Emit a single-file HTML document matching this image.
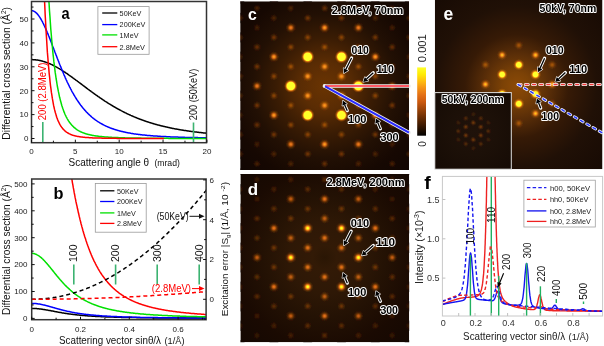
<!DOCTYPE html>
<html><head><meta charset="utf-8"><style>
html,body{margin:0;padding:0;background:#fff;}
svg{display:block;}
text{opacity:0.999}
</style></head><body>
<svg width="604" height="346" viewBox="0 0 604 346">
<rect width="604" height="346" fill="#fff"/>
<clipPath id="clipa"><rect x="31.5" y="1.5" width="175.0" height="141.2"/></clipPath>
<g clip-path="url(#clipa)" fill="none" stroke-width="1.5" stroke-linejoin="round">
<path d="M31.5,59.6 L31.9,59.6 L32.4,59.6 L32.8,59.7 L33.3,59.7 L33.7,59.7 L34.1,59.7 L34.6,59.8 L35.0,59.8 L35.5,59.8 L35.9,59.9 L36.3,59.9 L36.8,60.0 L37.2,60.0 L37.7,60.1 L38.1,60.2 L38.5,60.3 L39.0,60.3 L39.4,60.4 L39.9,60.5 L40.3,60.6 L40.7,60.7 L41.2,60.8 L41.6,60.9 L42.1,61.0 L42.5,61.2 L42.9,61.3 L43.4,61.4 L43.8,61.5 L44.2,61.7 L44.7,61.8 L45.1,62.0 L45.6,62.1 L46.0,62.3 L46.4,62.4 L46.9,62.6 L47.3,62.7 L47.8,62.9 L48.2,63.1 L48.6,63.3 L49.1,63.4 L49.5,63.6 L50.0,63.8 L50.4,64.0 L50.8,64.2 L51.3,64.4 L51.7,64.6 L52.2,64.8 L52.6,65.0 L53.0,65.3 L53.5,65.5 L53.9,65.7 L54.4,65.9 L54.8,66.2 L55.2,66.4 L55.7,66.6 L56.1,66.9 L56.6,67.1 L57.0,67.3 L57.4,67.6 L57.9,67.9 L58.3,68.1 L58.8,68.4 L59.2,68.6 L59.6,68.9 L60.1,69.2 L60.5,69.4 L61.0,69.7 L61.4,70.0 L61.8,70.2 L62.3,70.5 L62.7,70.8 L63.2,71.1 L63.6,71.4 L64.0,71.7 L64.5,72.0 L64.9,72.2 L65.3,72.5 L65.8,72.8 L66.2,73.1 L66.7,73.4 L67.1,73.7 L67.5,74.0 L68.0,74.3 L68.4,74.6 L68.9,75.0 L69.3,75.3 L69.7,75.6 L70.2,75.9 L70.6,76.2 L71.1,76.5 L71.5,76.8 L71.9,77.2 L72.4,77.5 L72.8,77.8 L73.3,78.1 L73.7,78.4 L74.1,78.8 L74.6,79.1 L75.0,79.4 L75.5,79.7 L75.9,80.1 L76.3,80.4 L76.8,80.7 L77.2,81.0 L77.7,81.4 L78.1,81.7 L78.5,82.0 L79.0,82.4 L79.4,82.7 L79.9,83.0 L80.3,83.3 L80.7,83.7 L81.2,84.0 L81.6,84.3 L82.1,84.7 L82.5,85.0 L82.9,85.3 L83.4,85.7 L83.8,86.0 L84.3,86.3 L84.7,86.7 L85.1,87.0 L85.6,87.3 L86.0,87.6 L86.4,88.0 L86.9,88.3 L87.3,88.6 L87.8,89.0 L88.2,89.3 L88.6,89.6 L89.1,89.9 L89.5,90.3 L90.0,90.6 L90.4,90.9 L90.8,91.2 L91.3,91.6 L91.7,91.9 L92.2,92.2 L92.6,92.5 L93.0,92.8 L93.5,93.2 L93.9,93.5 L94.4,93.8 L94.8,94.1 L95.2,94.4 L95.7,94.7 L96.1,95.1 L96.6,95.4 L97.0,95.7 L97.4,96.0 L97.9,96.3 L98.3,96.6 L98.8,96.9 L99.2,97.2 L99.6,97.5 L100.1,97.8 L100.5,98.1 L101.0,98.4 L101.4,98.7 L101.8,99.0 L102.3,99.3 L102.7,99.6 L103.2,99.9 L103.6,100.2 L104.0,100.5 L104.5,100.8 L104.9,101.1 L105.4,101.4 L105.8,101.6 L106.2,101.9 L106.7,102.2 L107.1,102.5 L107.6,102.8 L108.0,103.0 L108.4,103.3 L108.9,103.6 L109.3,103.9 L109.7,104.1 L110.2,104.4 L110.6,104.7 L111.1,104.9 L111.5,105.2 L111.9,105.5 L112.4,105.7 L112.8,106.0 L113.3,106.3 L113.7,106.5 L114.1,106.8 L114.6,107.0 L115.0,107.3 L115.5,107.5 L115.9,107.8 L116.3,108.0 L116.8,108.3 L117.2,108.5 L117.7,108.8 L118.1,109.0 L118.5,109.3 L119.0,109.5 L119.4,109.7 L119.9,110.0 L120.3,110.2 L120.7,110.4 L121.2,110.7 L121.6,110.9 L122.1,111.1 L122.5,111.4 L122.9,111.6 L123.4,111.8 L123.8,112.0 L124.3,112.3 L124.7,112.5 L125.1,112.7 L125.6,112.9 L126.0,113.1 L126.5,113.3 L126.9,113.6 L127.3,113.8 L127.8,114.0 L128.2,114.2 L128.7,114.4 L129.1,114.6 L129.5,114.8 L130.0,115.0 L130.4,115.2 L130.8,115.4 L131.3,115.6 L131.7,115.8 L132.2,116.0 L132.6,116.2 L133.0,116.4 L133.5,116.5 L133.9,116.7 L134.4,116.9 L134.8,117.1 L135.2,117.3 L135.7,117.5 L136.1,117.6 L136.6,117.8 L137.0,118.0 L137.4,118.2 L137.9,118.4 L138.3,118.5 L138.8,118.7 L139.2,118.9 L139.6,119.0 L140.1,119.2 L140.5,119.4 L141.0,119.5 L141.4,119.7 L141.8,119.9 L142.3,120.0 L142.7,120.2 L143.2,120.3 L143.6,120.5 L144.0,120.6 L144.5,120.8 L144.9,121.0 L145.4,121.1 L145.8,121.3 L146.2,121.4 L146.7,121.6 L147.1,121.7 L147.6,121.8 L148.0,122.0 L148.4,122.1 L148.9,122.3 L149.3,122.4 L149.8,122.6 L150.2,122.7 L150.6,122.8 L151.1,123.0 L151.5,123.1 L152.0,123.2 L152.4,123.4 L152.8,123.5 L153.3,123.6 L153.7,123.8 L154.1,123.9 L154.6,124.0 L155.0,124.1 L155.5,124.3 L155.9,124.4 L156.3,124.5 L156.8,124.6 L157.2,124.8 L157.7,124.9 L158.1,125.0 L158.5,125.1 L159.0,125.2 L159.4,125.3 L159.9,125.5 L160.3,125.6 L160.7,125.7 L161.2,125.8 L161.6,125.9 L162.1,126.0 L162.5,126.1 L162.9,126.2 L163.4,126.3 L163.8,126.4 L164.3,126.5 L164.7,126.6 L165.1,126.7 L165.6,126.8 L166.0,126.9 L166.5,127.0 L166.9,127.1 L167.3,127.2 L167.8,127.3 L168.2,127.4 L168.7,127.5 L169.1,127.6 L169.5,127.7 L170.0,127.8 L170.4,127.9 L170.9,128.0 L171.3,128.1 L171.7,128.2 L172.2,128.3 L172.6,128.4 L173.1,128.4 L173.5,128.5 L173.9,128.6 L174.4,128.7 L174.8,128.8 L175.2,128.9 L175.7,128.9 L176.1,129.0 L176.6,129.1 L177.0,129.2 L177.4,129.3 L177.9,129.3 L178.3,129.4 L178.8,129.5 L179.2,129.6 L179.6,129.7 L180.1,129.7 L180.5,129.8 L181.0,129.9 L181.4,130.0 L181.8,130.0 L182.3,130.1 L182.7,130.2 L183.2,130.2 L183.6,130.3 L184.0,130.4 L184.5,130.4 L184.9,130.5 L185.4,130.6 L185.8,130.6 L186.2,130.7 L186.7,130.8 L187.1,130.8 L187.6,130.9 L188.0,131.0 L188.4,131.0 L188.9,131.1 L189.3,131.2 L189.8,131.2 L190.2,131.3 L190.6,131.3 L191.1,131.4 L191.5,131.5 L192.0,131.5 L192.4,131.6 L192.8,131.6 L193.3,131.7 L193.7,131.8 L194.2,131.8 L194.6,131.9 L195.0,131.9 L195.5,132.0 L195.9,132.0 L196.3,132.1 L196.8,132.1 L197.2,132.2 L197.7,132.2 L198.1,132.3 L198.5,132.3 L199.0,132.4 L199.4,132.4 L199.9,132.5 L200.3,132.5 L200.7,132.6 L201.2,132.6 L201.6,132.7 L202.1,132.7 L202.5,132.8 L202.9,132.8 L203.4,132.9 L203.8,132.9 L204.3,133.0 L204.7,133.0 L205.1,133.1 L205.6,133.1 L206.0,133.2 L206.5,133.2 L206.9,133.2" stroke="#000"/>
<path d="M31.5,10.6 L31.9,10.7 L32.4,10.7 L32.8,10.8 L33.3,10.9 L33.7,11.1 L34.1,11.3 L34.6,11.6 L35.0,11.9 L35.5,12.2 L35.9,12.6 L36.3,12.9 L36.8,13.4 L37.2,13.9 L37.7,14.4 L38.1,14.9 L38.5,15.5 L39.0,16.1 L39.4,16.7 L39.9,17.4 L40.3,18.1 L40.7,18.8 L41.2,19.5 L41.6,20.3 L42.1,21.1 L42.5,21.9 L42.9,22.8 L43.4,23.7 L43.8,24.6 L44.2,25.5 L44.7,26.5 L45.1,27.4 L45.6,28.4 L46.0,29.4 L46.4,30.4 L46.9,31.5 L47.3,32.5 L47.8,33.6 L48.2,34.6 L48.6,35.7 L49.1,36.8 L49.5,37.9 L50.0,39.1 L50.4,40.2 L50.8,41.3 L51.3,42.4 L51.7,43.6 L52.2,44.7 L52.6,45.9 L53.0,47.0 L53.5,48.2 L53.9,49.3 L54.4,50.5 L54.8,51.7 L55.2,52.8 L55.7,54.0 L56.1,55.1 L56.6,56.3 L57.0,57.4 L57.4,58.5 L57.9,59.7 L58.3,60.8 L58.8,61.9 L59.2,63.1 L59.6,64.2 L60.1,65.3 L60.5,66.4 L61.0,67.4 L61.4,68.5 L61.8,69.6 L62.3,70.7 L62.7,71.7 L63.2,72.7 L63.6,73.8 L64.0,74.8 L64.5,75.8 L64.9,76.8 L65.3,77.8 L65.8,78.8 L66.2,79.8 L66.7,80.7 L67.1,81.7 L67.5,82.6 L68.0,83.5 L68.4,84.4 L68.9,85.3 L69.3,86.2 L69.7,87.1 L70.2,87.9 L70.6,88.8 L71.1,89.6 L71.5,90.5 L71.9,91.3 L72.4,92.1 L72.8,92.9 L73.3,93.6 L73.7,94.4 L74.1,95.2 L74.6,95.9 L75.0,96.6 L75.5,97.4 L75.9,98.1 L76.3,98.8 L76.8,99.5 L77.2,100.1 L77.7,100.8 L78.1,101.5 L78.5,102.1 L79.0,102.7 L79.4,103.4 L79.9,104.0 L80.3,104.6 L80.7,105.2 L81.2,105.8 L81.6,106.3 L82.1,106.9 L82.5,107.4 L82.9,108.0 L83.4,108.5 L83.8,109.0 L84.3,109.5 L84.7,110.1 L85.1,110.5 L85.6,111.0 L86.0,111.5 L86.4,112.0 L86.9,112.4 L87.3,112.9 L87.8,113.3 L88.2,113.8 L88.6,114.2 L89.1,114.6 L89.5,115.0 L90.0,115.4 L90.4,115.8 L90.8,116.2 L91.3,116.6 L91.7,117.0 L92.2,117.4 L92.6,117.7 L93.0,118.1 L93.5,118.4 L93.9,118.8 L94.4,119.1 L94.8,119.4 L95.2,119.8 L95.7,120.1 L96.1,120.4 L96.6,120.7 L97.0,121.0 L97.4,121.3 L97.9,121.6 L98.3,121.9 L98.8,122.2 L99.2,122.4 L99.6,122.7 L100.1,123.0 L100.5,123.2 L101.0,123.5 L101.4,123.7 L101.8,124.0 L102.3,124.2 L102.7,124.5 L103.2,124.7 L103.6,124.9 L104.0,125.1 L104.5,125.4 L104.9,125.6 L105.4,125.8 L105.8,126.0 L106.2,126.2 L106.7,126.4 L107.1,126.6 L107.6,126.8 L108.0,127.0 L108.4,127.2 L108.9,127.3 L109.3,127.5 L109.7,127.7 L110.2,127.9 L110.6,128.0 L111.1,128.2 L111.5,128.4 L111.9,128.5 L112.4,128.7 L112.8,128.8 L113.3,129.0 L113.7,129.1 L114.1,129.3 L114.6,129.4 L115.0,129.6 L115.5,129.7 L115.9,129.8 L116.3,130.0 L116.8,130.1 L117.2,130.2 L117.7,130.4 L118.1,130.5 L118.5,130.6 L119.0,130.7 L119.4,130.9 L119.9,131.0 L120.3,131.1 L120.7,131.2 L121.2,131.3 L121.6,131.4 L122.1,131.5 L122.5,131.6 L122.9,131.7 L123.4,131.8 L123.8,131.9 L124.3,132.0 L124.7,132.1 L125.1,132.2 L125.6,132.3 L126.0,132.4 L126.5,132.5 L126.9,132.6 L127.3,132.7 L127.8,132.7 L128.2,132.8 L128.7,132.9 L129.1,133.0 L129.5,133.1 L130.0,133.1 L130.4,133.2 L130.8,133.3 L131.3,133.4 L131.7,133.4 L132.2,133.5 L132.6,133.6 L133.0,133.7 L133.5,133.7 L133.9,133.8 L134.4,133.9 L134.8,133.9 L135.2,134.0 L135.7,134.0 L136.1,134.1 L136.6,134.2 L137.0,134.2 L137.4,134.3 L137.9,134.3 L138.3,134.4 L138.8,134.5 L139.2,134.5 L139.6,134.6 L140.1,134.6 L140.5,134.7 L141.0,134.7 L141.4,134.8 L141.8,134.8 L142.3,134.9 L142.7,134.9 L143.2,135.0 L143.6,135.0 L144.0,135.1 L144.5,135.1 L144.9,135.1 L145.4,135.2 L145.8,135.2 L146.2,135.3 L146.7,135.3 L147.1,135.4 L147.6,135.4 L148.0,135.4 L148.4,135.5 L148.9,135.5 L149.3,135.6 L149.8,135.6 L150.2,135.6 L150.6,135.7 L151.1,135.7 L151.5,135.7 L152.0,135.8 L152.4,135.8 L152.8,135.8 L153.3,135.9 L153.7,135.9 L154.1,135.9 L154.6,136.0 L155.0,136.0 L155.5,136.0 L155.9,136.1 L156.3,136.1 L156.8,136.1 L157.2,136.1 L157.7,136.2 L158.1,136.2 L158.5,136.2 L159.0,136.3 L159.4,136.3 L159.9,136.3 L160.3,136.3 L160.7,136.4 L161.2,136.4 L161.6,136.4 L162.1,136.4 L162.5,136.5 L162.9,136.5 L163.4,136.5 L163.8,136.5 L164.3,136.6 L164.7,136.6 L165.1,136.6 L165.6,136.6 L166.0,136.6 L166.5,136.7 L166.9,136.7 L167.3,136.7 L167.8,136.7 L168.2,136.8 L168.7,136.8 L169.1,136.8 L169.5,136.8 L170.0,136.8 L170.4,136.9 L170.9,136.9 L171.3,136.9 L171.7,136.9 L172.2,136.9 L172.6,136.9 L173.1,137.0 L173.5,137.0 L173.9,137.0 L174.4,137.0 L174.8,137.0 L175.2,137.0 L175.7,137.1 L176.1,137.1 L176.6,137.1 L177.0,137.1 L177.4,137.1 L177.9,137.1 L178.3,137.2 L178.8,137.2 L179.2,137.2 L179.6,137.2 L180.1,137.2 L180.5,137.2 L181.0,137.2 L181.4,137.2 L181.8,137.3 L182.3,137.3 L182.7,137.3 L183.2,137.3 L183.6,137.3 L184.0,137.3 L184.5,137.3 L184.9,137.4 L185.4,137.4 L185.8,137.4 L186.2,137.4 L186.7,137.4 L187.1,137.4 L187.6,137.4 L188.0,137.4 L188.4,137.4 L188.9,137.5 L189.3,137.5 L189.8,137.5 L190.2,137.5 L190.6,137.5 L191.1,137.5 L191.5,137.5 L192.0,137.5 L192.4,137.5 L192.8,137.5 L193.3,137.6 L193.7,137.6 L194.2,137.6 L194.6,137.6 L195.0,137.6 L195.5,137.6 L195.9,137.6 L196.3,137.6 L196.8,137.6 L197.2,137.6 L197.7,137.6 L198.1,137.7 L198.5,137.7 L199.0,137.7 L199.4,137.7 L199.9,137.7 L200.3,137.7 L200.7,137.7 L201.2,137.7 L201.6,137.7 L202.1,137.7 L202.5,137.7 L202.9,137.7 L203.4,137.7 L203.8,137.8 L204.3,137.8 L204.7,137.8 L205.1,137.8 L205.6,137.8 L206.0,137.8 L206.5,137.8 L206.9,137.8" stroke="#0000ff"/>
<path d="M31.5,-28.8 L31.9,-28.8 L32.4,-28.8 L32.8,-28.8 L33.3,-28.8 L33.7,-28.8 L34.1,-28.8 L34.6,-28.8 L35.0,-28.8 L35.5,-28.8 L35.9,-28.8 L36.3,-28.8 L36.8,-28.8 L37.2,-28.8 L37.7,-28.8 L38.1,-28.8 L38.5,-28.8 L39.0,-28.8 L39.4,-28.8 L39.9,-28.8 L40.3,-28.8 L40.7,-28.8 L41.2,-28.8 L41.6,-28.8 L42.1,-28.8 L42.5,-28.8 L42.9,-28.8 L43.4,-28.8 L43.8,-28.8 L44.2,-28.8 L44.7,-28.8 L45.1,-28.8 L45.6,-28.8 L46.0,-28.8 L46.4,-28.8 L46.9,-28.8 L47.3,-27.2 L47.8,-18.8 L48.2,-10.8 L48.6,-3.2 L49.1,4.0 L49.5,10.9 L50.0,17.3 L50.4,23.4 L50.8,29.2 L51.3,34.7 L51.7,39.9 L52.2,44.8 L52.6,49.4 L53.0,53.8 L53.5,58.0 L53.9,61.9 L54.4,65.6 L54.8,69.1 L55.2,72.4 L55.7,75.6 L56.1,78.5 L56.6,81.4 L57.0,84.0 L57.4,86.5 L57.9,88.9 L58.3,91.2 L58.8,93.3 L59.2,95.3 L59.6,97.3 L60.1,99.1 L60.5,100.8 L61.0,102.5 L61.4,104.0 L61.8,105.5 L62.3,106.9 L62.7,108.2 L63.2,109.5 L63.6,110.7 L64.0,111.9 L64.5,112.9 L64.9,114.0 L65.3,115.0 L65.8,115.9 L66.2,116.8 L66.7,117.7 L67.1,118.5 L67.5,119.2 L68.0,120.0 L68.4,120.7 L68.9,121.4 L69.3,122.0 L69.7,122.6 L70.2,123.2 L70.6,123.8 L71.1,124.3 L71.5,124.8 L71.9,125.3 L72.4,125.8 L72.8,126.2 L73.3,126.6 L73.7,127.1 L74.1,127.5 L74.6,127.8 L75.0,128.2 L75.5,128.5 L75.9,128.9 L76.3,129.2 L76.8,129.5 L77.2,129.8 L77.7,130.1 L78.1,130.3 L78.5,130.6 L79.0,130.9 L79.4,131.1 L79.9,131.3 L80.3,131.6 L80.7,131.8 L81.2,132.0 L81.6,132.2 L82.1,132.4 L82.5,132.6 L82.9,132.7 L83.4,132.9 L83.8,133.1 L84.3,133.2 L84.7,133.4 L85.1,133.5 L85.6,133.7 L86.0,133.8 L86.4,133.9 L86.9,134.1 L87.3,134.2 L87.8,134.3 L88.2,134.4 L88.6,134.5 L89.1,134.6 L89.5,134.7 L90.0,134.8 L90.4,134.9 L90.8,135.0 L91.3,135.1 L91.7,135.2 L92.2,135.3 L92.6,135.4 L93.0,135.5 L93.5,135.5 L93.9,135.6 L94.4,135.7 L94.8,135.8 L95.2,135.8 L95.7,135.9 L96.1,136.0 L96.6,136.0 L97.0,136.1 L97.4,136.1 L97.9,136.2 L98.3,136.3 L98.8,136.3 L99.2,136.4 L99.6,136.4 L100.1,136.5 L100.5,136.5 L101.0,136.5 L101.4,136.6 L101.8,136.6 L102.3,136.7 L102.7,136.7 L103.2,136.8 L103.6,136.8 L104.0,136.8 L104.5,136.9 L104.9,136.9 L105.4,136.9 L105.8,137.0 L106.2,137.0 L106.7,137.0 L107.1,137.1 L107.6,137.1 L108.0,137.1 L108.4,137.2 L108.9,137.2 L109.3,137.2 L109.7,137.2 L110.2,137.3 L110.6,137.3 L111.1,137.3 L111.5,137.3 L111.9,137.4 L112.4,137.4 L112.8,137.4 L113.3,137.4 L113.7,137.5 L114.1,137.5 L114.6,137.5 L115.0,137.5 L115.5,137.5 L115.9,137.6 L116.3,137.6 L116.8,137.6 L117.2,137.6 L117.7,137.6 L118.1,137.6 L118.5,137.7 L119.0,137.7 L119.4,137.7 L119.9,137.7 L120.3,137.7 L120.7,137.7 L121.2,137.7 L121.6,137.8 L122.1,137.8 L122.5,137.8 L122.9,137.8 L123.4,137.8 L123.8,137.8 L124.3,137.8 L124.7,137.8 L125.1,137.9 L125.6,137.9 L126.0,137.9 L126.5,137.9 L126.9,137.9 L127.3,137.9 L127.8,137.9 L128.2,137.9 L128.7,137.9 L129.1,138.0 L129.5,138.0 L130.0,138.0 L130.4,138.0 L130.8,138.0 L131.3,138.0 L131.7,138.0 L132.2,138.0 L132.6,138.0 L133.0,138.0 L133.5,138.0 L133.9,138.0 L134.4,138.1 L134.8,138.1 L135.2,138.1 L135.7,138.1 L136.1,138.1 L136.6,138.1 L137.0,138.1 L137.4,138.1 L137.9,138.1 L138.3,138.1 L138.8,138.1 L139.2,138.1 L139.6,138.1 L140.1,138.1 L140.5,138.1 L141.0,138.1 L141.4,138.2 L141.8,138.2 L142.3,138.2 L142.7,138.2 L143.2,138.2 L143.6,138.2 L144.0,138.2 L144.5,138.2 L144.9,138.2 L145.4,138.2 L145.8,138.2 L146.2,138.2 L146.7,138.2 L147.1,138.2 L147.6,138.2 L148.0,138.2 L148.4,138.2 L148.9,138.2 L149.3,138.2 L149.8,138.2 L150.2,138.2 L150.6,138.2 L151.1,138.2 L151.5,138.3 L152.0,138.3 L152.4,138.3 L152.8,138.3 L153.3,138.3 L153.7,138.3 L154.1,138.3 L154.6,138.3 L155.0,138.3 L155.5,138.3 L155.9,138.3 L156.3,138.3 L156.8,138.3 L157.2,138.3 L157.7,138.3 L158.1,138.3 L158.5,138.3 L159.0,138.3 L159.4,138.3 L159.9,138.3 L160.3,138.3 L160.7,138.3 L161.2,138.3 L161.6,138.3 L162.1,138.3 L162.5,138.3 L162.9,138.3 L163.4,138.3 L163.8,138.3 L164.3,138.3 L164.7,138.3 L165.1,138.3 L165.6,138.3 L166.0,138.3 L166.5,138.3 L166.9,138.3 L167.3,138.3 L167.8,138.3 L168.2,138.3 L168.7,138.4 L169.1,138.4 L169.5,138.4 L170.0,138.4 L170.4,138.4 L170.9,138.4 L171.3,138.4 L171.7,138.4 L172.2,138.4 L172.6,138.4 L173.1,138.4 L173.5,138.4 L173.9,138.4 L174.4,138.4 L174.8,138.4 L175.2,138.4 L175.7,138.4 L176.1,138.4 L176.6,138.4 L177.0,138.4 L177.4,138.4 L177.9,138.4 L178.3,138.4 L178.8,138.4 L179.2,138.4 L179.6,138.4 L180.1,138.4 L180.5,138.4 L181.0,138.4 L181.4,138.4 L181.8,138.4 L182.3,138.4 L182.7,138.4 L183.2,138.4 L183.6,138.4 L184.0,138.4 L184.5,138.4 L184.9,138.4 L185.4,138.4 L185.8,138.4 L186.2,138.4 L186.7,138.4 L187.1,138.4 L187.6,138.4 L188.0,138.4 L188.4,138.4 L188.9,138.4 L189.3,138.4 L189.8,138.4 L190.2,138.4 L190.6,138.4 L191.1,138.4 L191.5,138.4 L192.0,138.4 L192.4,138.4 L192.8,138.4 L193.3,138.4 L193.7,138.4 L194.2,138.4 L194.6,138.4 L195.0,138.4 L195.5,138.4 L195.9,138.4 L196.3,138.4 L196.8,138.4 L197.2,138.4 L197.7,138.4 L198.1,138.4 L198.5,138.4 L199.0,138.4 L199.4,138.4 L199.9,138.4 L200.3,138.4 L200.7,138.4 L201.2,138.4 L201.6,138.4 L202.1,138.4 L202.5,138.4 L202.9,138.4 L203.4,138.4 L203.8,138.4 L204.3,138.4 L204.7,138.4 L205.1,138.4 L205.6,138.4 L206.0,138.4 L206.5,138.4 L206.9,138.4" stroke="#00e000"/>
<path d="M31.5,-28.8 L31.9,-28.8 L32.4,-28.8 L32.8,-28.8 L33.3,-28.8 L33.7,-28.8 L34.2,-28.8 L34.6,-28.8 L35.0,-28.8 L35.5,-28.8 L35.9,-28.8 L36.4,-28.8 L36.8,-28.8 L37.3,-28.8 L37.7,-28.8 L38.1,-28.8 L38.6,-28.8 L39.0,-28.8 L39.5,-28.8 L39.9,-28.8 L40.4,-28.8 L40.8,-28.8 L41.2,-28.8 L41.7,-28.8 L42.1,-28.8 L42.6,-28.8 L43.0,-28.8 L43.5,-25.6 L43.9,-14.3 L44.3,-3.8 L44.8,6.1 L45.2,15.3 L45.7,23.8 L46.1,31.8 L46.6,39.2 L47.0,46.0 L47.4,52.4 L47.9,58.3 L48.3,63.8 L48.8,68.9 L49.2,73.6 L49.7,77.9 L50.1,82.0 L50.5,85.7 L51.0,89.2 L51.4,92.4 L51.9,95.4 L52.3,98.2 L52.8,100.8 L53.2,103.2 L53.6,105.4 L54.1,107.5 L54.5,109.4 L55.0,111.2 L55.4,112.8 L55.9,114.4 L56.3,115.8 L56.7,117.2 L57.2,118.4 L57.6,119.6 L58.1,120.7 L58.5,121.7 L59.0,122.6 L59.4,123.5 L59.8,124.4 L60.3,125.1 L60.7,125.9 L61.2,126.5 L61.6,127.2 L62.1,127.8 L62.5,128.3 L62.9,128.9 L63.4,129.4 L63.8,129.8 L64.3,130.3 L64.7,130.7 L65.2,131.1 L65.6,131.4 L66.0,131.8 L66.5,132.1 L66.9,132.4 L67.4,132.7 L67.8,133.0 L68.3,133.2 L68.7,133.5 L69.1,133.7 L69.6,133.9 L70.0,134.1 L70.5,134.3 L70.9,134.5 L71.4,134.7 L71.8,134.8 L72.2,135.0 L72.7,135.2 L73.1,135.3 L73.6,135.4 L74.0,135.6 L74.5,135.7 L74.9,135.8 L75.3,135.9 L75.8,136.0 L76.2,136.1 L76.7,136.2 L77.1,136.3 L77.6,136.4 L78.0,136.5 L78.4,136.5 L78.9,136.6 L79.3,136.7 L79.8,136.8 L80.2,136.8 L80.7,136.9 L81.1,136.9 L81.5,137.0 L82.0,137.1 L82.4,137.1 L82.9,137.2 L83.3,137.2 L83.8,137.3 L84.2,137.3 L84.6,137.3 L85.1,137.4 L85.5,137.4 L86.0,137.5 L86.4,137.5 L86.9,137.5 L87.3,137.6 L87.7,137.6 L88.2,137.6 L88.6,137.6 L89.1,137.7 L89.5,137.7 L90.0,137.7 L90.4,137.7 L90.8,137.8 L91.3,137.8 L91.7,137.8 L92.2,137.8 L92.6,137.9 L93.1,137.9 L93.5,137.9 L93.9,137.9 L94.4,137.9 L94.8,137.9 L95.3,138.0 L95.7,138.0 L96.2,138.0 L96.6,138.0 L97.0,138.0 L97.5,138.0 L97.9,138.1 L98.4,138.1 L98.8,138.1 L99.3,138.1 L99.7,138.1 L100.1,138.1 L100.6,138.1 L101.0,138.1 L101.5,138.1 L101.9,138.2 L102.4,138.2 L102.8,138.2 L103.2,138.2 L103.7,138.2 L104.1,138.2 L104.6,138.2 L105.0,138.2 L105.5,138.2 L105.9,138.2 L106.4,138.2 L106.8,138.2 L107.2,138.2 L107.7,138.3 L108.1,138.3 L108.6,138.3 L109.0,138.3 L109.5,138.3 L109.9,138.3 L110.3,138.3 L110.8,138.3 L111.2,138.3 L111.7,138.3 L112.1,138.3 L112.6,138.3 L113.0,138.3 L113.4,138.3 L113.9,138.3 L114.3,138.3 L114.8,138.3 L115.2,138.3 L115.7,138.3 L116.1,138.3 L116.5,138.3 L117.0,138.4 L117.4,138.4 L117.9,138.4 L118.3,138.4 L118.8,138.4 L119.2,138.4 L119.6,138.4 L120.1,138.4 L120.5,138.4 L121.0,138.4 L121.4,138.4 L121.9,138.4 L122.3,138.4 L122.7,138.4 L123.2,138.4 L123.6,138.4 L124.1,138.4 L124.5,138.4 L125.0,138.4 L125.4,138.4 L125.8,138.4 L126.3,138.4 L126.7,138.4 L127.2,138.4 L127.6,138.4 L128.1,138.4 L128.5,138.4 L128.9,138.4 L129.4,138.4 L129.8,138.4 L130.3,138.4 L130.7,138.4 L131.2,138.4 L131.6,138.4 L132.0,138.4 L132.5,138.4 L132.9,138.4 L133.4,138.4 L133.8,138.4 L134.3,138.4 L134.7,138.4 L135.1,138.4 L135.6,138.4 L136.0,138.4 L136.5,138.4 L136.9,138.4 L137.4,138.4 L137.8,138.4 L138.2,138.4 L138.7,138.4 L139.1,138.4 L139.6,138.4 L140.0,138.4 L140.5,138.4 L140.9,138.4 L141.3,138.5 L141.8,138.5 L142.2,138.5 L142.7,138.5 L143.1,138.5 L143.6,138.5 L144.0,138.5 L144.4,138.5 L144.9,138.5 L145.3,138.5 L145.8,138.5 L146.2,138.5 L146.7,138.5 L147.1,138.5 L147.5,138.5 L148.0,138.5 L148.4,138.5 L148.9,138.5 L149.3,138.5 L149.8,138.5 L150.2,138.5 L150.6,138.5 L151.1,138.5 L151.5,138.5 L152.0,138.5 L152.4,138.5 L152.9,138.5 L153.3,138.5 L153.7,138.5 L154.2,138.5 L154.6,138.5 L155.1,138.5 L155.5,138.5 L156.0,138.5 L156.4,138.5 L156.8,138.5 L157.3,138.5 L157.7,138.5 L158.2,138.5 L158.6,138.5 L159.1,138.5 L159.5,138.5 L159.9,138.5 L160.4,138.5 L160.8,138.5 L161.3,138.5 L161.7,138.5 L162.2,138.5 L162.6,138.5 L163.0,138.5 L163.5,138.5 L163.9,138.5" stroke="#ff0000"/>
</g>
<g stroke="#3cb371" stroke-width="1.6">
<line x1="42.8" y1="122" x2="42.8" y2="142.5"/>
<line x1="193.5" y1="122.5" x2="193.5" y2="142.5"/>
</g>
<rect x="31.5" y="1.5" width="175.0" height="141.2" fill="none" stroke="#333" stroke-width="1.5"/>
<g stroke="#111" stroke-width="1">
<line x1="31.50" y1="142.7" x2="31.50" y2="139.7"/>
<line x1="53.42" y1="142.7" x2="53.42" y2="140.7"/>
<line x1="75.35" y1="142.7" x2="75.35" y2="139.7"/>
<line x1="97.27" y1="142.7" x2="97.27" y2="140.7"/>
<line x1="119.20" y1="142.7" x2="119.20" y2="139.7"/>
<line x1="141.12" y1="142.7" x2="141.12" y2="140.7"/>
<line x1="163.05" y1="142.7" x2="163.05" y2="139.7"/>
<line x1="184.97" y1="142.7" x2="184.97" y2="140.7"/>
<line x1="206.90" y1="142.7" x2="206.90" y2="139.7"/>
<line x1="31.5" y1="138.50" x2="34.5" y2="138.50"/>
<line x1="31.5" y1="126.55" x2="33.5" y2="126.55"/>
<line x1="31.5" y1="114.60" x2="34.5" y2="114.60"/>
<line x1="31.5" y1="102.65" x2="33.5" y2="102.65"/>
<line x1="31.5" y1="90.70" x2="34.5" y2="90.70"/>
<line x1="31.5" y1="78.75" x2="33.5" y2="78.75"/>
<line x1="31.5" y1="66.80" x2="34.5" y2="66.80"/>
<line x1="31.5" y1="54.85" x2="33.5" y2="54.85"/>
<line x1="31.5" y1="42.90" x2="34.5" y2="42.90"/>
<line x1="31.5" y1="30.95" x2="33.5" y2="30.95"/>
<line x1="31.5" y1="19.00" x2="34.5" y2="19.00"/>
<line x1="31.5" y1="7.05" x2="33.5" y2="7.05"/>
</g>
<g font-family='"Liberation Sans", sans-serif' font-size="8" fill="#222">
<text x="28.5" y="141.30" text-anchor="end">0</text>
<text x="28.5" y="117.40" text-anchor="end">10</text>
<text x="28.5" y="93.50" text-anchor="end">20</text>
<text x="28.5" y="69.60" text-anchor="end">30</text>
<text x="28.5" y="45.70" text-anchor="end">40</text>
<text x="28.5" y="21.80" text-anchor="end">50</text>
<text x="31.50" y="153.8" text-anchor="middle">0</text>
<text x="75.35" y="153.8" text-anchor="middle">5</text>
<text x="119.20" y="153.8" text-anchor="middle">10</text>
<text x="163.05" y="153.8" text-anchor="middle">15</text>
<text x="206.90" y="153.8" text-anchor="middle">20</text>
</g>
<rect x="97.9" y="6.6" width="51.2" height="47.7" fill="#fff" stroke="#999" stroke-width="0.8"/>
<line x1="102.2" y1="13" x2="117.3" y2="13" stroke="#000" stroke-width="1.3"/>
<text x="119.6" y="15.8" font-family='"Liberation Sans", sans-serif' font-size="7.8" fill="#222" textLength="21.8" lengthAdjust="spacingAndGlyphs">50KeV</text>
<line x1="102.2" y1="24.6" x2="117.3" y2="24.6" stroke="#0000ff" stroke-width="1.3"/>
<text x="119.6" y="27.400000000000002" font-family='"Liberation Sans", sans-serif' font-size="7.8" fill="#222" textLength="25.8" lengthAdjust="spacingAndGlyphs">200KeV</text>
<line x1="102.2" y1="34.9" x2="117.3" y2="34.9" stroke="#00e000" stroke-width="1.3"/>
<text x="119.6" y="37.699999999999996" font-family='"Liberation Sans", sans-serif' font-size="7.8" fill="#222" textLength="18.9" lengthAdjust="spacingAndGlyphs">1MeV</text>
<line x1="102.2" y1="46.7" x2="117.3" y2="46.7" stroke="#ff0000" stroke-width="1.3"/>
<text x="119.6" y="49.5" font-family='"Liberation Sans", sans-serif' font-size="7.8" fill="#222" textLength="25.3" lengthAdjust="spacingAndGlyphs">2.8MeV</text>
<text transform="translate(61.4,19.1) scale(0.86,1)" font-family='"Liberation Sans", sans-serif' font-size="17" font-weight="bold" fill="#000">a</text>
<text transform="translate(46.2,120.2) rotate(-90)" font-family='"Liberation Sans", sans-serif' font-size="10" fill="#ff0000" textLength="57.7" lengthAdjust="spacingAndGlyphs">200 (2.8MeV)</text>
<text transform="translate(197,120.2) rotate(-90)" font-family='"Liberation Sans", sans-serif' font-size="10" fill="#111" textLength="51.6" lengthAdjust="spacingAndGlyphs">200 (50KeV)</text>
<text transform="translate(9.6,139.7) rotate(-90)" font-family='"Liberation Sans", sans-serif' font-size="11" fill="#111" textLength="132.7" lengthAdjust="spacingAndGlyphs">Differential cross section (Å<tspan font-size="7" dy="-4">2</tspan><tspan dy="4">)</tspan></text>
<text x="68.6" y="166.3" font-family='"Liberation Sans", sans-serif' font-size="11" fill="#111" textLength="80.5" lengthAdjust="spacingAndGlyphs">Scattering angle θ</text>
<text x="154.4" y="165.5" font-family='"Liberation Sans", sans-serif' font-size="8.6" fill="#111" textLength="25.5" lengthAdjust="spacingAndGlyphs">(mrad)</text>
<clipPath id="clipb"><rect x="31.7" y="179.0" width="174.4" height="140.7"/></clipPath>
<g clip-path="url(#clipb)" fill="none" stroke-width="1.5" stroke-linejoin="round">
<path d="M31.7,308.4 L32.2,308.4 L32.6,308.5 L33.1,308.5 L33.5,308.5 L34.0,308.5 L34.4,308.5 L34.9,308.5 L35.3,308.5 L35.8,308.6 L36.2,308.6 L36.7,308.6 L37.1,308.7 L37.6,308.7 L38.0,308.8 L38.5,308.8 L38.9,308.8 L39.4,308.9 L39.8,308.9 L40.3,309.0 L40.8,309.1 L41.2,309.1 L41.7,309.2 L42.1,309.2 L42.6,309.3 L43.0,309.4 L43.5,309.4 L43.9,309.5 L44.4,309.6 L44.8,309.7 L45.3,309.7 L45.7,309.8 L46.2,309.9 L46.6,310.0 L47.1,310.0 L47.5,310.1 L48.0,310.2 L48.4,310.3 L48.9,310.4 L49.3,310.5 L49.8,310.5 L50.3,310.6 L50.7,310.7 L51.2,310.8 L51.6,310.9 L52.1,311.0 L52.5,311.1 L53.0,311.1 L53.4,311.2 L53.9,311.3 L54.3,311.4 L54.8,311.5 L55.2,311.6 L55.7,311.7 L56.1,311.7 L56.6,311.8 L57.0,311.9 L57.5,312.0 L57.9,312.1 L58.4,312.2 L58.9,312.2 L59.3,312.3 L59.8,312.4 L60.2,312.5 L60.7,312.6 L61.1,312.6 L61.6,312.7 L62.0,312.8 L62.5,312.9 L62.9,313.0 L63.4,313.0 L63.8,313.1 L64.3,313.2 L64.7,313.2 L65.2,313.3 L65.6,313.4 L66.1,313.5 L66.5,313.5 L67.0,313.6 L67.4,313.7 L67.9,313.7 L68.4,313.8 L68.8,313.9 L69.3,313.9 L69.7,314.0 L70.2,314.0 L70.6,314.1 L71.1,314.2 L71.5,314.2 L72.0,314.3 L72.4,314.3 L72.9,314.4 L73.3,314.5 L73.8,314.5 L74.2,314.6 L74.7,314.6 L75.1,314.7 L75.6,314.7 L76.0,314.8 L76.5,314.8 L77.0,314.9 L77.4,314.9 L77.9,315.0 L78.3,315.0 L78.8,315.1 L79.2,315.1 L79.7,315.2 L80.1,315.2 L80.6,315.3 L81.0,315.3 L81.5,315.3 L81.9,315.4 L82.4,315.4 L82.8,315.5 L83.3,315.5 L83.7,315.5 L84.2,315.6 L84.6,315.6 L85.1,315.7 L85.6,315.7 L86.0,315.7 L86.5,315.8 L86.9,315.8 L87.4,315.8 L87.8,315.9 L88.3,315.9 L88.7,315.9 L89.2,316.0 L89.6,316.0 L90.1,316.0 L90.5,316.1 L91.0,316.1 L91.4,316.1 L91.9,316.2 L92.3,316.2 L92.8,316.2 L93.2,316.2 L93.7,316.3 L94.1,316.3 L94.6,316.3 L95.1,316.3 L95.5,316.4 L96.0,316.4 L96.4,316.4 L96.9,316.4 L97.3,316.5 L97.8,316.5 L98.2,316.5 L98.7,316.5 L99.1,316.6 L99.6,316.6 L100.0,316.6 L100.5,316.6 L100.9,316.7 L101.4,316.7 L101.8,316.7 L102.3,316.7 L102.7,316.7 L103.2,316.8 L103.7,316.8 L104.1,316.8 L104.6,316.8 L105.0,316.8 L105.5,316.9 L105.9,316.9 L106.4,316.9 L106.8,316.9 L107.3,316.9 L107.7,316.9 L108.2,317.0 L108.6,317.0 L109.1,317.0 L109.5,317.0 L110.0,317.0 L110.4,317.0 L110.9,317.1 L111.3,317.1 L111.8,317.1 L112.3,317.1 L112.7,317.1 L113.2,317.1 L113.6,317.1 L114.1,317.2 L114.5,317.2 L115.0,317.2 L115.4,317.2 L115.9,317.2 L116.3,317.2 L116.8,317.2 L117.2,317.2 L117.7,317.3 L118.1,317.3 L118.6,317.3 L119.0,317.3 L119.5,317.3 L119.9,317.3 L120.4,317.3 L120.8,317.3 L121.3,317.4 L121.8,317.4 L122.2,317.4 L122.7,317.4 L123.1,317.4 L123.6,317.4 L124.0,317.4 L124.5,317.4 L124.9,317.4 L125.4,317.4 L125.8,317.5 L126.3,317.5 L126.7,317.5 L127.2,317.5 L127.6,317.5 L128.1,317.5 L128.5,317.5 L129.0,317.5 L129.4,317.5 L129.9,317.5 L130.4,317.5 L130.8,317.6 L131.3,317.6 L131.7,317.6 L132.2,317.6 L132.6,317.6 L133.1,317.6 L133.5,317.6 L134.0,317.6 L134.4,317.6 L134.9,317.6 L135.3,317.6 L135.8,317.6 L136.2,317.6 L136.7,317.7 L137.1,317.7 L137.6,317.7 L138.0,317.7 L138.5,317.7 L138.9,317.7 L139.4,317.7 L139.9,317.7 L140.3,317.7 L140.8,317.7 L141.2,317.7 L141.7,317.7 L142.1,317.7 L142.6,317.7 L143.0,317.7 L143.5,317.7 L143.9,317.8 L144.4,317.8 L144.8,317.8 L145.3,317.8 L145.7,317.8 L146.2,317.8 L146.6,317.8 L147.1,317.8 L147.5,317.8 L148.0,317.8 L148.5,317.8 L148.9,317.8 L149.4,317.8 L149.8,317.8 L150.3,317.8 L150.7,317.8 L151.2,317.8 L151.6,317.8 L152.1,317.8 L152.5,317.9 L153.0,317.9 L153.4,317.9 L153.9,317.9 L154.3,317.9 L154.8,317.9 L155.2,317.9 L155.7,317.9 L156.1,317.9 L156.6,317.9 L157.1,317.9 L157.5,317.9 L158.0,317.9 L158.4,317.9 L158.9,317.9 L159.3,317.9 L159.8,317.9 L160.2,317.9 L160.7,317.9 L161.1,317.9 L161.6,317.9 L162.0,317.9 L162.5,317.9 L162.9,317.9 L163.4,317.9 L163.8,318.0 L164.3,318.0 L164.7,318.0 L165.2,318.0 L165.6,318.0 L166.1,318.0 L166.6,318.0 L167.0,318.0 L167.5,318.0 L167.9,318.0 L168.4,318.0 L168.8,318.0 L169.3,318.0 L169.7,318.0 L170.2,318.0 L170.6,318.0 L171.1,318.0 L171.5,318.0 L172.0,318.0 L172.4,318.0 L172.9,318.0 L173.3,318.0 L173.8,318.0 L174.2,318.0 L174.7,318.0 L175.2,318.0 L175.6,318.0 L176.1,318.0 L176.5,318.0 L177.0,318.0 L177.4,318.0 L177.9,318.0 L178.3,318.0 L178.8,318.0 L179.2,318.1 L179.7,318.1 L180.1,318.1 L180.6,318.1 L181.0,318.1 L181.5,318.1 L181.9,318.1 L182.4,318.1 L182.8,318.1 L183.3,318.1 L183.8,318.1 L184.2,318.1 L184.7,318.1 L185.1,318.1 L185.6,318.1 L186.0,318.1 L186.5,318.1 L186.9,318.1 L187.4,318.1 L187.8,318.1 L188.3,318.1 L188.7,318.1 L189.2,318.1 L189.6,318.1 L190.1,318.1 L190.5,318.1 L191.0,318.1 L191.4,318.1 L191.9,318.1 L192.3,318.1 L192.8,318.1 L193.3,318.1 L193.7,318.1 L194.2,318.1 L194.6,318.1 L195.1,318.1 L195.5,318.1 L196.0,318.1 L196.4,318.1 L196.9,318.1 L197.3,318.1 L197.8,318.1 L198.2,318.1 L198.7,318.1 L199.1,318.1 L199.6,318.1 L200.0,318.1 L200.5,318.1 L200.9,318.1 L201.4,318.1 L201.9,318.2 L202.3,318.2 L202.8,318.2 L203.2,318.2 L203.7,318.2 L204.1,318.2 L204.6,318.2 L205.0,318.2 L205.5,318.2 L205.9,318.2 L206.4,318.2 L206.8,318.2 L207.3,318.2 L207.7,318.2 L208.2,318.2 L208.6,318.2 L209.1,318.2 L209.5,318.2 L210.0,318.2 L210.4,318.2 L210.9,318.2 L211.4,318.2 L211.8,318.2 L212.3,318.2" stroke="#000"/>
<path d="M31.7,303.4 L32.2,303.4 L32.6,303.4 L33.1,303.4 L33.5,303.4 L34.0,303.5 L34.4,303.5 L34.9,303.5 L35.3,303.5 L35.8,303.6 L36.2,303.6 L36.7,303.7 L37.1,303.7 L37.6,303.8 L38.0,303.9 L38.5,303.9 L38.9,304.0 L39.4,304.1 L39.8,304.1 L40.3,304.2 L40.8,304.3 L41.2,304.4 L41.7,304.5 L42.1,304.6 L42.6,304.7 L43.0,304.8 L43.5,304.9 L43.9,305.0 L44.4,305.1 L44.8,305.2 L45.3,305.3 L45.7,305.4 L46.2,305.6 L46.6,305.7 L47.1,305.8 L47.5,305.9 L48.0,306.0 L48.4,306.2 L48.9,306.3 L49.3,306.4 L49.8,306.6 L50.3,306.7 L50.7,306.8 L51.2,306.9 L51.6,307.1 L52.1,307.2 L52.5,307.3 L53.0,307.5 L53.4,307.6 L53.9,307.7 L54.3,307.8 L54.8,308.0 L55.2,308.1 L55.7,308.2 L56.1,308.4 L56.6,308.5 L57.0,308.6 L57.5,308.7 L57.9,308.9 L58.4,309.0 L58.9,309.1 L59.3,309.2 L59.8,309.4 L60.2,309.5 L60.7,309.6 L61.1,309.7 L61.6,309.8 L62.0,310.0 L62.5,310.1 L62.9,310.2 L63.4,310.3 L63.8,310.4 L64.3,310.5 L64.7,310.6 L65.2,310.7 L65.6,310.8 L66.1,310.9 L66.5,311.1 L67.0,311.2 L67.4,311.3 L67.9,311.4 L68.4,311.5 L68.8,311.6 L69.3,311.6 L69.7,311.7 L70.2,311.8 L70.6,311.9 L71.1,312.0 L71.5,312.1 L72.0,312.2 L72.4,312.3 L72.9,312.4 L73.3,312.5 L73.8,312.5 L74.2,312.6 L74.7,312.7 L75.1,312.8 L75.6,312.9 L76.0,312.9 L76.5,313.0 L77.0,313.1 L77.4,313.2 L77.9,313.2 L78.3,313.3 L78.8,313.4 L79.2,313.5 L79.7,313.5 L80.1,313.6 L80.6,313.7 L81.0,313.7 L81.5,313.8 L81.9,313.8 L82.4,313.9 L82.8,314.0 L83.3,314.0 L83.7,314.1 L84.2,314.2 L84.6,314.2 L85.1,314.3 L85.6,314.3 L86.0,314.4 L86.5,314.4 L86.9,314.5 L87.4,314.5 L87.8,314.6 L88.3,314.6 L88.7,314.7 L89.2,314.7 L89.6,314.8 L90.1,314.8 L90.5,314.9 L91.0,314.9 L91.4,315.0 L91.9,315.0 L92.3,315.1 L92.8,315.1 L93.2,315.1 L93.7,315.2 L94.1,315.2 L94.6,315.3 L95.1,315.3 L95.5,315.3 L96.0,315.4 L96.4,315.4 L96.9,315.5 L97.3,315.5 L97.8,315.5 L98.2,315.6 L98.7,315.6 L99.1,315.6 L99.6,315.7 L100.0,315.7 L100.5,315.7 L100.9,315.8 L101.4,315.8 L101.8,315.8 L102.3,315.9 L102.7,315.9 L103.2,315.9 L103.7,316.0 L104.1,316.0 L104.6,316.0 L105.0,316.0 L105.5,316.1 L105.9,316.1 L106.4,316.1 L106.8,316.1 L107.3,316.2 L107.7,316.2 L108.2,316.2 L108.6,316.2 L109.1,316.3 L109.5,316.3 L110.0,316.3 L110.4,316.3 L110.9,316.4 L111.3,316.4 L111.8,316.4 L112.3,316.4 L112.7,316.5 L113.2,316.5 L113.6,316.5 L114.1,316.5 L114.5,316.5 L115.0,316.6 L115.4,316.6 L115.9,316.6 L116.3,316.6 L116.8,316.6 L117.2,316.7 L117.7,316.7 L118.1,316.7 L118.6,316.7 L119.0,316.7 L119.5,316.8 L119.9,316.8 L120.4,316.8 L120.8,316.8 L121.3,316.8 L121.8,316.8 L122.2,316.9 L122.7,316.9 L123.1,316.9 L123.6,316.9 L124.0,316.9 L124.5,316.9 L124.9,316.9 L125.4,317.0 L125.8,317.0 L126.3,317.0 L126.7,317.0 L127.2,317.0 L127.6,317.0 L128.1,317.0 L128.5,317.1 L129.0,317.1 L129.4,317.1 L129.9,317.1 L130.4,317.1 L130.8,317.1 L131.3,317.1 L131.7,317.1 L132.2,317.2 L132.6,317.2 L133.1,317.2 L133.5,317.2 L134.0,317.2 L134.4,317.2 L134.9,317.2 L135.3,317.2 L135.8,317.3 L136.2,317.3 L136.7,317.3 L137.1,317.3 L137.6,317.3 L138.0,317.3 L138.5,317.3 L138.9,317.3 L139.4,317.3 L139.9,317.3 L140.3,317.4 L140.8,317.4 L141.2,317.4 L141.7,317.4 L142.1,317.4 L142.6,317.4 L143.0,317.4 L143.5,317.4 L143.9,317.4 L144.4,317.4 L144.8,317.4 L145.3,317.5 L145.7,317.5 L146.2,317.5 L146.6,317.5 L147.1,317.5 L147.5,317.5 L148.0,317.5 L148.5,317.5 L148.9,317.5 L149.4,317.5 L149.8,317.5 L150.3,317.5 L150.7,317.5 L151.2,317.6 L151.6,317.6 L152.1,317.6 L152.5,317.6 L153.0,317.6 L153.4,317.6 L153.9,317.6 L154.3,317.6 L154.8,317.6 L155.2,317.6 L155.7,317.6 L156.1,317.6 L156.6,317.6 L157.1,317.6 L157.5,317.6 L158.0,317.7 L158.4,317.7 L158.9,317.7 L159.3,317.7 L159.8,317.7 L160.2,317.7 L160.7,317.7 L161.1,317.7 L161.6,317.7 L162.0,317.7 L162.5,317.7 L162.9,317.7 L163.4,317.7 L163.8,317.7 L164.3,317.7 L164.7,317.7 L165.2,317.7 L165.6,317.7 L166.1,317.7 L166.6,317.8 L167.0,317.8 L167.5,317.8 L167.9,317.8 L168.4,317.8 L168.8,317.8 L169.3,317.8 L169.7,317.8 L170.2,317.8 L170.6,317.8 L171.1,317.8 L171.5,317.8 L172.0,317.8 L172.4,317.8 L172.9,317.8 L173.3,317.8 L173.8,317.8 L174.2,317.8 L174.7,317.8 L175.2,317.8 L175.6,317.8 L176.1,317.8 L176.5,317.9 L177.0,317.9 L177.4,317.9 L177.9,317.9 L178.3,317.9 L178.8,317.9 L179.2,317.9 L179.7,317.9 L180.1,317.9 L180.6,317.9 L181.0,317.9 L181.5,317.9 L181.9,317.9 L182.4,317.9 L182.8,317.9 L183.3,317.9 L183.8,317.9 L184.2,317.9 L184.7,317.9 L185.1,317.9 L185.6,317.9 L186.0,317.9 L186.5,317.9 L186.9,317.9 L187.4,317.9 L187.8,317.9 L188.3,317.9 L188.7,317.9 L189.2,317.9 L189.6,318.0 L190.1,318.0 L190.5,318.0 L191.0,318.0 L191.4,318.0 L191.9,318.0 L192.3,318.0 L192.8,318.0 L193.3,318.0 L193.7,318.0 L194.2,318.0 L194.6,318.0 L195.1,318.0 L195.5,318.0 L196.0,318.0 L196.4,318.0 L196.9,318.0 L197.3,318.0 L197.8,318.0 L198.2,318.0 L198.7,318.0 L199.1,318.0 L199.6,318.0 L200.0,318.0 L200.5,318.0 L200.9,318.0 L201.4,318.0 L201.9,318.0 L202.3,318.0 L202.8,318.0 L203.2,318.0 L203.7,318.0 L204.1,318.0 L204.6,318.0 L205.0,318.0 L205.5,318.0 L205.9,318.0 L206.4,318.0 L206.8,318.0 L207.3,318.1 L207.7,318.1 L208.2,318.1 L208.6,318.1 L209.1,318.1 L209.5,318.1 L210.0,318.1 L210.4,318.1 L210.9,318.1 L211.4,318.1 L211.8,318.1 L212.3,318.1" stroke="#0000ff"/>
<path d="M31.7,253.3 L32.2,253.3 L32.6,253.3 L33.1,253.4 L33.5,253.5 L34.0,253.6 L34.4,253.7 L34.9,253.8 L35.3,254.0 L35.8,254.2 L36.2,254.3 L36.7,254.6 L37.1,254.8 L37.6,255.1 L38.0,255.3 L38.5,255.6 L38.9,255.9 L39.4,256.2 L39.8,256.6 L40.3,256.9 L40.8,257.3 L41.2,257.7 L41.7,258.1 L42.1,258.5 L42.6,258.9 L43.0,259.4 L43.5,259.8 L43.9,260.3 L44.4,260.8 L44.8,261.2 L45.3,261.7 L45.7,262.2 L46.2,262.7 L46.6,263.2 L47.1,263.8 L47.5,264.3 L48.0,264.8 L48.4,265.4 L48.9,265.9 L49.3,266.5 L49.8,267.0 L50.3,267.6 L50.7,268.1 L51.2,268.7 L51.6,269.2 L52.1,269.8 L52.5,270.4 L53.0,270.9 L53.4,271.5 L53.9,272.1 L54.3,272.6 L54.8,273.2 L55.2,273.7 L55.7,274.3 L56.1,274.9 L56.6,275.4 L57.0,276.0 L57.5,276.5 L57.9,277.0 L58.4,277.6 L58.9,278.1 L59.3,278.7 L59.8,279.2 L60.2,279.7 L60.7,280.2 L61.1,280.7 L61.6,281.3 L62.0,281.8 L62.5,282.3 L62.9,282.8 L63.4,283.2 L63.8,283.7 L64.3,284.2 L64.7,284.7 L65.2,285.2 L65.6,285.6 L66.1,286.1 L66.5,286.5 L67.0,287.0 L67.4,287.4 L67.9,287.8 L68.4,288.3 L68.8,288.7 L69.3,289.1 L69.7,289.5 L70.2,289.9 L70.6,290.3 L71.1,290.7 L71.5,291.1 L72.0,291.5 L72.4,291.9 L72.9,292.3 L73.3,292.6 L73.8,293.0 L74.2,293.4 L74.7,293.7 L75.1,294.1 L75.6,294.4 L76.0,294.7 L76.5,295.1 L77.0,295.4 L77.4,295.7 L77.9,296.0 L78.3,296.3 L78.8,296.6 L79.2,296.9 L79.7,297.2 L80.1,297.5 L80.6,297.8 L81.0,298.1 L81.5,298.4 L81.9,298.7 L82.4,298.9 L82.8,299.2 L83.3,299.5 L83.7,299.7 L84.2,300.0 L84.6,300.2 L85.1,300.5 L85.6,300.7 L86.0,300.9 L86.5,301.2 L86.9,301.4 L87.4,301.6 L87.8,301.9 L88.3,302.1 L88.7,302.3 L89.2,302.5 L89.6,302.7 L90.1,302.9 L90.5,303.1 L91.0,303.3 L91.4,303.5 L91.9,303.7 L92.3,303.9 L92.8,304.1 L93.2,304.3 L93.7,304.5 L94.1,304.6 L94.6,304.8 L95.1,305.0 L95.5,305.1 L96.0,305.3 L96.4,305.5 L96.9,305.6 L97.3,305.8 L97.8,306.0 L98.2,306.1 L98.7,306.3 L99.1,306.4 L99.6,306.6 L100.0,306.7 L100.5,306.8 L100.9,307.0 L101.4,307.1 L101.8,307.3 L102.3,307.4 L102.7,307.5 L103.2,307.7 L103.7,307.8 L104.1,307.9 L104.6,308.0 L105.0,308.2 L105.5,308.3 L105.9,308.4 L106.4,308.5 L106.8,308.6 L107.3,308.7 L107.7,308.9 L108.2,309.0 L108.6,309.1 L109.1,309.2 L109.5,309.3 L110.0,309.4 L110.4,309.5 L110.9,309.6 L111.3,309.7 L111.8,309.8 L112.3,309.9 L112.7,310.0 L113.2,310.1 L113.6,310.2 L114.1,310.3 L114.5,310.3 L115.0,310.4 L115.4,310.5 L115.9,310.6 L116.3,310.7 L116.8,310.8 L117.2,310.9 L117.7,310.9 L118.1,311.0 L118.6,311.1 L119.0,311.2 L119.5,311.3 L119.9,311.3 L120.4,311.4 L120.8,311.5 L121.3,311.5 L121.8,311.6 L122.2,311.7 L122.7,311.8 L123.1,311.8 L123.6,311.9 L124.0,312.0 L124.5,312.0 L124.9,312.1 L125.4,312.2 L125.8,312.2 L126.3,312.3 L126.7,312.3 L127.2,312.4 L127.6,312.5 L128.1,312.5 L128.5,312.6 L129.0,312.6 L129.4,312.7 L129.9,312.7 L130.4,312.8 L130.8,312.9 L131.3,312.9 L131.7,313.0 L132.2,313.0 L132.6,313.1 L133.1,313.1 L133.5,313.2 L134.0,313.2 L134.4,313.3 L134.9,313.3 L135.3,313.4 L135.8,313.4 L136.2,313.5 L136.7,313.5 L137.1,313.6 L137.6,313.6 L138.0,313.6 L138.5,313.7 L138.9,313.7 L139.4,313.8 L139.9,313.8 L140.3,313.9 L140.8,313.9 L141.2,313.9 L141.7,314.0 L142.1,314.0 L142.6,314.1 L143.0,314.1 L143.5,314.1 L143.9,314.2 L144.4,314.2 L144.8,314.2 L145.3,314.3 L145.7,314.3 L146.2,314.4 L146.6,314.4 L147.1,314.4 L147.5,314.5 L148.0,314.5 L148.5,314.5 L148.9,314.6 L149.4,314.6 L149.8,314.6 L150.3,314.7 L150.7,314.7 L151.2,314.7 L151.6,314.7 L152.1,314.8 L152.5,314.8 L153.0,314.8 L153.4,314.9 L153.9,314.9 L154.3,314.9 L154.8,315.0 L155.2,315.0 L155.7,315.0 L156.1,315.0 L156.6,315.1 L157.1,315.1 L157.5,315.1 L158.0,315.1 L158.4,315.2 L158.9,315.2 L159.3,315.2 L159.8,315.3 L160.2,315.3 L160.7,315.3 L161.1,315.3 L161.6,315.3 L162.0,315.4 L162.5,315.4 L162.9,315.4 L163.4,315.4 L163.8,315.5 L164.3,315.5 L164.7,315.5 L165.2,315.5 L165.6,315.6 L166.1,315.6 L166.6,315.6 L167.0,315.6 L167.5,315.6 L167.9,315.7 L168.4,315.7 L168.8,315.7 L169.3,315.7 L169.7,315.7 L170.2,315.8 L170.6,315.8 L171.1,315.8 L171.5,315.8 L172.0,315.8 L172.4,315.9 L172.9,315.9 L173.3,315.9 L173.8,315.9 L174.2,315.9 L174.7,316.0 L175.2,316.0 L175.6,316.0 L176.1,316.0 L176.5,316.0 L177.0,316.0 L177.4,316.1 L177.9,316.1 L178.3,316.1 L178.8,316.1 L179.2,316.1 L179.7,316.1 L180.1,316.2 L180.6,316.2 L181.0,316.2 L181.5,316.2 L181.9,316.2 L182.4,316.2 L182.8,316.2 L183.3,316.3 L183.8,316.3 L184.2,316.3 L184.7,316.3 L185.1,316.3 L185.6,316.3 L186.0,316.3 L186.5,316.4 L186.9,316.4 L187.4,316.4 L187.8,316.4 L188.3,316.4 L188.7,316.4 L189.2,316.4 L189.6,316.5 L190.1,316.5 L190.5,316.5 L191.0,316.5 L191.4,316.5 L191.9,316.5 L192.3,316.5 L192.8,316.5 L193.3,316.6 L193.7,316.6 L194.2,316.6 L194.6,316.6 L195.1,316.6 L195.5,316.6 L196.0,316.6 L196.4,316.6 L196.9,316.6 L197.3,316.7 L197.8,316.7 L198.2,316.7 L198.7,316.7 L199.1,316.7 L199.6,316.7 L200.0,316.7 L200.5,316.7 L200.9,316.7 L201.4,316.8 L201.9,316.8 L202.3,316.8 L202.8,316.8 L203.2,316.8 L203.7,316.8 L204.1,316.8 L204.6,316.8 L205.0,316.8 L205.5,316.8 L205.9,316.9 L206.4,316.9 L206.8,316.9 L207.3,316.9 L207.7,316.9 L208.2,316.9 L208.6,316.9 L209.1,316.9 L209.5,316.9 L210.0,316.9 L210.4,316.9 L210.9,317.0 L211.4,317.0 L211.8,317.0 L212.3,317.0" stroke="#00e000"/>
<path d="M31.7,130.1 L32.2,130.1 L32.6,130.1 L33.1,130.1 L33.5,130.1 L34.0,130.1 L34.4,130.1 L34.9,130.1 L35.3,130.1 L35.8,130.1 L36.2,130.1 L36.7,130.1 L37.1,130.1 L37.6,130.1 L38.0,130.1 L38.5,130.1 L38.9,130.1 L39.4,130.1 L39.8,130.1 L40.3,130.1 L40.8,130.1 L41.2,130.1 L41.7,130.1 L42.1,130.1 L42.6,130.1 L43.0,130.1 L43.5,130.1 L43.9,130.1 L44.4,130.1 L44.8,130.1 L45.3,130.1 L45.7,130.1 L46.2,130.1 L46.6,130.1 L47.1,130.1 L47.5,130.1 L48.0,130.1 L48.4,130.1 L48.9,130.1 L49.3,130.1 L49.8,130.1 L50.3,130.1 L50.7,130.1 L51.2,130.1 L51.6,130.1 L52.1,130.1 L52.5,130.1 L53.0,130.1 L53.4,130.1 L53.9,130.1 L54.3,130.1 L54.8,130.1 L55.2,130.1 L55.7,130.1 L56.1,130.1 L56.6,130.1 L57.0,130.1 L57.5,130.1 L57.9,130.1 L58.4,130.1 L58.9,130.1 L59.3,130.1 L59.8,130.1 L60.2,130.1 L60.7,130.1 L61.1,130.1 L61.6,130.1 L62.0,130.1 L62.5,130.1 L62.9,130.1 L63.4,130.1 L63.8,130.1 L64.3,130.1 L64.7,130.1 L65.2,132.7 L65.6,136.3 L66.1,139.8 L66.5,143.3 L67.0,146.7 L67.4,150.1 L67.9,153.3 L68.4,156.5 L68.8,159.7 L69.3,162.8 L69.7,165.8 L70.2,168.7 L70.6,171.6 L71.1,174.5 L71.5,177.2 L72.0,179.9 L72.4,182.6 L72.9,185.2 L73.3,187.7 L73.8,190.2 L74.2,192.7 L74.7,195.0 L75.1,197.4 L75.6,199.6 L76.0,201.9 L76.5,204.1 L77.0,206.2 L77.4,208.3 L77.9,210.3 L78.3,212.3 L78.8,214.3 L79.2,216.2 L79.7,218.1 L80.1,219.9 L80.6,221.7 L81.0,223.5 L81.5,225.2 L81.9,226.9 L82.4,228.5 L82.8,230.2 L83.3,231.7 L83.7,233.3 L84.2,234.8 L84.6,236.3 L85.1,237.7 L85.6,239.1 L86.0,240.5 L86.5,241.9 L86.9,243.2 L87.4,244.5 L87.8,245.8 L88.3,247.0 L88.7,248.2 L89.2,249.4 L89.6,250.6 L90.1,251.8 L90.5,252.9 L91.0,254.0 L91.4,255.1 L91.9,256.1 L92.3,257.1 L92.8,258.2 L93.2,259.2 L93.7,260.1 L94.1,261.1 L94.6,262.0 L95.1,262.9 L95.5,263.8 L96.0,264.7 L96.4,265.6 L96.9,266.4 L97.3,267.2 L97.8,268.0 L98.2,268.8 L98.7,269.6 L99.1,270.4 L99.6,271.1 L100.0,271.8 L100.5,272.6 L100.9,273.3 L101.4,274.0 L101.8,274.6 L102.3,275.3 L102.7,276.0 L103.2,276.6 L103.7,277.2 L104.1,277.8 L104.6,278.4 L105.0,279.0 L105.5,279.6 L105.9,280.2 L106.4,280.8 L106.8,281.3 L107.3,281.8 L107.7,282.4 L108.2,282.9 L108.6,283.4 L109.1,283.9 L109.5,284.4 L110.0,284.9 L110.4,285.3 L110.9,285.8 L111.3,286.3 L111.8,286.7 L112.3,287.2 L112.7,287.6 L113.2,288.0 L113.6,288.4 L114.1,288.8 L114.5,289.3 L115.0,289.6 L115.4,290.0 L115.9,290.4 L116.3,290.8 L116.8,291.2 L117.2,291.5 L117.7,291.9 L118.1,292.2 L118.6,292.6 L119.0,292.9 L119.5,293.3 L119.9,293.6 L120.4,293.9 L120.8,294.2 L121.3,294.5 L121.8,294.8 L122.2,295.1 L122.7,295.4 L123.1,295.7 L123.6,296.0 L124.0,296.3 L124.5,296.6 L124.9,296.8 L125.4,297.1 L125.8,297.4 L126.3,297.6 L126.7,297.9 L127.2,298.1 L127.6,298.4 L128.1,298.6 L128.5,298.9 L129.0,299.1 L129.4,299.3 L129.9,299.6 L130.4,299.8 L130.8,300.0 L131.3,300.2 L131.7,300.5 L132.2,300.7 L132.6,300.9 L133.1,301.1 L133.5,301.3 L134.0,301.5 L134.4,301.7 L134.9,301.9 L135.3,302.1 L135.8,302.3 L136.2,302.4 L136.7,302.6 L137.1,302.8 L137.6,303.0 L138.0,303.1 L138.5,303.3 L138.9,303.5 L139.4,303.7 L139.9,303.8 L140.3,304.0 L140.8,304.1 L141.2,304.3 L141.7,304.4 L142.1,304.6 L142.6,304.8 L143.0,304.9 L143.5,305.0 L143.9,305.2 L144.4,305.3 L144.8,305.5 L145.3,305.6 L145.7,305.7 L146.2,305.9 L146.6,306.0 L147.1,306.1 L147.5,306.3 L148.0,306.4 L148.5,306.5 L148.9,306.6 L149.4,306.8 L149.8,306.9 L150.3,307.0 L150.7,307.1 L151.2,307.2 L151.6,307.4 L152.1,307.5 L152.5,307.6 L153.0,307.7 L153.4,307.8 L153.9,307.9 L154.3,308.0 L154.8,308.1 L155.2,308.2 L155.7,308.3 L156.1,308.4 L156.6,308.5 L157.1,308.6 L157.5,308.7 L158.0,308.8 L158.4,308.9 L158.9,309.0 L159.3,309.1 L159.8,309.2 L160.2,309.3 L160.7,309.3 L161.1,309.4 L161.6,309.5 L162.0,309.6 L162.5,309.7 L162.9,309.8 L163.4,309.8 L163.8,309.9 L164.3,310.0 L164.7,310.1 L165.2,310.2 L165.6,310.2 L166.1,310.3 L166.6,310.4 L167.0,310.5 L167.5,310.5 L167.9,310.6 L168.4,310.7 L168.8,310.7 L169.3,310.8 L169.7,310.9 L170.2,310.9 L170.6,311.0 L171.1,311.1 L171.5,311.1 L172.0,311.2 L172.4,311.3 L172.9,311.3 L173.3,311.4 L173.8,311.5 L174.2,311.5 L174.7,311.6 L175.2,311.6 L175.6,311.7 L176.1,311.8 L176.5,311.8 L177.0,311.9 L177.4,311.9 L177.9,312.0 L178.3,312.0 L178.8,312.1 L179.2,312.1 L179.7,312.2 L180.1,312.3 L180.6,312.3 L181.0,312.4 L181.5,312.4 L181.9,312.5 L182.4,312.5 L182.8,312.6 L183.3,312.6 L183.8,312.7 L184.2,312.7 L184.7,312.7 L185.1,312.8 L185.6,312.8 L186.0,312.9 L186.5,312.9 L186.9,313.0 L187.4,313.0 L187.8,313.1 L188.3,313.1 L188.7,313.1 L189.2,313.2 L189.6,313.2 L190.1,313.3 L190.5,313.3 L191.0,313.4 L191.4,313.4 L191.9,313.4 L192.3,313.5 L192.8,313.5 L193.3,313.5 L193.7,313.6 L194.2,313.6 L194.6,313.7 L195.1,313.7 L195.5,313.7 L196.0,313.8 L196.4,313.8 L196.9,313.8 L197.3,313.9 L197.8,313.9 L198.2,313.9 L198.7,314.0 L199.1,314.0 L199.6,314.0 L200.0,314.1 L200.5,314.1 L200.9,314.1 L201.4,314.2 L201.9,314.2 L202.3,314.2 L202.8,314.3 L203.2,314.3 L203.7,314.3 L204.1,314.4 L204.6,314.4 L205.0,314.4 L205.5,314.4 L205.9,314.5 L206.4,314.5 L206.8,314.5 L207.3,314.6 L207.7,314.6 L208.2,314.6 L208.6,314.6 L209.1,314.7 L209.5,314.7 L210.0,314.7 L210.4,314.8 L210.9,314.8 L211.4,314.8 L211.8,314.8 L212.3,314.9" stroke="#ff0000"/>
<path d="M31.7,299.3 L32.2,299.3 L32.6,299.3 L33.1,299.3 L33.5,299.3 L34.0,299.3 L34.4,299.3 L34.9,299.3 L35.3,299.3 L35.8,299.2 L36.2,299.2 L36.7,299.2 L37.1,299.2 L37.6,299.2 L38.0,299.2 L38.5,299.1 L38.9,299.1 L39.4,299.1 L39.8,299.1 L40.3,299.0 L40.8,299.0 L41.2,299.0 L41.7,298.9 L42.1,298.9 L42.6,298.9 L43.0,298.8 L43.5,298.8 L43.9,298.8 L44.4,298.7 L44.8,298.7 L45.3,298.6 L45.7,298.6 L46.2,298.5 L46.6,298.5 L47.1,298.5 L47.5,298.4 L48.0,298.3 L48.4,298.3 L48.9,298.2 L49.3,298.2 L49.8,298.1 L50.3,298.1 L50.7,298.0 L51.2,297.9 L51.6,297.9 L52.1,297.8 L52.5,297.7 L53.0,297.7 L53.4,297.6 L53.9,297.5 L54.3,297.5 L54.8,297.4 L55.2,297.3 L55.7,297.2 L56.1,297.2 L56.6,297.1 L57.0,297.0 L57.5,296.9 L57.9,296.8 L58.4,296.7 L58.9,296.7 L59.3,296.6 L59.8,296.5 L60.2,296.4 L60.7,296.3 L61.1,296.2 L61.6,296.1 L62.0,296.0 L62.5,295.9 L62.9,295.8 L63.4,295.7 L63.8,295.6 L64.3,295.5 L64.7,295.4 L65.2,295.3 L65.6,295.2 L66.1,295.1 L66.5,295.0 L67.0,294.8 L67.4,294.7 L67.9,294.6 L68.4,294.5 L68.8,294.4 L69.3,294.2 L69.7,294.1 L70.2,294.0 L70.6,293.9 L71.1,293.8 L71.5,293.6 L72.0,293.5 L72.4,293.4 L72.9,293.2 L73.3,293.1 L73.8,293.0 L74.2,292.8 L74.7,292.7 L75.1,292.5 L75.6,292.4 L76.0,292.3 L76.5,292.1 L77.0,292.0 L77.4,291.8 L77.9,291.7 L78.3,291.5 L78.8,291.4 L79.2,291.2 L79.7,291.1 L80.1,290.9 L80.6,290.7 L81.0,290.6 L81.5,290.4 L81.9,290.3 L82.4,290.1 L82.8,289.9 L83.3,289.8 L83.7,289.6 L84.2,289.4 L84.6,289.3 L85.1,289.1 L85.6,288.9 L86.0,288.7 L86.5,288.6 L86.9,288.4 L87.4,288.2 L87.8,288.0 L88.3,287.8 L88.7,287.7 L89.2,287.5 L89.6,287.3 L90.1,287.1 L90.5,286.9 L91.0,286.7 L91.4,286.5 L91.9,286.3 L92.3,286.1 L92.8,285.9 L93.2,285.7 L93.7,285.5 L94.1,285.3 L94.6,285.1 L95.1,284.9 L95.5,284.7 L96.0,284.5 L96.4,284.3 L96.9,284.1 L97.3,283.9 L97.8,283.7 L98.2,283.5 L98.7,283.2 L99.1,283.0 L99.6,282.8 L100.0,282.6 L100.5,282.4 L100.9,282.1 L101.4,281.9 L101.8,281.7 L102.3,281.5 L102.7,281.2 L103.2,281.0 L103.7,280.8 L104.1,280.5 L104.6,280.3 L105.0,280.1 L105.5,279.8 L105.9,279.6 L106.4,279.3 L106.8,279.1 L107.3,278.9 L107.7,278.6 L108.2,278.4 L108.6,278.1 L109.1,277.9 L109.5,277.6 L110.0,277.4 L110.4,277.1 L110.9,276.8 L111.3,276.6 L111.8,276.3 L112.3,276.1 L112.7,275.8 L113.2,275.5 L113.6,275.3 L114.1,275.0 L114.5,274.7 L115.0,274.5 L115.4,274.2 L115.9,273.9 L116.3,273.7 L116.8,273.4 L117.2,273.1 L117.7,272.8 L118.1,272.6 L118.6,272.3 L119.0,272.0 L119.5,271.7 L119.9,271.4 L120.4,271.1 L120.8,270.8 L121.3,270.6 L121.8,270.3 L122.2,270.0 L122.7,269.7 L123.1,269.4 L123.6,269.1 L124.0,268.8 L124.5,268.5 L124.9,268.2 L125.4,267.9 L125.8,267.6 L126.3,267.3 L126.7,267.0 L127.2,266.7 L127.6,266.4 L128.1,266.0 L128.5,265.7 L129.0,265.4 L129.4,265.1 L129.9,264.8 L130.4,264.5 L130.8,264.1 L131.3,263.8 L131.7,263.5 L132.2,263.2 L132.6,262.8 L133.1,262.5 L133.5,262.2 L134.0,261.9 L134.4,261.5 L134.9,261.2 L135.3,260.9 L135.8,260.5 L136.2,260.2 L136.7,259.8 L137.1,259.5 L137.6,259.2 L138.0,258.8 L138.5,258.5 L138.9,258.1 L139.4,257.8 L139.9,257.4 L140.3,257.1 L140.8,256.7 L141.2,256.4 L141.7,256.0 L142.1,255.7 L142.6,255.3 L143.0,254.9 L143.5,254.6 L143.9,254.2 L144.4,253.8 L144.8,253.5 L145.3,253.1 L145.7,252.7 L146.2,252.4 L146.6,252.0 L147.1,251.6 L147.5,251.3 L148.0,250.9 L148.5,250.5 L148.9,250.1 L149.4,249.7 L149.8,249.4 L150.3,249.0 L150.7,248.6 L151.2,248.2 L151.6,247.8 L152.1,247.4 L152.5,247.0 L153.0,246.6 L153.4,246.3 L153.9,245.9 L154.3,245.5 L154.8,245.1 L155.2,244.7 L155.7,244.3 L156.1,243.9 L156.6,243.5 L157.1,243.1 L157.5,242.6 L158.0,242.2 L158.4,241.8 L158.9,241.4 L159.3,241.0 L159.8,240.6 L160.2,240.2 L160.7,239.8 L161.1,239.3 L161.6,238.9 L162.0,238.5 L162.5,238.1 L162.9,237.6 L163.4,237.2 L163.8,236.8 L164.3,236.4 L164.7,235.9 L165.2,235.5 L165.6,235.1 L166.1,234.6 L166.6,234.2 L167.0,233.8 L167.5,233.3 L167.9,232.9 L168.4,232.4 L168.8,232.0 L169.3,231.6 L169.7,231.1 L170.2,230.7 L170.6,230.2 L171.1,229.8 L171.5,229.3 L172.0,228.8 L172.4,228.4 L172.9,227.9 L173.3,227.5 L173.8,227.0 L174.2,226.6 L174.7,226.1 L175.2,225.6 L175.6,225.2 L176.1,224.7 L176.5,224.2 L177.0,223.8 L177.4,223.3 L177.9,222.8 L178.3,222.3 L178.8,221.9 L179.2,221.4 L179.7,220.9 L180.1,220.4 L180.6,219.9 L181.0,219.5 L181.5,219.0 L181.9,218.5 L182.4,218.0 L182.8,217.5 L183.3,217.0 L183.8,216.5 L184.2,216.0 L184.7,215.5 L185.1,215.1 L185.6,214.6 L186.0,214.1 L186.5,213.6 L186.9,213.1 L187.4,212.5 L187.8,212.0 L188.3,211.5 L188.7,211.0 L189.2,210.5 L189.6,210.0 L190.1,209.5 L190.5,209.0 L191.0,208.5 L191.4,207.9 L191.9,207.4 L192.3,206.9 L192.8,206.4 L193.3,205.9 L193.7,205.3 L194.2,204.8 L194.6,204.3 L195.1,203.8 L195.5,203.2 L196.0,202.7 L196.4,202.2 L196.9,201.6 L197.3,201.1 L197.8,200.6 L198.2,200.0 L198.7,199.5 L199.1,198.9 L199.6,198.4 L200.0,197.9 L200.5,197.3 L200.9,196.8 L201.4,196.2 L201.9,195.7 L202.3,195.1 L202.8,194.6 L203.2,194.0 L203.7,193.4 L204.1,192.9 L204.6,192.3 L205.0,191.8 L205.5,191.2 L205.9,190.6 L206.4,190.1 L206.8,189.5 L207.3,188.9 L207.7,188.4 L208.2,187.8 L208.6,187.2 L209.1,186.6 L209.5,186.1 L210.0,185.5 L210.4,184.9 L210.9,184.3 L211.4,183.8 L211.8,183.2 L212.3,182.6" stroke="#000" stroke-dasharray="4,3"/>
<path d="M31.7,299.3 L32.2,299.3 L32.6,299.3 L33.1,299.3 L33.5,299.3 L34.0,299.3 L34.4,299.3 L34.9,299.3 L35.3,299.3 L35.8,299.3 L36.2,299.3 L36.7,299.3 L37.1,299.3 L37.6,299.3 L38.0,299.3 L38.5,299.3 L38.9,299.3 L39.4,299.3 L39.8,299.3 L40.3,299.3 L40.8,299.3 L41.2,299.3 L41.7,299.3 L42.1,299.3 L42.6,299.3 L43.0,299.3 L43.5,299.3 L43.9,299.3 L44.4,299.3 L44.8,299.3 L45.3,299.3 L45.7,299.3 L46.2,299.2 L46.6,299.2 L47.1,299.2 L47.5,299.2 L48.0,299.2 L48.4,299.2 L48.9,299.2 L49.3,299.2 L49.8,299.2 L50.3,299.2 L50.7,299.2 L51.2,299.2 L51.6,299.2 L52.1,299.2 L52.5,299.2 L53.0,299.2 L53.4,299.2 L53.9,299.2 L54.3,299.2 L54.8,299.2 L55.2,299.2 L55.7,299.2 L56.1,299.1 L56.6,299.1 L57.0,299.1 L57.5,299.1 L57.9,299.1 L58.4,299.1 L58.9,299.1 L59.3,299.1 L59.8,299.1 L60.2,299.1 L60.7,299.1 L61.1,299.1 L61.6,299.1 L62.0,299.1 L62.5,299.1 L62.9,299.1 L63.4,299.0 L63.8,299.0 L64.3,299.0 L64.7,299.0 L65.2,299.0 L65.6,299.0 L66.1,299.0 L66.5,299.0 L67.0,299.0 L67.4,299.0 L67.9,299.0 L68.4,299.0 L68.8,299.0 L69.3,298.9 L69.7,298.9 L70.2,298.9 L70.6,298.9 L71.1,298.9 L71.5,298.9 L72.0,298.9 L72.4,298.9 L72.9,298.9 L73.3,298.9 L73.8,298.9 L74.2,298.8 L74.7,298.8 L75.1,298.8 L75.6,298.8 L76.0,298.8 L76.5,298.8 L77.0,298.8 L77.4,298.8 L77.9,298.8 L78.3,298.7 L78.8,298.7 L79.2,298.7 L79.7,298.7 L80.1,298.7 L80.6,298.7 L81.0,298.7 L81.5,298.7 L81.9,298.7 L82.4,298.6 L82.8,298.6 L83.3,298.6 L83.7,298.6 L84.2,298.6 L84.6,298.6 L85.1,298.6 L85.6,298.6 L86.0,298.6 L86.5,298.5 L86.9,298.5 L87.4,298.5 L87.8,298.5 L88.3,298.5 L88.7,298.5 L89.2,298.5 L89.6,298.4 L90.1,298.4 L90.5,298.4 L91.0,298.4 L91.4,298.4 L91.9,298.4 L92.3,298.4 L92.8,298.4 L93.2,298.3 L93.7,298.3 L94.1,298.3 L94.6,298.3 L95.1,298.3 L95.5,298.3 L96.0,298.3 L96.4,298.2 L96.9,298.2 L97.3,298.2 L97.8,298.2 L98.2,298.2 L98.7,298.2 L99.1,298.1 L99.6,298.1 L100.0,298.1 L100.5,298.1 L100.9,298.1 L101.4,298.1 L101.8,298.1 L102.3,298.0 L102.7,298.0 L103.2,298.0 L103.7,298.0 L104.1,298.0 L104.6,298.0 L105.0,297.9 L105.5,297.9 L105.9,297.9 L106.4,297.9 L106.8,297.9 L107.3,297.9 L107.7,297.8 L108.2,297.8 L108.6,297.8 L109.1,297.8 L109.5,297.8 L110.0,297.7 L110.4,297.7 L110.9,297.7 L111.3,297.7 L111.8,297.7 L112.3,297.7 L112.7,297.6 L113.2,297.6 L113.6,297.6 L114.1,297.6 L114.5,297.6 L115.0,297.5 L115.4,297.5 L115.9,297.5 L116.3,297.5 L116.8,297.5 L117.2,297.4 L117.7,297.4 L118.1,297.4 L118.6,297.4 L119.0,297.4 L119.5,297.3 L119.9,297.3 L120.4,297.3 L120.8,297.3 L121.3,297.3 L121.8,297.2 L122.2,297.2 L122.7,297.2 L123.1,297.2 L123.6,297.2 L124.0,297.1 L124.5,297.1 L124.9,297.1 L125.4,297.1 L125.8,297.1 L126.3,297.0 L126.7,297.0 L127.2,297.0 L127.6,297.0 L128.1,296.9 L128.5,296.9 L129.0,296.9 L129.4,296.9 L129.9,296.9 L130.4,296.8 L130.8,296.8 L131.3,296.8 L131.7,296.8 L132.2,296.7 L132.6,296.7 L133.1,296.7 L133.5,296.7 L134.0,296.6 L134.4,296.6 L134.9,296.6 L135.3,296.6 L135.8,296.6 L136.2,296.5 L136.7,296.5 L137.1,296.5 L137.6,296.5 L138.0,296.4 L138.5,296.4 L138.9,296.4 L139.4,296.4 L139.9,296.3 L140.3,296.3 L140.8,296.3 L141.2,296.3 L141.7,296.2 L142.1,296.2 L142.6,296.2 L143.0,296.2 L143.5,296.1 L143.9,296.1 L144.4,296.1 L144.8,296.1 L145.3,296.0 L145.7,296.0 L146.2,296.0 L146.6,296.0 L147.1,295.9 L147.5,295.9 L148.0,295.9 L148.5,295.8 L148.9,295.8 L149.4,295.8 L149.8,295.8 L150.3,295.7 L150.7,295.7 L151.2,295.7 L151.6,295.7 L152.1,295.6 L152.5,295.6 L153.0,295.6 L153.4,295.5 L153.9,295.5 L154.3,295.5 L154.8,295.5 L155.2,295.4 L155.7,295.4 L156.1,295.4 L156.6,295.3 L157.1,295.3 L157.5,295.3 L158.0,295.3 L158.4,295.2 L158.9,295.2 L159.3,295.2 L159.8,295.1 L160.2,295.1 L160.7,295.1 L161.1,295.1 L161.6,295.0 L162.0,295.0 L162.5,295.0 L162.9,294.9 L163.4,294.9 L163.8,294.9 L164.3,294.8 L164.7,294.8 L165.2,294.8 L165.6,294.8 L166.1,294.7 L166.6,294.7 L167.0,294.7 L167.5,294.6 L167.9,294.6 L168.4,294.6 L168.8,294.5 L169.3,294.5 L169.7,294.5 L170.2,294.4 L170.6,294.4 L171.1,294.4 L171.5,294.3 L172.0,294.3 L172.4,294.3 L172.9,294.2 L173.3,294.2 L173.8,294.2 L174.2,294.2 L174.7,294.1 L175.2,294.1 L175.6,294.1 L176.1,294.0 L176.5,294.0 L177.0,294.0 L177.4,293.9 L177.9,293.9 L178.3,293.9 L178.8,293.8 L179.2,293.8 L179.7,293.8 L180.1,293.7 L180.6,293.7 L181.0,293.6 L181.5,293.6 L181.9,293.6 L182.4,293.5 L182.8,293.5 L183.3,293.5 L183.8,293.4 L184.2,293.4 L184.7,293.4 L185.1,293.3 L185.6,293.3 L186.0,293.3 L186.5,293.2 L186.9,293.2 L187.4,293.2 L187.8,293.1 L188.3,293.1 L188.7,293.1 L189.2,293.0 L189.6,293.0 L190.1,292.9 L190.5,292.9 L191.0,292.9 L191.4,292.8 L191.9,292.8 L192.3,292.8 L192.8,292.7 L193.3,292.7 L193.7,292.7 L194.2,292.6 L194.6,292.6 L195.1,292.5 L195.5,292.5 L196.0,292.5 L196.4,292.4 L196.9,292.4 L197.3,292.3 L197.8,292.3 L198.2,292.3 L198.7,292.2 L199.1,292.2 L199.6,292.2 L200.0,292.1 L200.5,292.1 L200.9,292.0 L201.4,292.0 L201.9,292.0 L202.3,291.9 L202.8,291.9 L203.2,291.8 L203.7,291.8 L204.1,291.8 L204.6,291.7 L205.0,291.7 L205.5,291.6 L205.9,291.6 L206.4,291.6 L206.8,291.5 L207.3,291.5 L207.7,291.4 L208.2,291.4 L208.6,291.4 L209.1,291.3 L209.5,291.3 L210.0,291.2 L210.4,291.2 L210.9,291.2 L211.4,291.1 L211.8,291.1 L212.3,291.0" stroke="#ff0000" stroke-dasharray="4,3"/>
</g>
<g stroke="#3cb371" stroke-width="1.6">
<line x1="73.8" y1="264.5" x2="73.8" y2="284.5"/>
<line x1="115.6" y1="264.5" x2="115.6" y2="284.5"/>
<line x1="157.2" y1="264.5" x2="157.2" y2="284.5"/>
<line x1="199.2" y1="264.5" x2="199.2" y2="284.5"/>
</g>
<g font-family='"Liberation Sans", sans-serif' font-size="10" fill="#111">
<text transform="translate(77.4,262) rotate(-90)" textLength="17.5" lengthAdjust="spacingAndGlyphs">100</text>
<text transform="translate(119.2,262) rotate(-90)" textLength="17.5" lengthAdjust="spacingAndGlyphs">200</text>
<text transform="translate(160.8,262) rotate(-90)" textLength="17.5" lengthAdjust="spacingAndGlyphs">300</text>
<text transform="translate(202.8,262) rotate(-90)" textLength="17.5" lengthAdjust="spacingAndGlyphs">400</text>
</g>
<rect x="31.7" y="179.0" width="174.4" height="140.7" fill="none" stroke="#333" stroke-width="1.5"/>
<g stroke="#111" stroke-width="1">
<line x1="31.70" y1="319.7" x2="31.70" y2="316.7"/>
<line x1="56.10" y1="319.7" x2="56.10" y2="317.7"/>
<line x1="80.50" y1="319.7" x2="80.50" y2="316.7"/>
<line x1="104.90" y1="319.7" x2="104.90" y2="317.7"/>
<line x1="129.30" y1="319.7" x2="129.30" y2="316.7"/>
<line x1="153.70" y1="319.7" x2="153.70" y2="317.7"/>
<line x1="178.10" y1="319.7" x2="178.10" y2="316.7"/>
<line x1="202.50" y1="319.7" x2="202.50" y2="317.7"/>
<line x1="31.7" y1="318.40" x2="34.7" y2="318.40"/>
<line x1="31.7" y1="304.95" x2="33.7" y2="304.95"/>
<line x1="31.7" y1="291.50" x2="34.7" y2="291.50"/>
<line x1="31.7" y1="278.05" x2="33.7" y2="278.05"/>
<line x1="31.7" y1="264.60" x2="34.7" y2="264.60"/>
<line x1="31.7" y1="251.15" x2="33.7" y2="251.15"/>
<line x1="31.7" y1="237.70" x2="34.7" y2="237.70"/>
<line x1="31.7" y1="224.25" x2="33.7" y2="224.25"/>
<line x1="31.7" y1="210.80" x2="34.7" y2="210.80"/>
<line x1="31.7" y1="197.35" x2="33.7" y2="197.35"/>
<line x1="31.7" y1="183.90" x2="34.7" y2="183.90"/>
<line x1="206.1" y1="319.20" x2="204.1" y2="319.20"/>
<line x1="206.1" y1="299.30" x2="203.1" y2="299.30"/>
<line x1="206.1" y1="279.40" x2="204.1" y2="279.40"/>
<line x1="206.1" y1="259.50" x2="203.1" y2="259.50"/>
<line x1="206.1" y1="239.60" x2="204.1" y2="239.60"/>
<line x1="206.1" y1="219.70" x2="203.1" y2="219.70"/>
<line x1="206.1" y1="199.80" x2="204.1" y2="199.80"/>
<line x1="206.1" y1="179.90" x2="203.1" y2="179.90"/>
</g>
<g font-family='"Liberation Sans", sans-serif' font-size="8" fill="#222">
<text x="27.5" y="321.20" text-anchor="end">0</text>
<text x="27.5" y="294.30" text-anchor="end">100</text>
<text x="27.5" y="267.40" text-anchor="end">200</text>
<text x="27.5" y="240.50" text-anchor="end">300</text>
<text x="27.5" y="213.60" text-anchor="end">400</text>
<text x="27.5" y="186.70" text-anchor="end">500</text>
<text x="31.70" y="331.5" text-anchor="middle">0</text>
<text x="80.50" y="331.5" text-anchor="middle">0.2</text>
<text x="129.30" y="331.5" text-anchor="middle">0.4</text>
<text x="178.10" y="331.5" text-anchor="middle">0.6</text>
<text x="209.5" y="302.10">0</text>
<text x="209.5" y="262.30">2</text>
<text x="209.5" y="222.50">4</text>
<text x="209.5" y="182.70">6</text>
</g>
<rect x="95.3" y="183.5" width="50.9" height="48.7" fill="#fff" stroke="#999" stroke-width="0.8"/>
<line x1="100.1" y1="190.8" x2="114.4" y2="190.8" stroke="#000" stroke-width="1.3"/>
<text x="117.0" y="193.60000000000002" font-family='"Liberation Sans", sans-serif' font-size="7.8" fill="#222" textLength="21.5" lengthAdjust="spacingAndGlyphs">50KeV</text>
<line x1="100.1" y1="201.5" x2="114.4" y2="201.5" stroke="#0000ff" stroke-width="1.3"/>
<text x="117.0" y="204.3" font-family='"Liberation Sans", sans-serif' font-size="7.8" fill="#222" textLength="25.5" lengthAdjust="spacingAndGlyphs">200KeV</text>
<line x1="100.1" y1="212.9" x2="114.4" y2="212.9" stroke="#00e000" stroke-width="1.3"/>
<text x="117.0" y="215.70000000000002" font-family='"Liberation Sans", sans-serif' font-size="7.8" fill="#222" textLength="18.8" lengthAdjust="spacingAndGlyphs">1MeV</text>
<line x1="100.1" y1="223.4" x2="114.4" y2="223.4" stroke="#ff0000" stroke-width="1.3"/>
<text x="117.0" y="226.20000000000002" font-family='"Liberation Sans", sans-serif' font-size="7.8" fill="#222" textLength="24.7" lengthAdjust="spacingAndGlyphs">2.8MeV</text>
<text transform="translate(53.4,199.2) scale(0.95,1)" font-family='"Liberation Sans", sans-serif' font-size="17.2" font-weight="bold" fill="#000">b</text>
<text x="156.7" y="219.8" font-family='"Liberation Sans", sans-serif' font-size="10" fill="#111" textLength="31.9" lengthAdjust="spacingAndGlyphs">(50KeV)</text>
<line x1="189.5" y1="216.3" x2="200" y2="216.3" stroke="#111" stroke-width="1"/><path d="M204.5,216.3 L199,213.8 L199,218.8 Z" fill="#111"/>
<text x="151.8" y="292.2" font-family='"Liberation Sans", sans-serif' font-size="10" fill="#ff0000" textLength="39.2" lengthAdjust="spacingAndGlyphs">(2.8MeV)</text>
<line x1="192" y1="288.6" x2="200" y2="288.6" stroke="#ff0000" stroke-width="1"/><path d="M204.5,288.6 L199,286.1 L199,291.1 Z" fill="#ff0000"/>
<text transform="translate(9.6,315) rotate(-90)" font-family='"Liberation Sans", sans-serif' font-size="11" fill="#111" textLength="130.7" lengthAdjust="spacingAndGlyphs">Differential cross section (Å<tspan font-size="7" dy="-4">2</tspan><tspan dy="4">)</tspan></text>
<text x="59" y="343.9" font-family='"Liberation Sans", sans-serif' font-size="10" fill="#111" textLength="102" lengthAdjust="spacingAndGlyphs">Scattering vector sinθ/λ</text>
<text x="164.5" y="343.9" font-family='"Liberation Sans", sans-serif' font-size="9.3" fill="#111" textLength="20" lengthAdjust="spacingAndGlyphs">(1/Å)</text>
<text transform="translate(228.4,316.2) rotate(-90)" font-family='"Liberation Sans", sans-serif' font-size="9.4" fill="#111" textLength="84.3" lengthAdjust="spacingAndGlyphs">Excitation error |S<tspan font-size="6" dy="2">g</tspan><tspan dy="-2">|</tspan></text>
<text transform="translate(228.4,229.9) rotate(-90)" font-family='"Liberation Sans", sans-serif' font-size="8.6" fill="#111" textLength="48" lengthAdjust="spacingAndGlyphs">(1/Å, 10 <tspan font-size="6" dy="-3.5">-2</tspan><tspan dy="3.5">)</tspan></text>
<filter id="blr" x="-20%" y="-20%" width="140%" height="140%"><feGaussianBlur stdDeviation="0.55"/></filter>
<clipPath id="clipc"><rect x="240.2" y="1.3" width="168.8" height="168.7"/></clipPath>
<radialGradient id="bgc" gradientUnits="userSpaceOnUse" cx="324.6" cy="86.0" r="120"><stop offset="0" stop-color="#6a3402"/><stop offset="0.2" stop-color="#5a2c04"/><stop offset="0.4" stop-color="#3a1c04"/><stop offset="0.6" stop-color="#221004"/><stop offset="0.8" stop-color="#160802"/><stop offset="1" stop-color="#110602"/></radialGradient>
<g clip-path="url(#clipc)">
<rect x="240.2" y="1.3" width="168.8" height="168.7" fill="url(#bgc)"/>
<g filter="url(#blr)" style="mix-blend-mode:screen">
<radialGradient id="sg1"><stop offset="0.000" stop-color="rgb(40, 17, 0)" stop-opacity="1.00"/><stop offset="0.083" stop-color="rgb(39, 16, 0)" stop-opacity="1.00"/><stop offset="0.167" stop-color="rgb(35, 15, 0)" stop-opacity="1.00"/><stop offset="0.250" stop-color="rgb(30, 13, 0)" stop-opacity="1.00"/><stop offset="0.333" stop-color="rgb(24, 10, 0)" stop-opacity="1.00"/><stop offset="0.417" stop-color="rgb(18, 8, 0)" stop-opacity="1.00"/><stop offset="0.500" stop-color="rgb(13, 5, 0)" stop-opacity="1.00"/><stop offset="0.583" stop-color="rgb(9, 4, 0)" stop-opacity="1.00"/><stop offset="0.667" stop-color="rgb(5, 2, 0)" stop-opacity="1.00"/><stop offset="0.750" stop-color="rgb(3, 1, 0)" stop-opacity="1.00"/><stop offset="0.833" stop-color="rgb(2, 1, 0)" stop-opacity="1.00"/><stop offset="0.917" stop-color="rgb(1, 0, 0)" stop-opacity="1.00"/><stop offset="1.000" stop-color="rgb(0, 0, 0)" stop-opacity="1.00"/></radialGradient>
<circle cx="223.2" cy="-11.2" r="5.2" fill="url(#sg1)"/>
<radialGradient id="sg2"><stop offset="0.000" stop-color="rgb(45, 19, 0)" stop-opacity="1.00"/><stop offset="0.083" stop-color="rgb(44, 18, 0)" stop-opacity="1.00"/><stop offset="0.167" stop-color="rgb(40, 17, 0)" stop-opacity="1.00"/><stop offset="0.250" stop-color="rgb(34, 14, 0)" stop-opacity="1.00"/><stop offset="0.333" stop-color="rgb(27, 11, 0)" stop-opacity="1.00"/><stop offset="0.417" stop-color="rgb(21, 9, 0)" stop-opacity="1.00"/><stop offset="0.500" stop-color="rgb(15, 6, 0)" stop-opacity="1.00"/><stop offset="0.583" stop-color="rgb(10, 4, 0)" stop-opacity="1.00"/><stop offset="0.667" stop-color="rgb(6, 3, 0)" stop-opacity="1.00"/><stop offset="0.750" stop-color="rgb(4, 1, 0)" stop-opacity="1.00"/><stop offset="0.833" stop-color="rgb(2, 1, 0)" stop-opacity="1.00"/><stop offset="0.917" stop-color="rgb(1, 0, 0)" stop-opacity="1.00"/><stop offset="1.000" stop-color="rgb(0, 0, 0)" stop-opacity="1.00"/></radialGradient>
<circle cx="223.2" cy="8.2" r="5.2" fill="url(#sg2)"/>
<radialGradient id="sg3"><stop offset="0.000" stop-color="rgb(49, 21, 0)" stop-opacity="1.00"/><stop offset="0.083" stop-color="rgb(48, 20, 0)" stop-opacity="1.00"/><stop offset="0.167" stop-color="rgb(43, 18, 0)" stop-opacity="1.00"/><stop offset="0.250" stop-color="rgb(37, 15, 0)" stop-opacity="1.00"/><stop offset="0.333" stop-color="rgb(30, 12, 0)" stop-opacity="1.00"/><stop offset="0.417" stop-color="rgb(23, 9, 0)" stop-opacity="1.00"/><stop offset="0.500" stop-color="rgb(16, 7, 0)" stop-opacity="1.00"/><stop offset="0.583" stop-color="rgb(11, 4, 0)" stop-opacity="1.00"/><stop offset="0.667" stop-color="rgb(7, 3, 0)" stop-opacity="1.00"/><stop offset="0.750" stop-color="rgb(4, 2, 0)" stop-opacity="1.00"/><stop offset="0.833" stop-color="rgb(2, 1, 0)" stop-opacity="1.00"/><stop offset="0.917" stop-color="rgb(1, 0, 0)" stop-opacity="1.00"/><stop offset="1.000" stop-color="rgb(1, 0, 0)" stop-opacity="1.00"/></radialGradient>
<circle cx="223.2" cy="27.7" r="5.2" fill="url(#sg3)"/>
<radialGradient id="sg4"><stop offset="0.000" stop-color="rgb(53, 22, 0)" stop-opacity="1.00"/><stop offset="0.083" stop-color="rgb(51, 21, 0)" stop-opacity="1.00"/><stop offset="0.167" stop-color="rgb(46, 19, 0)" stop-opacity="1.00"/><stop offset="0.250" stop-color="rgb(40, 17, 0)" stop-opacity="1.00"/><stop offset="0.333" stop-color="rgb(32, 13, 0)" stop-opacity="1.00"/><stop offset="0.417" stop-color="rgb(24, 10, 0)" stop-opacity="1.00"/><stop offset="0.500" stop-color="rgb(17, 7, 0)" stop-opacity="1.00"/><stop offset="0.583" stop-color="rgb(11, 5, 0)" stop-opacity="1.00"/><stop offset="0.667" stop-color="rgb(7, 3, 0)" stop-opacity="1.00"/><stop offset="0.750" stop-color="rgb(4, 2, 0)" stop-opacity="1.00"/><stop offset="0.833" stop-color="rgb(2, 1, 0)" stop-opacity="1.00"/><stop offset="0.917" stop-color="rgb(1, 0, 0)" stop-opacity="1.00"/><stop offset="1.000" stop-color="rgb(1, 0, 0)" stop-opacity="1.00"/></radialGradient>
<circle cx="223.2" cy="47.1" r="5.2" fill="url(#sg4)"/>
<radialGradient id="sg5"><stop offset="0.000" stop-color="rgb(55, 23, 0)" stop-opacity="1.00"/><stop offset="0.083" stop-color="rgb(53, 22, 0)" stop-opacity="1.00"/><stop offset="0.167" stop-color="rgb(48, 20, 0)" stop-opacity="1.00"/><stop offset="0.250" stop-color="rgb(41, 17, 0)" stop-opacity="1.00"/><stop offset="0.333" stop-color="rgb(33, 14, 0)" stop-opacity="1.00"/><stop offset="0.417" stop-color="rgb(25, 10, 0)" stop-opacity="1.00"/><stop offset="0.500" stop-color="rgb(18, 7, 0)" stop-opacity="1.00"/><stop offset="0.583" stop-color="rgb(12, 5, 0)" stop-opacity="1.00"/><stop offset="0.667" stop-color="rgb(7, 3, 0)" stop-opacity="1.00"/><stop offset="0.750" stop-color="rgb(4, 2, 0)" stop-opacity="1.00"/><stop offset="0.833" stop-color="rgb(2, 1, 0)" stop-opacity="1.00"/><stop offset="0.917" stop-color="rgb(1, 1, 0)" stop-opacity="1.00"/><stop offset="1.000" stop-color="rgb(1, 0, 0)" stop-opacity="1.00"/></radialGradient>
<circle cx="223.2" cy="66.6" r="5.2" fill="url(#sg5)"/>
<circle cx="223.2" cy="86.0" r="5.2" fill="url(#sg5)"/>
<circle cx="223.2" cy="105.4" r="5.2" fill="url(#sg5)"/>
<circle cx="223.2" cy="124.9" r="5.2" fill="url(#sg4)"/>
<circle cx="223.2" cy="144.3" r="5.2" fill="url(#sg3)"/>
<circle cx="223.2" cy="163.8" r="5.2" fill="url(#sg2)"/>
<circle cx="223.2" cy="183.2" r="5.2" fill="url(#sg1)"/>
<circle cx="240.1" cy="-1.5" r="5.2" fill="url(#sg3)"/>
<circle cx="240.1" cy="18.0" r="5.2" fill="url(#sg4)"/>
<circle cx="240.1" cy="37.4" r="5.2" fill="url(#sg5)"/>
<circle cx="240.1" cy="56.8" r="5.2" fill="url(#sg2)"/>
<circle cx="240.1" cy="76.3" r="5.2" fill="url(#sg4)"/>
<circle cx="240.1" cy="95.7" r="5.2" fill="url(#sg4)"/>
<circle cx="240.1" cy="115.2" r="5.2" fill="url(#sg2)"/>
<circle cx="240.1" cy="134.6" r="5.2" fill="url(#sg5)"/>
<circle cx="240.1" cy="154.0" r="5.2" fill="url(#sg4)"/>
<circle cx="240.1" cy="173.5" r="5.2" fill="url(#sg3)"/>
<circle cx="257.0" cy="-11.2" r="5.2" fill="url(#sg3)"/>
<circle cx="257.0" cy="8.2" r="5.2" fill="url(#sg5)"/>
<circle cx="257.0" cy="27.7" r="5.2" fill="url(#sg2)"/>
<radialGradient id="sg6"><stop offset="0.000" stop-color="rgb(78, 33, 1)" stop-opacity="1.00"/><stop offset="0.083" stop-color="rgb(75, 32, 1)" stop-opacity="1.00"/><stop offset="0.167" stop-color="rgb(69, 29, 1)" stop-opacity="1.00"/><stop offset="0.250" stop-color="rgb(59, 24, 0)" stop-opacity="1.00"/><stop offset="0.333" stop-color="rgb(47, 20, 0)" stop-opacity="1.00"/><stop offset="0.417" stop-color="rgb(36, 15, 0)" stop-opacity="1.00"/><stop offset="0.500" stop-color="rgb(25, 11, 0)" stop-opacity="1.00"/><stop offset="0.583" stop-color="rgb(17, 7, 0)" stop-opacity="1.00"/><stop offset="0.667" stop-color="rgb(11, 4, 0)" stop-opacity="1.00"/><stop offset="0.750" stop-color="rgb(6, 3, 0)" stop-opacity="1.00"/><stop offset="0.833" stop-color="rgb(3, 1, 0)" stop-opacity="1.00"/><stop offset="0.917" stop-color="rgb(2, 1, 0)" stop-opacity="1.00"/><stop offset="1.000" stop-color="rgb(1, 0, 0)" stop-opacity="1.00"/></radialGradient>
<circle cx="257.0" cy="47.1" r="5.2" fill="url(#sg6)"/>
<radialGradient id="sg7"><stop offset="0.000" stop-color="rgb(88, 38, 2)" stop-opacity="1.00"/><stop offset="0.083" stop-color="rgb(86, 36, 2)" stop-opacity="1.00"/><stop offset="0.167" stop-color="rgb(78, 33, 1)" stop-opacity="1.00"/><stop offset="0.250" stop-color="rgb(67, 28, 1)" stop-opacity="1.00"/><stop offset="0.333" stop-color="rgb(54, 22, 0)" stop-opacity="1.00"/><stop offset="0.417" stop-color="rgb(40, 17, 0)" stop-opacity="1.00"/><stop offset="0.500" stop-color="rgb(29, 12, 0)" stop-opacity="1.00"/><stop offset="0.583" stop-color="rgb(19, 8, 0)" stop-opacity="1.00"/><stop offset="0.667" stop-color="rgb(12, 5, 0)" stop-opacity="1.00"/><stop offset="0.750" stop-color="rgb(7, 3, 0)" stop-opacity="1.00"/><stop offset="0.833" stop-color="rgb(4, 2, 0)" stop-opacity="1.00"/><stop offset="0.917" stop-color="rgb(2, 1, 0)" stop-opacity="1.00"/><stop offset="1.000" stop-color="rgb(1, 0, 0)" stop-opacity="1.00"/></radialGradient>
<circle cx="257.0" cy="66.6" r="5.2" fill="url(#sg7)"/>
<radialGradient id="sg8"><stop offset="0.000" stop-color="rgb(229, 114, 22)" stop-opacity="1.00"/><stop offset="0.083" stop-color="rgb(225, 110, 21)" stop-opacity="1.00"/><stop offset="0.167" stop-color="rgb(213, 98, 17)" stop-opacity="1.00"/><stop offset="0.250" stop-color="rgb(186, 82, 13)" stop-opacity="1.00"/><stop offset="0.333" stop-color="rgb(148, 65, 8)" stop-opacity="1.00"/><stop offset="0.417" stop-color="rgb(111, 48, 4)" stop-opacity="1.00"/><stop offset="0.500" stop-color="rgb(78, 33, 2)" stop-opacity="1.00"/><stop offset="0.583" stop-color="rgb(52, 22, 0)" stop-opacity="1.00"/><stop offset="0.667" stop-color="rgb(33, 14, 0)" stop-opacity="1.00"/><stop offset="0.750" stop-color="rgb(19, 8, 0)" stop-opacity="1.00"/><stop offset="0.833" stop-color="rgb(11, 4, 0)" stop-opacity="1.00"/><stop offset="0.917" stop-color="rgb(6, 2, 0)" stop-opacity="1.00"/><stop offset="1.000" stop-color="rgb(3, 1, 0)" stop-opacity="1.00"/></radialGradient>
<circle cx="257.0" cy="86.0" r="5.8" fill="url(#sg8)"/>
<circle cx="257.0" cy="105.4" r="5.2" fill="url(#sg7)"/>
<circle cx="257.0" cy="124.9" r="5.2" fill="url(#sg6)"/>
<circle cx="257.0" cy="144.3" r="5.2" fill="url(#sg2)"/>
<circle cx="257.0" cy="163.8" r="5.2" fill="url(#sg5)"/>
<circle cx="257.0" cy="183.2" r="5.2" fill="url(#sg3)"/>
<circle cx="273.9" cy="-1.5" r="5.2" fill="url(#sg5)"/>
<circle cx="273.9" cy="18.0" r="5.2" fill="url(#sg4)"/>
<circle cx="273.9" cy="37.4" r="5.2" fill="url(#sg7)"/>
<radialGradient id="sg9"><stop offset="0.000" stop-color="rgb(248, 158, 20)" stop-opacity="1.00"/><stop offset="0.083" stop-color="rgb(245, 148, 21)" stop-opacity="1.00"/><stop offset="0.167" stop-color="rgb(238, 123, 24)" stop-opacity="1.00"/><stop offset="0.250" stop-color="rgb(216, 101, 18)" stop-opacity="1.00"/><stop offset="0.333" stop-color="rgb(180, 79, 12)" stop-opacity="1.00"/><stop offset="0.417" stop-color="rgb(134, 58, 7)" stop-opacity="1.00"/><stop offset="0.500" stop-color="rgb(94, 40, 3)" stop-opacity="1.00"/><stop offset="0.583" stop-color="rgb(63, 26, 0)" stop-opacity="1.00"/><stop offset="0.667" stop-color="rgb(39, 16, 0)" stop-opacity="1.00"/><stop offset="0.750" stop-color="rgb(23, 10, 0)" stop-opacity="1.00"/><stop offset="0.833" stop-color="rgb(13, 5, 0)" stop-opacity="1.00"/><stop offset="0.917" stop-color="rgb(7, 3, 0)" stop-opacity="1.00"/><stop offset="1.000" stop-color="rgb(3, 1, 0)" stop-opacity="1.00"/></radialGradient>
<circle cx="273.9" cy="56.8" r="5.8" fill="url(#sg9)"/>
<radialGradient id="sg10"><stop offset="0.000" stop-color="rgb(105, 45, 4)" stop-opacity="1.00"/><stop offset="0.083" stop-color="rgb(102, 44, 4)" stop-opacity="1.00"/><stop offset="0.167" stop-color="rgb(93, 40, 3)" stop-opacity="1.00"/><stop offset="0.250" stop-color="rgb(80, 34, 2)" stop-opacity="1.00"/><stop offset="0.333" stop-color="rgb(64, 27, 0)" stop-opacity="1.00"/><stop offset="0.417" stop-color="rgb(48, 20, 0)" stop-opacity="1.00"/><stop offset="0.500" stop-color="rgb(34, 14, 0)" stop-opacity="1.00"/><stop offset="0.583" stop-color="rgb(23, 10, 0)" stop-opacity="1.00"/><stop offset="0.667" stop-color="rgb(14, 6, 0)" stop-opacity="1.00"/><stop offset="0.750" stop-color="rgb(8, 3, 0)" stop-opacity="1.00"/><stop offset="0.833" stop-color="rgb(5, 2, 0)" stop-opacity="1.00"/><stop offset="0.917" stop-color="rgb(2, 1, 0)" stop-opacity="1.00"/><stop offset="1.000" stop-color="rgb(1, 0, 0)" stop-opacity="1.00"/></radialGradient>
<circle cx="273.9" cy="76.3" r="5.2" fill="url(#sg10)"/>
<circle cx="273.9" cy="95.7" r="5.2" fill="url(#sg10)"/>
<circle cx="273.9" cy="115.2" r="5.8" fill="url(#sg9)"/>
<circle cx="273.9" cy="134.6" r="5.2" fill="url(#sg7)"/>
<circle cx="273.9" cy="154.0" r="5.2" fill="url(#sg4)"/>
<circle cx="273.9" cy="173.5" r="5.2" fill="url(#sg5)"/>
<circle cx="290.8" cy="-11.2" r="5.2" fill="url(#sg5)"/>
<circle cx="290.8" cy="8.2" r="5.2" fill="url(#sg4)"/>
<circle cx="290.8" cy="27.7" r="5.8" fill="url(#sg8)"/>
<circle cx="290.8" cy="47.1" r="5.2" fill="url(#sg10)"/>
<radialGradient id="sg11"><stop offset="0.000" stop-color="rgb(120, 52, 5)" stop-opacity="1.00"/><stop offset="0.083" stop-color="rgb(116, 50, 5)" stop-opacity="1.00"/><stop offset="0.167" stop-color="rgb(106, 46, 4)" stop-opacity="1.00"/><stop offset="0.250" stop-color="rgb(91, 39, 3)" stop-opacity="1.00"/><stop offset="0.333" stop-color="rgb(73, 31, 1)" stop-opacity="1.00"/><stop offset="0.417" stop-color="rgb(55, 23, 0)" stop-opacity="1.00"/><stop offset="0.500" stop-color="rgb(39, 16, 0)" stop-opacity="1.00"/><stop offset="0.583" stop-color="rgb(26, 11, 0)" stop-opacity="1.00"/><stop offset="0.667" stop-color="rgb(16, 7, 0)" stop-opacity="1.00"/><stop offset="0.750" stop-color="rgb(10, 4, 0)" stop-opacity="1.00"/><stop offset="0.833" stop-color="rgb(5, 2, 0)" stop-opacity="1.00"/><stop offset="0.917" stop-color="rgb(3, 1, 0)" stop-opacity="1.00"/><stop offset="1.000" stop-color="rgb(1, 1, 0)" stop-opacity="1.00"/></radialGradient>
<circle cx="290.8" cy="66.6" r="5.2" fill="url(#sg11)"/>
<radialGradient id="sg12"><stop offset="0.000" stop-color="rgb(255, 255, 40)" stop-opacity="1.00"/><stop offset="0.083" stop-color="rgb(255, 255, 40)" stop-opacity="1.00"/><stop offset="0.167" stop-color="rgb(255, 255, 40)" stop-opacity="1.00"/><stop offset="0.250" stop-color="rgb(255, 255, 40)" stop-opacity="1.00"/><stop offset="0.333" stop-color="rgb(255, 255, 40)" stop-opacity="1.00"/><stop offset="0.417" stop-color="rgb(255, 255, 40)" stop-opacity="1.00"/><stop offset="0.500" stop-color="rgb(255, 255, 40)" stop-opacity="1.00"/><stop offset="0.583" stop-color="rgb(255, 255, 40)" stop-opacity="1.00"/><stop offset="0.667" stop-color="rgb(243, 137, 23)" stop-opacity="1.00"/><stop offset="0.750" stop-color="rgb(162, 71, 10)" stop-opacity="1.00"/><stop offset="0.833" stop-color="rgb(88, 38, 2)" stop-opacity="1.00"/><stop offset="0.917" stop-color="rgb(46, 19, 0)" stop-opacity="1.00"/><stop offset="1.000" stop-color="rgb(22, 9, 0)" stop-opacity="1.00"/></radialGradient>
<circle cx="290.8" cy="86.0" r="6.6" fill="url(#sg12)"/>
<circle cx="290.8" cy="105.4" r="5.2" fill="url(#sg11)"/>
<circle cx="290.8" cy="124.9" r="5.2" fill="url(#sg10)"/>
<circle cx="290.8" cy="144.3" r="5.8" fill="url(#sg8)"/>
<circle cx="290.8" cy="163.8" r="5.2" fill="url(#sg4)"/>
<circle cx="290.8" cy="183.2" r="5.2" fill="url(#sg5)"/>
<circle cx="307.7" cy="-1.5" r="5.2" fill="url(#sg2)"/>
<circle cx="307.7" cy="18.0" r="5.2" fill="url(#sg7)"/>
<circle cx="307.7" cy="37.4" r="5.2" fill="url(#sg10)"/>
<circle cx="307.7" cy="56.8" r="6.6" fill="url(#sg12)"/>
<radialGradient id="sg13"><stop offset="0.000" stop-color="rgb(243, 138, 23)" stop-opacity="1.00"/><stop offset="0.083" stop-color="rgb(241, 129, 24)" stop-opacity="1.00"/><stop offset="0.167" stop-color="rgb(228, 113, 22)" stop-opacity="1.00"/><stop offset="0.250" stop-color="rgb(208, 93, 16)" stop-opacity="1.00"/><stop offset="0.333" stop-color="rgb(168, 73, 11)" stop-opacity="1.00"/><stop offset="0.417" stop-color="rgb(125, 54, 6)" stop-opacity="1.00"/><stop offset="0.500" stop-color="rgb(88, 38, 2)" stop-opacity="1.00"/><stop offset="0.583" stop-color="rgb(59, 25, 0)" stop-opacity="1.00"/><stop offset="0.667" stop-color="rgb(37, 15, 0)" stop-opacity="1.00"/><stop offset="0.750" stop-color="rgb(22, 9, 0)" stop-opacity="1.00"/><stop offset="0.833" stop-color="rgb(12, 5, 0)" stop-opacity="1.00"/><stop offset="0.917" stop-color="rgb(6, 3, 0)" stop-opacity="1.00"/><stop offset="1.000" stop-color="rgb(3, 1, 0)" stop-opacity="1.00"/></radialGradient>
<circle cx="307.7" cy="76.3" r="5.8" fill="url(#sg13)"/>
<circle cx="307.7" cy="95.7" r="5.8" fill="url(#sg13)"/>
<circle cx="307.7" cy="115.2" r="6.6" fill="url(#sg12)"/>
<circle cx="307.7" cy="134.6" r="5.2" fill="url(#sg10)"/>
<circle cx="307.7" cy="154.0" r="5.2" fill="url(#sg7)"/>
<circle cx="307.7" cy="173.5" r="5.2" fill="url(#sg2)"/>
<circle cx="324.6" cy="-11.2" r="5.2" fill="url(#sg5)"/>
<circle cx="324.6" cy="8.2" r="5.2" fill="url(#sg6)"/>
<circle cx="324.6" cy="27.7" r="5.8" fill="url(#sg9)"/>
<circle cx="324.6" cy="47.1" r="5.2" fill="url(#sg11)"/>
<circle cx="324.6" cy="66.6" r="5.8" fill="url(#sg13)"/>
<circle cx="324.6" cy="105.4" r="5.8" fill="url(#sg13)"/>
<circle cx="324.6" cy="124.9" r="5.2" fill="url(#sg11)"/>
<circle cx="324.6" cy="144.3" r="5.8" fill="url(#sg9)"/>
<circle cx="324.6" cy="163.8" r="5.2" fill="url(#sg6)"/>
<circle cx="324.6" cy="183.2" r="5.2" fill="url(#sg5)"/>
<circle cx="341.5" cy="-1.5" r="5.2" fill="url(#sg2)"/>
<circle cx="341.5" cy="18.0" r="5.2" fill="url(#sg7)"/>
<circle cx="341.5" cy="37.4" r="5.2" fill="url(#sg10)"/>
<circle cx="341.5" cy="56.8" r="6.6" fill="url(#sg12)"/>
<circle cx="341.5" cy="76.3" r="5.8" fill="url(#sg13)"/>
<circle cx="341.5" cy="95.7" r="5.8" fill="url(#sg13)"/>
<circle cx="341.5" cy="115.2" r="6.6" fill="url(#sg12)"/>
<circle cx="341.5" cy="134.6" r="5.2" fill="url(#sg10)"/>
<circle cx="341.5" cy="154.0" r="5.2" fill="url(#sg7)"/>
<circle cx="341.5" cy="173.5" r="5.2" fill="url(#sg2)"/>
<circle cx="358.4" cy="-11.2" r="5.2" fill="url(#sg5)"/>
<circle cx="358.4" cy="8.2" r="5.2" fill="url(#sg4)"/>
<circle cx="358.4" cy="27.7" r="5.8" fill="url(#sg8)"/>
<circle cx="358.4" cy="47.1" r="5.2" fill="url(#sg10)"/>
<circle cx="358.4" cy="66.6" r="5.2" fill="url(#sg11)"/>
<circle cx="358.4" cy="86.0" r="6.6" fill="url(#sg12)"/>
<circle cx="358.4" cy="105.4" r="5.2" fill="url(#sg11)"/>
<circle cx="358.4" cy="124.9" r="5.2" fill="url(#sg10)"/>
<circle cx="358.4" cy="144.3" r="5.8" fill="url(#sg8)"/>
<circle cx="358.4" cy="163.8" r="5.2" fill="url(#sg4)"/>
<circle cx="358.4" cy="183.2" r="5.2" fill="url(#sg5)"/>
<circle cx="375.3" cy="-1.5" r="5.2" fill="url(#sg5)"/>
<circle cx="375.3" cy="18.0" r="5.2" fill="url(#sg4)"/>
<circle cx="375.3" cy="37.4" r="5.2" fill="url(#sg7)"/>
<circle cx="375.3" cy="56.8" r="5.8" fill="url(#sg9)"/>
<circle cx="375.3" cy="76.3" r="5.2" fill="url(#sg10)"/>
<circle cx="375.3" cy="95.7" r="5.2" fill="url(#sg10)"/>
<circle cx="375.3" cy="115.2" r="5.8" fill="url(#sg9)"/>
<circle cx="375.3" cy="134.6" r="5.2" fill="url(#sg7)"/>
<circle cx="375.3" cy="154.0" r="5.2" fill="url(#sg4)"/>
<circle cx="375.3" cy="173.5" r="5.2" fill="url(#sg5)"/>
<circle cx="392.2" cy="-11.2" r="5.2" fill="url(#sg3)"/>
<circle cx="392.2" cy="8.2" r="5.2" fill="url(#sg5)"/>
<circle cx="392.2" cy="27.7" r="5.2" fill="url(#sg2)"/>
<circle cx="392.2" cy="47.1" r="5.2" fill="url(#sg6)"/>
<circle cx="392.2" cy="66.6" r="5.2" fill="url(#sg7)"/>
<circle cx="392.2" cy="86.0" r="5.8" fill="url(#sg8)"/>
<circle cx="392.2" cy="105.4" r="5.2" fill="url(#sg7)"/>
<circle cx="392.2" cy="124.9" r="5.2" fill="url(#sg6)"/>
<circle cx="392.2" cy="144.3" r="5.2" fill="url(#sg2)"/>
<circle cx="392.2" cy="163.8" r="5.2" fill="url(#sg5)"/>
<circle cx="392.2" cy="183.2" r="5.2" fill="url(#sg3)"/>
<circle cx="409.1" cy="-1.5" r="5.2" fill="url(#sg3)"/>
<circle cx="409.1" cy="18.0" r="5.2" fill="url(#sg4)"/>
<circle cx="409.1" cy="37.4" r="5.2" fill="url(#sg5)"/>
<circle cx="409.1" cy="56.8" r="5.2" fill="url(#sg2)"/>
<circle cx="409.1" cy="76.3" r="5.2" fill="url(#sg4)"/>
<circle cx="409.1" cy="95.7" r="5.2" fill="url(#sg4)"/>
<circle cx="409.1" cy="115.2" r="5.2" fill="url(#sg2)"/>
<circle cx="409.1" cy="134.6" r="5.2" fill="url(#sg5)"/>
<circle cx="409.1" cy="154.0" r="5.2" fill="url(#sg4)"/>
<circle cx="409.1" cy="173.5" r="5.2" fill="url(#sg3)"/>
<circle cx="426.0" cy="-11.2" r="5.2" fill="url(#sg1)"/>
<circle cx="426.0" cy="8.2" r="5.2" fill="url(#sg2)"/>
<circle cx="426.0" cy="27.7" r="5.2" fill="url(#sg3)"/>
<circle cx="426.0" cy="47.1" r="5.2" fill="url(#sg4)"/>
<circle cx="426.0" cy="66.6" r="5.2" fill="url(#sg5)"/>
<circle cx="426.0" cy="86.0" r="5.2" fill="url(#sg5)"/>
<circle cx="426.0" cy="105.4" r="5.2" fill="url(#sg5)"/>
<circle cx="426.0" cy="124.9" r="5.2" fill="url(#sg4)"/>
<circle cx="426.0" cy="144.3" r="5.2" fill="url(#sg3)"/>
<circle cx="426.0" cy="163.8" r="5.2" fill="url(#sg2)"/>
<circle cx="426.0" cy="183.2" r="5.2" fill="url(#sg1)"/>
</g></g>
<line x1="324.6" y1="86.0" x2="409.0" y2="86.0" stroke="#ececec" stroke-width="3.7" stroke-linecap="round"/>
<line x1="324.6" y1="86.0" x2="409.0" y2="132.6" stroke="#ececec" stroke-width="3.7" stroke-linecap="round"/>
<line x1="325.1" y1="86.0" x2="409.0" y2="86.0" stroke="#ff5a66" stroke-width="2"/>
<line x1="325.1" y1="86.3" x2="409.0" y2="132.6" stroke="#2828ff" stroke-width="2"/>
<text transform="translate(248.0,20.0) scale(0.93,1)" font-family='"Liberation Sans", sans-serif' font-size="17" font-weight="bold" fill="#fff">c</text>
<text x="331.8" y="13.6" font-family='"Liberation Sans", sans-serif' font-size="11" font-weight="bold" fill="#000" stroke="#fff" stroke-width="1.8" stroke-linejoin="round" paint-order="stroke" text-anchor="start" textLength="71.5" lengthAdjust="spacingAndGlyphs">2.8MeV, 70nm</text>
<text x="351.6" y="53.6" font-family='"Liberation Sans", sans-serif' font-size="10" font-weight="bold" fill="#000" stroke="#fff" stroke-width="1.8" stroke-linejoin="round" paint-order="stroke" text-anchor="start" textLength="17.3" lengthAdjust="spacingAndGlyphs">010</text>
<text x="376.8" y="73.0" font-family='"Liberation Sans", sans-serif' font-size="10" font-weight="bold" fill="#000" stroke="#fff" stroke-width="1.8" stroke-linejoin="round" paint-order="stroke" text-anchor="start" textLength="17" lengthAdjust="spacingAndGlyphs">110</text>
<text x="348" y="122.6" font-family='"Liberation Sans", sans-serif' font-size="10" font-weight="bold" fill="#000" stroke="#fff" stroke-width="1.8" stroke-linejoin="round" paint-order="stroke" text-anchor="start" textLength="18.5" lengthAdjust="spacingAndGlyphs">100</text>
<text x="380.4" y="141.4" font-family='"Liberation Sans", sans-serif' font-size="10" font-weight="bold" fill="#000" stroke="#fff" stroke-width="1.8" stroke-linejoin="round" paint-order="stroke" text-anchor="start" textLength="18.2" lengthAdjust="spacingAndGlyphs">300</text>
<line x1="351.6" y1="58.0" x2="345.9" y2="69.2" stroke="#fff" stroke-width="3.2" stroke-linecap="round"/>
<polygon points="343.8,73.2 343.5,68.0 348.2,70.4" fill="#000" stroke="#fff" stroke-width="1.2" stroke-linejoin="round"/>
<line x1="351.6" y1="58.0" x2="345.9" y2="69.2" stroke="#000" stroke-width="1.3"/>
<polygon points="343.8,73.2 343.5,68.0 348.2,70.4" fill="#000"/>
<line x1="373.3" y1="72.8" x2="366.5" y2="79.0" stroke="#fff" stroke-width="3.2" stroke-linecap="round"/>
<polygon points="363.2,82.0 364.8,77.0 368.3,80.9" fill="#000" stroke="#fff" stroke-width="1.2" stroke-linejoin="round"/>
<line x1="373.3" y1="72.8" x2="366.5" y2="79.0" stroke="#000" stroke-width="1.3"/>
<polygon points="363.2,82.0 364.8,77.0 368.3,80.9" fill="#000"/>
<line x1="347.3" y1="110.7" x2="344.6" y2="104.7" stroke="#fff" stroke-width="3.2" stroke-linecap="round"/>
<polygon points="342.8,100.6 347.0,103.7 342.3,105.8" fill="#000" stroke="#fff" stroke-width="1.2" stroke-linejoin="round"/>
<line x1="347.3" y1="110.7" x2="344.6" y2="104.7" stroke="#000" stroke-width="1.3"/>
<polygon points="342.8,100.6 347.0,103.7 342.3,105.8" fill="#000"/>
<line x1="380.4" y1="128.9" x2="377.7" y2="122.6" stroke="#fff" stroke-width="3.2" stroke-linecap="round"/>
<polygon points="375.9,118.5 380.1,121.6 375.3,123.7" fill="#000" stroke="#fff" stroke-width="1.2" stroke-linejoin="round"/>
<line x1="380.4" y1="128.9" x2="377.7" y2="122.6" stroke="#000" stroke-width="1.3"/>
<polygon points="375.9,118.5 380.1,121.6 375.3,123.7" fill="#000"/>
<clipPath id="clipd"><rect x="240.4" y="173.9" width="168.79999999999998" height="168.4"/></clipPath>
<radialGradient id="bgd" gradientUnits="userSpaceOnUse" cx="324.6" cy="257.5" r="120"><stop offset="0" stop-color="#2a1604"/><stop offset="0.1" stop-color="#321a06"/><stop offset="0.3" stop-color="#2e1806"/><stop offset="0.5" stop-color="#241204"/><stop offset="0.75" stop-color="#1a0a02"/><stop offset="1" stop-color="#140802"/></radialGradient>
<g clip-path="url(#clipd)">
<rect x="240.4" y="173.9" width="168.79999999999998" height="168.4" fill="url(#bgd)"/>
<g filter="url(#blr)" style="mix-blend-mode:screen">
<radialGradient id="sg14"><stop offset="0.000" stop-color="rgb(29, 12, 0)" stop-opacity="1.00"/><stop offset="0.083" stop-color="rgb(28, 12, 0)" stop-opacity="1.00"/><stop offset="0.167" stop-color="rgb(25, 11, 0)" stop-opacity="1.00"/><stop offset="0.250" stop-color="rgb(22, 9, 0)" stop-opacity="1.00"/><stop offset="0.333" stop-color="rgb(17, 7, 0)" stop-opacity="1.00"/><stop offset="0.417" stop-color="rgb(13, 5, 0)" stop-opacity="1.00"/><stop offset="0.500" stop-color="rgb(9, 4, 0)" stop-opacity="1.00"/><stop offset="0.583" stop-color="rgb(6, 3, 0)" stop-opacity="1.00"/><stop offset="0.667" stop-color="rgb(4, 2, 0)" stop-opacity="1.00"/><stop offset="0.750" stop-color="rgb(2, 1, 0)" stop-opacity="1.00"/><stop offset="0.833" stop-color="rgb(1, 1, 0)" stop-opacity="1.00"/><stop offset="0.917" stop-color="rgb(1, 0, 0)" stop-opacity="1.00"/><stop offset="1.000" stop-color="rgb(0, 0, 0)" stop-opacity="1.00"/></radialGradient>
<circle cx="223.2" cy="160.0" r="5.2" fill="url(#sg14)"/>
<radialGradient id="sg15"><stop offset="0.000" stop-color="rgb(31, 13, 0)" stop-opacity="1.00"/><stop offset="0.083" stop-color="rgb(30, 13, 0)" stop-opacity="1.00"/><stop offset="0.167" stop-color="rgb(27, 11, 0)" stop-opacity="1.00"/><stop offset="0.250" stop-color="rgb(23, 10, 0)" stop-opacity="1.00"/><stop offset="0.333" stop-color="rgb(19, 8, 0)" stop-opacity="1.00"/><stop offset="0.417" stop-color="rgb(14, 6, 0)" stop-opacity="1.00"/><stop offset="0.500" stop-color="rgb(10, 4, 0)" stop-opacity="1.00"/><stop offset="0.583" stop-color="rgb(7, 3, 0)" stop-opacity="1.00"/><stop offset="0.667" stop-color="rgb(4, 2, 0)" stop-opacity="1.00"/><stop offset="0.750" stop-color="rgb(2, 1, 0)" stop-opacity="1.00"/><stop offset="0.833" stop-color="rgb(1, 1, 0)" stop-opacity="1.00"/><stop offset="0.917" stop-color="rgb(1, 0, 0)" stop-opacity="1.00"/><stop offset="1.000" stop-color="rgb(0, 0, 0)" stop-opacity="1.00"/></radialGradient>
<circle cx="223.2" cy="179.5" r="5.2" fill="url(#sg15)"/>
<circle cx="223.2" cy="199.0" r="5.2" fill="url(#sg15)"/>
<radialGradient id="sg16"><stop offset="0.000" stop-color="rgb(35, 15, 0)" stop-opacity="1.00"/><stop offset="0.083" stop-color="rgb(34, 14, 0)" stop-opacity="1.00"/><stop offset="0.167" stop-color="rgb(31, 13, 0)" stop-opacity="1.00"/><stop offset="0.250" stop-color="rgb(26, 11, 0)" stop-opacity="1.00"/><stop offset="0.333" stop-color="rgb(21, 9, 0)" stop-opacity="1.00"/><stop offset="0.417" stop-color="rgb(16, 7, 0)" stop-opacity="1.00"/><stop offset="0.500" stop-color="rgb(11, 5, 0)" stop-opacity="1.00"/><stop offset="0.583" stop-color="rgb(8, 3, 0)" stop-opacity="1.00"/><stop offset="0.667" stop-color="rgb(5, 2, 0)" stop-opacity="1.00"/><stop offset="0.750" stop-color="rgb(3, 1, 0)" stop-opacity="1.00"/><stop offset="0.833" stop-color="rgb(2, 1, 0)" stop-opacity="1.00"/><stop offset="0.917" stop-color="rgb(1, 0, 0)" stop-opacity="1.00"/><stop offset="1.000" stop-color="rgb(0, 0, 0)" stop-opacity="1.00"/></radialGradient>
<circle cx="223.2" cy="218.5" r="5.2" fill="url(#sg16)"/>
<circle cx="223.2" cy="238.0" r="5.2" fill="url(#sg16)"/>
<circle cx="223.2" cy="257.5" r="5.2" fill="url(#sg16)"/>
<circle cx="223.2" cy="277.0" r="5.2" fill="url(#sg16)"/>
<circle cx="223.2" cy="296.5" r="5.2" fill="url(#sg16)"/>
<circle cx="223.2" cy="316.0" r="5.2" fill="url(#sg15)"/>
<circle cx="223.2" cy="335.5" r="5.2" fill="url(#sg15)"/>
<circle cx="223.2" cy="355.0" r="5.2" fill="url(#sg14)"/>
<circle cx="240.1" cy="169.8" r="5.2" fill="url(#sg15)"/>
<circle cx="240.1" cy="189.2" r="5.2" fill="url(#sg16)"/>
<circle cx="240.1" cy="208.8" r="5.2" fill="url(#sg16)"/>
<circle cx="240.1" cy="228.2" r="5.2" fill="url(#sg1)"/>
<circle cx="240.1" cy="247.8" r="5.2" fill="url(#sg2)"/>
<circle cx="240.1" cy="267.2" r="5.2" fill="url(#sg2)"/>
<circle cx="240.1" cy="286.8" r="5.2" fill="url(#sg1)"/>
<circle cx="240.1" cy="306.2" r="5.2" fill="url(#sg16)"/>
<circle cx="240.1" cy="325.8" r="5.2" fill="url(#sg16)"/>
<circle cx="240.1" cy="345.2" r="5.2" fill="url(#sg15)"/>
<circle cx="257.0" cy="160.0" r="5.2" fill="url(#sg15)"/>
<circle cx="257.0" cy="179.5" r="5.2" fill="url(#sg16)"/>
<circle cx="257.0" cy="199.0" r="5.2" fill="url(#sg1)"/>
<radialGradient id="sg17"><stop offset="0.000" stop-color="rgb(64, 27, 0)" stop-opacity="1.00"/><stop offset="0.083" stop-color="rgb(62, 26, 0)" stop-opacity="1.00"/><stop offset="0.167" stop-color="rgb(57, 24, 0)" stop-opacity="1.00"/><stop offset="0.250" stop-color="rgb(49, 20, 0)" stop-opacity="1.00"/><stop offset="0.333" stop-color="rgb(39, 16, 0)" stop-opacity="1.00"/><stop offset="0.417" stop-color="rgb(30, 12, 0)" stop-opacity="1.00"/><stop offset="0.500" stop-color="rgb(21, 9, 0)" stop-opacity="1.00"/><stop offset="0.583" stop-color="rgb(14, 6, 0)" stop-opacity="1.00"/><stop offset="0.667" stop-color="rgb(9, 4, 0)" stop-opacity="1.00"/><stop offset="0.750" stop-color="rgb(5, 2, 0)" stop-opacity="1.00"/><stop offset="0.833" stop-color="rgb(3, 1, 0)" stop-opacity="1.00"/><stop offset="0.917" stop-color="rgb(1, 1, 0)" stop-opacity="1.00"/><stop offset="1.000" stop-color="rgb(1, 0, 0)" stop-opacity="1.00"/></radialGradient>
<circle cx="257.0" cy="218.5" r="5.2" fill="url(#sg17)"/>
<radialGradient id="sg18"><stop offset="0.000" stop-color="rgb(67, 28, 1)" stop-opacity="1.00"/><stop offset="0.083" stop-color="rgb(65, 27, 0)" stop-opacity="1.00"/><stop offset="0.167" stop-color="rgb(59, 25, 0)" stop-opacity="1.00"/><stop offset="0.250" stop-color="rgb(50, 21, 0)" stop-opacity="1.00"/><stop offset="0.333" stop-color="rgb(40, 17, 0)" stop-opacity="1.00"/><stop offset="0.417" stop-color="rgb(31, 13, 0)" stop-opacity="1.00"/><stop offset="0.500" stop-color="rgb(22, 9, 0)" stop-opacity="1.00"/><stop offset="0.583" stop-color="rgb(14, 6, 0)" stop-opacity="1.00"/><stop offset="0.667" stop-color="rgb(9, 4, 0)" stop-opacity="1.00"/><stop offset="0.750" stop-color="rgb(5, 2, 0)" stop-opacity="1.00"/><stop offset="0.833" stop-color="rgb(3, 1, 0)" stop-opacity="1.00"/><stop offset="0.917" stop-color="rgb(2, 1, 0)" stop-opacity="1.00"/><stop offset="1.000" stop-color="rgb(1, 0, 0)" stop-opacity="1.00"/></radialGradient>
<circle cx="257.0" cy="238.0" r="5.2" fill="url(#sg18)"/>
<radialGradient id="sg19"><stop offset="0.000" stop-color="rgb(189, 83, 13)" stop-opacity="1.00"/><stop offset="0.083" stop-color="rgb(183, 80, 12)" stop-opacity="1.00"/><stop offset="0.167" stop-color="rgb(166, 73, 10)" stop-opacity="1.00"/><stop offset="0.250" stop-color="rgb(141, 61, 7)" stop-opacity="1.00"/><stop offset="0.333" stop-color="rgb(112, 49, 4)" stop-opacity="1.00"/><stop offset="0.417" stop-color="rgb(85, 36, 2)" stop-opacity="1.00"/><stop offset="0.500" stop-color="rgb(60, 25, 0)" stop-opacity="1.00"/><stop offset="0.583" stop-color="rgb(40, 17, 0)" stop-opacity="1.00"/><stop offset="0.667" stop-color="rgb(25, 10, 0)" stop-opacity="1.00"/><stop offset="0.750" stop-color="rgb(15, 6, 0)" stop-opacity="1.00"/><stop offset="0.833" stop-color="rgb(8, 3, 0)" stop-opacity="1.00"/><stop offset="0.917" stop-color="rgb(4, 2, 0)" stop-opacity="1.00"/><stop offset="1.000" stop-color="rgb(2, 1, 0)" stop-opacity="1.00"/></radialGradient>
<circle cx="257.0" cy="257.5" r="5.8" fill="url(#sg19)"/>
<circle cx="257.0" cy="277.0" r="5.2" fill="url(#sg18)"/>
<circle cx="257.0" cy="296.5" r="5.2" fill="url(#sg17)"/>
<circle cx="257.0" cy="316.0" r="5.2" fill="url(#sg1)"/>
<circle cx="257.0" cy="335.5" r="5.2" fill="url(#sg16)"/>
<circle cx="257.0" cy="355.0" r="5.2" fill="url(#sg15)"/>
<circle cx="273.9" cy="169.8" r="5.2" fill="url(#sg16)"/>
<circle cx="273.9" cy="189.2" r="5.2" fill="url(#sg2)"/>
<circle cx="273.9" cy="208.8" r="5.2" fill="url(#sg18)"/>
<radialGradient id="sg20"><stop offset="0.000" stop-color="rgb(222, 107, 20)" stop-opacity="1.00"/><stop offset="0.083" stop-color="rgb(218, 103, 19)" stop-opacity="1.00"/><stop offset="0.167" stop-color="rgb(207, 92, 15)" stop-opacity="1.00"/><stop offset="0.250" stop-color="rgb(177, 77, 12)" stop-opacity="1.00"/><stop offset="0.333" stop-color="rgb(140, 61, 7)" stop-opacity="1.00"/><stop offset="0.417" stop-color="rgb(105, 45, 4)" stop-opacity="1.00"/><stop offset="0.500" stop-color="rgb(75, 32, 1)" stop-opacity="1.00"/><stop offset="0.583" stop-color="rgb(50, 21, 0)" stop-opacity="1.00"/><stop offset="0.667" stop-color="rgb(31, 13, 0)" stop-opacity="1.00"/><stop offset="0.750" stop-color="rgb(18, 8, 0)" stop-opacity="1.00"/><stop offset="0.833" stop-color="rgb(10, 4, 0)" stop-opacity="1.00"/><stop offset="0.917" stop-color="rgb(5, 2, 0)" stop-opacity="1.00"/><stop offset="1.000" stop-color="rgb(3, 1, 0)" stop-opacity="1.00"/></radialGradient>
<circle cx="273.9" cy="228.2" r="5.8" fill="url(#sg20)"/>
<radialGradient id="sg21"><stop offset="0.000" stop-color="rgb(84, 36, 2)" stop-opacity="1.00"/><stop offset="0.083" stop-color="rgb(81, 35, 2)" stop-opacity="1.00"/><stop offset="0.167" stop-color="rgb(74, 31, 1)" stop-opacity="1.00"/><stop offset="0.250" stop-color="rgb(63, 27, 0)" stop-opacity="1.00"/><stop offset="0.333" stop-color="rgb(51, 21, 0)" stop-opacity="1.00"/><stop offset="0.417" stop-color="rgb(38, 16, 0)" stop-opacity="1.00"/><stop offset="0.500" stop-color="rgb(27, 11, 0)" stop-opacity="1.00"/><stop offset="0.583" stop-color="rgb(18, 8, 0)" stop-opacity="1.00"/><stop offset="0.667" stop-color="rgb(11, 5, 0)" stop-opacity="1.00"/><stop offset="0.750" stop-color="rgb(7, 3, 0)" stop-opacity="1.00"/><stop offset="0.833" stop-color="rgb(4, 2, 0)" stop-opacity="1.00"/><stop offset="0.917" stop-color="rgb(2, 1, 0)" stop-opacity="1.00"/><stop offset="1.000" stop-color="rgb(1, 0, 0)" stop-opacity="1.00"/></radialGradient>
<circle cx="273.9" cy="247.8" r="5.2" fill="url(#sg21)"/>
<circle cx="273.9" cy="267.2" r="5.2" fill="url(#sg21)"/>
<circle cx="273.9" cy="286.8" r="5.8" fill="url(#sg20)"/>
<circle cx="273.9" cy="306.2" r="5.2" fill="url(#sg18)"/>
<circle cx="273.9" cy="325.8" r="5.2" fill="url(#sg2)"/>
<circle cx="273.9" cy="345.2" r="5.2" fill="url(#sg16)"/>
<circle cx="290.8" cy="160.0" r="5.2" fill="url(#sg16)"/>
<circle cx="290.8" cy="179.5" r="5.2" fill="url(#sg2)"/>
<circle cx="290.8" cy="199.0" r="5.8" fill="url(#sg19)"/>
<circle cx="290.8" cy="218.5" r="5.2" fill="url(#sg21)"/>
<radialGradient id="sg22"><stop offset="0.000" stop-color="rgb(184, 80, 12)" stop-opacity="1.00"/><stop offset="0.083" stop-color="rgb(178, 78, 12)" stop-opacity="1.00"/><stop offset="0.167" stop-color="rgb(161, 70, 10)" stop-opacity="1.00"/><stop offset="0.250" stop-color="rgb(137, 60, 7)" stop-opacity="1.00"/><stop offset="0.333" stop-color="rgb(109, 47, 4)" stop-opacity="1.00"/><stop offset="0.417" stop-color="rgb(82, 35, 2)" stop-opacity="1.00"/><stop offset="0.500" stop-color="rgb(58, 24, 0)" stop-opacity="1.00"/><stop offset="0.583" stop-color="rgb(39, 16, 0)" stop-opacity="1.00"/><stop offset="0.667" stop-color="rgb(24, 10, 0)" stop-opacity="1.00"/><stop offset="0.750" stop-color="rgb(14, 6, 0)" stop-opacity="1.00"/><stop offset="0.833" stop-color="rgb(8, 3, 0)" stop-opacity="1.00"/><stop offset="0.917" stop-color="rgb(4, 2, 0)" stop-opacity="1.00"/><stop offset="1.000" stop-color="rgb(2, 1, 0)" stop-opacity="1.00"/></radialGradient>
<circle cx="290.8" cy="238.0" r="5.8" fill="url(#sg22)"/>
<radialGradient id="sg23"><stop offset="0.000" stop-color="rgb(255, 255, 40)" stop-opacity="1.00"/><stop offset="0.083" stop-color="rgb(255, 255, 40)" stop-opacity="1.00"/><stop offset="0.167" stop-color="rgb(255, 240, 14)" stop-opacity="1.00"/><stop offset="0.250" stop-color="rgb(254, 187, 15)" stop-opacity="1.00"/><stop offset="0.333" stop-color="rgb(237, 122, 24)" stop-opacity="1.00"/><stop offset="0.417" stop-color="rgb(197, 86, 14)" stop-opacity="1.00"/><stop offset="0.500" stop-color="rgb(137, 60, 7)" stop-opacity="1.00"/><stop offset="0.583" stop-color="rgb(91, 39, 3)" stop-opacity="1.00"/><stop offset="0.667" stop-color="rgb(57, 24, 0)" stop-opacity="1.00"/><stop offset="0.750" stop-color="rgb(33, 14, 0)" stop-opacity="1.00"/><stop offset="0.833" stop-color="rgb(18, 8, 0)" stop-opacity="1.00"/><stop offset="0.917" stop-color="rgb(10, 4, 0)" stop-opacity="1.00"/><stop offset="1.000" stop-color="rgb(5, 2, 0)" stop-opacity="1.00"/></radialGradient>
<circle cx="290.8" cy="257.5" r="6.0" fill="url(#sg23)"/>
<circle cx="290.8" cy="277.0" r="5.8" fill="url(#sg22)"/>
<circle cx="290.8" cy="296.5" r="5.2" fill="url(#sg21)"/>
<circle cx="290.8" cy="316.0" r="5.8" fill="url(#sg19)"/>
<circle cx="290.8" cy="335.5" r="5.2" fill="url(#sg2)"/>
<circle cx="290.8" cy="355.0" r="5.2" fill="url(#sg16)"/>
<circle cx="307.7" cy="169.8" r="5.2" fill="url(#sg1)"/>
<circle cx="307.7" cy="189.2" r="5.2" fill="url(#sg18)"/>
<circle cx="307.7" cy="208.8" r="5.2" fill="url(#sg21)"/>
<circle cx="307.7" cy="228.2" r="6.0" fill="url(#sg23)"/>
<radialGradient id="sg24"><stop offset="0.000" stop-color="rgb(217, 102, 18)" stop-opacity="1.00"/><stop offset="0.083" stop-color="rgb(213, 98, 17)" stop-opacity="1.00"/><stop offset="0.167" stop-color="rgb(199, 87, 14)" stop-opacity="1.00"/><stop offset="0.250" stop-color="rgb(169, 74, 11)" stop-opacity="1.00"/><stop offset="0.333" stop-color="rgb(134, 58, 7)" stop-opacity="1.00"/><stop offset="0.417" stop-color="rgb(101, 43, 3)" stop-opacity="1.00"/><stop offset="0.500" stop-color="rgb(71, 30, 1)" stop-opacity="1.00"/><stop offset="0.583" stop-color="rgb(48, 20, 0)" stop-opacity="1.00"/><stop offset="0.667" stop-color="rgb(30, 12, 0)" stop-opacity="1.00"/><stop offset="0.750" stop-color="rgb(18, 7, 0)" stop-opacity="1.00"/><stop offset="0.833" stop-color="rgb(10, 4, 0)" stop-opacity="1.00"/><stop offset="0.917" stop-color="rgb(5, 2, 0)" stop-opacity="1.00"/><stop offset="1.000" stop-color="rgb(2, 1, 0)" stop-opacity="1.00"/></radialGradient>
<circle cx="307.7" cy="247.8" r="5.8" fill="url(#sg24)"/>
<circle cx="307.7" cy="267.2" r="5.8" fill="url(#sg24)"/>
<circle cx="307.7" cy="286.8" r="6.0" fill="url(#sg23)"/>
<circle cx="307.7" cy="306.2" r="5.2" fill="url(#sg21)"/>
<circle cx="307.7" cy="325.8" r="5.2" fill="url(#sg18)"/>
<circle cx="307.7" cy="345.2" r="5.2" fill="url(#sg1)"/>
<circle cx="324.6" cy="160.0" r="5.2" fill="url(#sg16)"/>
<circle cx="324.6" cy="179.5" r="5.2" fill="url(#sg17)"/>
<circle cx="324.6" cy="199.0" r="5.8" fill="url(#sg20)"/>
<circle cx="324.6" cy="218.5" r="5.8" fill="url(#sg22)"/>
<circle cx="324.6" cy="238.0" r="5.8" fill="url(#sg24)"/>
<circle cx="324.6" cy="277.0" r="5.8" fill="url(#sg24)"/>
<circle cx="324.6" cy="296.5" r="5.8" fill="url(#sg22)"/>
<circle cx="324.6" cy="316.0" r="5.8" fill="url(#sg20)"/>
<circle cx="324.6" cy="335.5" r="5.2" fill="url(#sg17)"/>
<circle cx="324.6" cy="355.0" r="5.2" fill="url(#sg16)"/>
<circle cx="341.5" cy="169.8" r="5.2" fill="url(#sg1)"/>
<circle cx="341.5" cy="189.2" r="5.2" fill="url(#sg18)"/>
<circle cx="341.5" cy="208.8" r="5.2" fill="url(#sg21)"/>
<circle cx="341.5" cy="228.2" r="6.0" fill="url(#sg23)"/>
<circle cx="341.5" cy="247.8" r="5.8" fill="url(#sg24)"/>
<circle cx="341.5" cy="267.2" r="5.8" fill="url(#sg24)"/>
<circle cx="341.5" cy="286.8" r="6.0" fill="url(#sg23)"/>
<circle cx="341.5" cy="306.2" r="5.2" fill="url(#sg21)"/>
<circle cx="341.5" cy="325.8" r="5.2" fill="url(#sg18)"/>
<circle cx="341.5" cy="345.2" r="5.2" fill="url(#sg1)"/>
<circle cx="358.4" cy="160.0" r="5.2" fill="url(#sg16)"/>
<circle cx="358.4" cy="179.5" r="5.2" fill="url(#sg2)"/>
<circle cx="358.4" cy="199.0" r="5.8" fill="url(#sg19)"/>
<circle cx="358.4" cy="218.5" r="5.2" fill="url(#sg21)"/>
<circle cx="358.4" cy="238.0" r="5.8" fill="url(#sg22)"/>
<circle cx="358.4" cy="257.5" r="6.0" fill="url(#sg23)"/>
<circle cx="358.4" cy="277.0" r="5.8" fill="url(#sg22)"/>
<circle cx="358.4" cy="296.5" r="5.2" fill="url(#sg21)"/>
<circle cx="358.4" cy="316.0" r="5.8" fill="url(#sg19)"/>
<circle cx="358.4" cy="335.5" r="5.2" fill="url(#sg2)"/>
<circle cx="358.4" cy="355.0" r="5.2" fill="url(#sg16)"/>
<circle cx="375.3" cy="169.8" r="5.2" fill="url(#sg16)"/>
<circle cx="375.3" cy="189.2" r="5.2" fill="url(#sg2)"/>
<circle cx="375.3" cy="208.8" r="5.2" fill="url(#sg18)"/>
<circle cx="375.3" cy="228.2" r="5.8" fill="url(#sg20)"/>
<circle cx="375.3" cy="247.8" r="5.2" fill="url(#sg21)"/>
<circle cx="375.3" cy="267.2" r="5.2" fill="url(#sg21)"/>
<circle cx="375.3" cy="286.8" r="5.8" fill="url(#sg20)"/>
<circle cx="375.3" cy="306.2" r="5.2" fill="url(#sg18)"/>
<circle cx="375.3" cy="325.8" r="5.2" fill="url(#sg2)"/>
<circle cx="375.3" cy="345.2" r="5.2" fill="url(#sg16)"/>
<circle cx="392.2" cy="160.0" r="5.2" fill="url(#sg15)"/>
<circle cx="392.2" cy="179.5" r="5.2" fill="url(#sg16)"/>
<circle cx="392.2" cy="199.0" r="5.2" fill="url(#sg1)"/>
<circle cx="392.2" cy="218.5" r="5.2" fill="url(#sg17)"/>
<circle cx="392.2" cy="238.0" r="5.2" fill="url(#sg18)"/>
<circle cx="392.2" cy="257.5" r="5.8" fill="url(#sg19)"/>
<circle cx="392.2" cy="277.0" r="5.2" fill="url(#sg18)"/>
<circle cx="392.2" cy="296.5" r="5.2" fill="url(#sg17)"/>
<circle cx="392.2" cy="316.0" r="5.2" fill="url(#sg1)"/>
<circle cx="392.2" cy="335.5" r="5.2" fill="url(#sg16)"/>
<circle cx="392.2" cy="355.0" r="5.2" fill="url(#sg15)"/>
<circle cx="409.1" cy="169.8" r="5.2" fill="url(#sg15)"/>
<circle cx="409.1" cy="189.2" r="5.2" fill="url(#sg16)"/>
<circle cx="409.1" cy="208.8" r="5.2" fill="url(#sg16)"/>
<circle cx="409.1" cy="228.2" r="5.2" fill="url(#sg1)"/>
<circle cx="409.1" cy="247.8" r="5.2" fill="url(#sg2)"/>
<circle cx="409.1" cy="267.2" r="5.2" fill="url(#sg2)"/>
<circle cx="409.1" cy="286.8" r="5.2" fill="url(#sg1)"/>
<circle cx="409.1" cy="306.2" r="5.2" fill="url(#sg16)"/>
<circle cx="409.1" cy="325.8" r="5.2" fill="url(#sg16)"/>
<circle cx="409.1" cy="345.2" r="5.2" fill="url(#sg15)"/>
<circle cx="426.0" cy="160.0" r="5.2" fill="url(#sg14)"/>
<circle cx="426.0" cy="179.5" r="5.2" fill="url(#sg15)"/>
<circle cx="426.0" cy="199.0" r="5.2" fill="url(#sg15)"/>
<circle cx="426.0" cy="218.5" r="5.2" fill="url(#sg16)"/>
<circle cx="426.0" cy="238.0" r="5.2" fill="url(#sg16)"/>
<circle cx="426.0" cy="257.5" r="5.2" fill="url(#sg16)"/>
<circle cx="426.0" cy="277.0" r="5.2" fill="url(#sg16)"/>
<circle cx="426.0" cy="296.5" r="5.2" fill="url(#sg16)"/>
<circle cx="426.0" cy="316.0" r="5.2" fill="url(#sg15)"/>
<circle cx="426.0" cy="335.5" r="5.2" fill="url(#sg15)"/>
<circle cx="426.0" cy="355.0" r="5.2" fill="url(#sg14)"/>
</g></g>
<text x="247.7" y="195.3" font-family='"Liberation Sans", sans-serif' font-size="17" font-weight="bold" fill="#fff">d</text>
<text x="326.5" y="185.5" font-family='"Liberation Sans", sans-serif' font-size="11" font-weight="bold" fill="#000" stroke="#fff" stroke-width="1.8" stroke-linejoin="round" paint-order="stroke" text-anchor="start" textLength="78" lengthAdjust="spacingAndGlyphs">2.8MeV, 200nm</text>
<text x="350.7" y="227.0" font-family='"Liberation Sans", sans-serif' font-size="10" font-weight="bold" fill="#000" stroke="#fff" stroke-width="1.8" stroke-linejoin="round" paint-order="stroke" text-anchor="start" textLength="18.5" lengthAdjust="spacingAndGlyphs">010</text>
<text x="376" y="246.0" font-family='"Liberation Sans", sans-serif' font-size="10" font-weight="bold" fill="#000" stroke="#fff" stroke-width="1.8" stroke-linejoin="round" paint-order="stroke" text-anchor="start" textLength="19" lengthAdjust="spacingAndGlyphs">110</text>
<text x="348" y="295.5" font-family='"Liberation Sans", sans-serif' font-size="10" font-weight="bold" fill="#000" stroke="#fff" stroke-width="1.8" stroke-linejoin="round" paint-order="stroke" text-anchor="start" textLength="18.3" lengthAdjust="spacingAndGlyphs">100</text>
<text x="380.4" y="314.2" font-family='"Liberation Sans", sans-serif' font-size="10" font-weight="bold" fill="#000" stroke="#fff" stroke-width="1.8" stroke-linejoin="round" paint-order="stroke" text-anchor="start" textLength="17.6" lengthAdjust="spacingAndGlyphs">300</text>
<line x1="351.2" y1="231.1" x2="345.9" y2="241.4" stroke="#fff" stroke-width="3.2" stroke-linecap="round"/>
<polygon points="343.9,245.4 343.6,240.2 348.3,242.6" fill="#000" stroke="#fff" stroke-width="1.2" stroke-linejoin="round"/>
<line x1="351.2" y1="231.1" x2="345.9" y2="241.4" stroke="#000" stroke-width="1.3"/>
<polygon points="343.9,245.4 343.6,240.2 348.3,242.6" fill="#000"/>
<line x1="373.3" y1="245.4" x2="365.2" y2="252.6" stroke="#fff" stroke-width="3.2" stroke-linecap="round"/>
<polygon points="361.8,255.6 363.4,250.7 366.9,254.6" fill="#000" stroke="#fff" stroke-width="1.2" stroke-linejoin="round"/>
<line x1="373.3" y1="245.4" x2="365.2" y2="252.6" stroke="#000" stroke-width="1.3"/>
<polygon points="361.8,255.6 363.4,250.7 366.9,254.6" fill="#000"/>
<line x1="347.3" y1="283.2" x2="344.7" y2="276.9" stroke="#fff" stroke-width="3.2" stroke-linecap="round"/>
<polygon points="342.9,272.8 347.0,275.9 342.3,278.0" fill="#000" stroke="#fff" stroke-width="1.2" stroke-linejoin="round"/>
<line x1="347.3" y1="283.2" x2="344.7" y2="276.9" stroke="#000" stroke-width="1.3"/>
<polygon points="342.9,272.8 347.0,275.9 342.3,278.0" fill="#000"/>
<line x1="380.4" y1="301.4" x2="377.7" y2="295.1" stroke="#fff" stroke-width="3.2" stroke-linecap="round"/>
<polygon points="375.9,291.0 380.1,294.1 375.3,296.2" fill="#000" stroke="#fff" stroke-width="1.2" stroke-linejoin="round"/>
<line x1="380.4" y1="301.4" x2="377.7" y2="295.1" stroke="#000" stroke-width="1.3"/>
<polygon points="375.9,291.0 380.1,294.1 375.3,296.2" fill="#000"/>
<linearGradient id="cbar" x1="0" y1="1" x2="0" y2="0"><stop offset="0.00" stop-color="rgb(0, 0, 0)"/><stop offset="0.10" stop-color="rgb(40, 17, 0)"/><stop offset="0.20" stop-color="rgb(80, 34, 2)"/><stop offset="0.30" stop-color="rgb(120, 52, 5)"/><stop offset="0.40" stop-color="rgb(162, 71, 10)"/><stop offset="0.50" stop-color="rgb(205, 90, 15)"/><stop offset="0.60" stop-color="rgb(228, 113, 22)"/><stop offset="0.70" stop-color="rgb(245, 147, 22)"/><stop offset="0.80" stop-color="rgb(255, 190, 15)"/><stop offset="0.90" stop-color="rgb(255, 235, 5)"/><stop offset="1.00" stop-color="rgb(255, 255, 40)"/></linearGradient>
<rect x="417.2" y="67.4" width="8.8" height="68.3" fill="url(#cbar)"/>
<text transform="translate(426.3,62.2) rotate(-90)" font-family='"Liberation Sans", sans-serif' font-size="10" fill="#222" textLength="28" lengthAdjust="spacingAndGlyphs">0.001</text>
<text transform="translate(426.3,146.8) rotate(-90)" font-family='"Liberation Sans", sans-serif' font-size="10" fill="#222">0</text>
<clipPath id="clipe"><rect x="434.8" y="0.0" width="167.7" height="169.2"/></clipPath>
<radialGradient id="bge" gradientUnits="userSpaceOnUse" cx="516.8" cy="86.3" r="115"><stop offset="0" stop-color="#8c4a06"/><stop offset="0.12" stop-color="#7c4206"/><stop offset="0.28" stop-color="#5a2e08"/><stop offset="0.45" stop-color="#361a06"/><stop offset="0.7" stop-color="#201006"/><stop offset="1" stop-color="#180b04"/></radialGradient>
<g clip-path="url(#clipe)">
<rect x="434.8" y="0.0" width="167.7" height="169.2" fill="url(#bge)"/>
<g filter="url(#blr)" style="mix-blend-mode:screen">
<radialGradient id="sg25"><stop offset="0.000" stop-color="rgb(128, 56, 6)" stop-opacity="1.00"/><stop offset="0.083" stop-color="rgb(124, 54, 6)" stop-opacity="1.00"/><stop offset="0.167" stop-color="rgb(113, 49, 4)" stop-opacity="1.00"/><stop offset="0.250" stop-color="rgb(97, 41, 3)" stop-opacity="1.00"/><stop offset="0.333" stop-color="rgb(78, 33, 1)" stop-opacity="1.00"/><stop offset="0.417" stop-color="rgb(59, 24, 0)" stop-opacity="1.00"/><stop offset="0.500" stop-color="rgb(42, 17, 0)" stop-opacity="1.00"/><stop offset="0.583" stop-color="rgb(28, 12, 0)" stop-opacity="1.00"/><stop offset="0.667" stop-color="rgb(17, 7, 0)" stop-opacity="1.00"/><stop offset="0.750" stop-color="rgb(10, 4, 0)" stop-opacity="1.00"/><stop offset="0.833" stop-color="rgb(6, 2, 0)" stop-opacity="1.00"/><stop offset="0.917" stop-color="rgb(3, 1, 0)" stop-opacity="1.00"/><stop offset="1.000" stop-color="rgb(1, 1, 0)" stop-opacity="1.00"/></radialGradient>
<circle cx="485.4" cy="64.8" r="5.6" fill="url(#sg25)"/>
<radialGradient id="sg26"><stop offset="0.000" stop-color="rgb(255, 190, 15)" stop-opacity="1.00"/><stop offset="0.083" stop-color="rgb(253, 179, 17)" stop-opacity="1.00"/><stop offset="0.167" stop-color="rgb(246, 149, 21)" stop-opacity="1.00"/><stop offset="0.250" stop-color="rgb(229, 114, 22)" stop-opacity="1.00"/><stop offset="0.333" stop-color="rgb(199, 87, 14)" stop-opacity="1.00"/><stop offset="0.417" stop-color="rgb(148, 65, 8)" stop-opacity="1.00"/><stop offset="0.500" stop-color="rgb(104, 45, 4)" stop-opacity="1.00"/><stop offset="0.583" stop-color="rgb(69, 29, 1)" stop-opacity="1.00"/><stop offset="0.667" stop-color="rgb(43, 18, 0)" stop-opacity="1.00"/><stop offset="0.750" stop-color="rgb(25, 11, 0)" stop-opacity="1.00"/><stop offset="0.833" stop-color="rgb(14, 6, 0)" stop-opacity="1.00"/><stop offset="0.917" stop-color="rgb(7, 3, 0)" stop-opacity="1.00"/><stop offset="1.000" stop-color="rgb(4, 1, 0)" stop-opacity="1.00"/></radialGradient>
<circle cx="485.4" cy="84.3" r="5.6" fill="url(#sg26)"/>
<circle cx="485.4" cy="103.8" r="5.6" fill="url(#sg25)"/>
<circle cx="502.1" cy="55.0" r="5.6" fill="url(#sg26)"/>
<radialGradient id="sg27"><stop offset="0.000" stop-color="rgb(255, 255, 40)" stop-opacity="1.00"/><stop offset="0.083" stop-color="rgb(255, 255, 40)" stop-opacity="1.00"/><stop offset="0.167" stop-color="rgb(255, 255, 40)" stop-opacity="1.00"/><stop offset="0.250" stop-color="rgb(255, 255, 40)" stop-opacity="1.00"/><stop offset="0.333" stop-color="rgb(255, 255, 40)" stop-opacity="1.00"/><stop offset="0.417" stop-color="rgb(255, 255, 40)" stop-opacity="1.00"/><stop offset="0.500" stop-color="rgb(253, 181, 16)" stop-opacity="1.00"/><stop offset="0.583" stop-color="rgb(209, 94, 16)" stop-opacity="1.00"/><stop offset="0.667" stop-color="rgb(131, 57, 6)" stop-opacity="1.00"/><stop offset="0.750" stop-color="rgb(76, 32, 1)" stop-opacity="1.00"/><stop offset="0.833" stop-color="rgb(42, 18, 0)" stop-opacity="1.00"/><stop offset="0.917" stop-color="rgb(22, 9, 0)" stop-opacity="1.00"/><stop offset="1.000" stop-color="rgb(11, 4, 0)" stop-opacity="1.00"/></radialGradient>
<circle cx="502.1" cy="74.5" r="5.7" fill="url(#sg27)"/>
<circle cx="502.1" cy="94.0" r="5.7" fill="url(#sg27)"/>
<circle cx="502.1" cy="113.5" r="5.6" fill="url(#sg26)"/>
<circle cx="518.8" cy="45.3" r="5.6" fill="url(#sg25)"/>
<circle cx="518.8" cy="64.8" r="5.7" fill="url(#sg27)"/>
<circle cx="518.8" cy="103.8" r="5.7" fill="url(#sg27)"/>
<circle cx="518.8" cy="123.3" r="5.6" fill="url(#sg25)"/>
<circle cx="535.5" cy="55.0" r="5.6" fill="url(#sg26)"/>
<circle cx="535.5" cy="74.5" r="5.7" fill="url(#sg27)"/>
<circle cx="535.5" cy="94.0" r="5.7" fill="url(#sg27)"/>
<circle cx="535.5" cy="113.5" r="5.6" fill="url(#sg26)"/>
<circle cx="552.2" cy="64.8" r="5.6" fill="url(#sg25)"/>
<circle cx="552.2" cy="84.3" r="5.6" fill="url(#sg26)"/>
<circle cx="552.2" cy="103.8" r="5.6" fill="url(#sg25)"/>
</g></g>
<radialGradient id="bgi" gradientUnits="userSpaceOnUse" cx="473.3" cy="131.2" r="60"><stop offset="0" stop-color="#20120a"/><stop offset="0.4" stop-color="#1c1008"/><stop offset="1" stop-color="#140a04"/></radialGradient>
<clipPath id="clipi"><rect x="434.8" y="92.6" width="76.5" height="76.6"/></clipPath>
<g clip-path="url(#clipi)">
<rect x="434.8" y="92.6" width="76.5" height="76.6" fill="url(#bgi)"/>
<g style="mix-blend-mode:screen" filter="url(#blr)">
<circle cx="458.3" cy="122.7" r="3.9" fill="url(#sg16)"/>
<radialGradient id="sg28"><stop offset="0.000" stop-color="rgb(60, 25, 0)" stop-opacity="1.00"/><stop offset="0.083" stop-color="rgb(58, 24, 0)" stop-opacity="1.00"/><stop offset="0.167" stop-color="rgb(53, 22, 0)" stop-opacity="1.00"/><stop offset="0.250" stop-color="rgb(45, 19, 0)" stop-opacity="1.00"/><stop offset="0.333" stop-color="rgb(36, 15, 0)" stop-opacity="1.00"/><stop offset="0.417" stop-color="rgb(27, 11, 0)" stop-opacity="1.00"/><stop offset="0.500" stop-color="rgb(19, 8, 0)" stop-opacity="1.00"/><stop offset="0.583" stop-color="rgb(13, 5, 0)" stop-opacity="1.00"/><stop offset="0.667" stop-color="rgb(8, 3, 0)" stop-opacity="1.00"/><stop offset="0.750" stop-color="rgb(5, 2, 0)" stop-opacity="1.00"/><stop offset="0.833" stop-color="rgb(3, 1, 0)" stop-opacity="1.00"/><stop offset="0.917" stop-color="rgb(1, 1, 0)" stop-opacity="1.00"/><stop offset="1.000" stop-color="rgb(1, 0, 0)" stop-opacity="1.00"/></radialGradient>
<circle cx="458.3" cy="131.2" r="3.9" fill="url(#sg28)"/>
<circle cx="458.3" cy="139.7" r="3.9" fill="url(#sg16)"/>
<circle cx="465.8" cy="118.4" r="3.9" fill="url(#sg28)"/>
<radialGradient id="sg29"><stop offset="0.000" stop-color="rgb(92, 39, 3)" stop-opacity="1.00"/><stop offset="0.083" stop-color="rgb(89, 38, 2)" stop-opacity="1.00"/><stop offset="0.167" stop-color="rgb(81, 35, 2)" stop-opacity="1.00"/><stop offset="0.250" stop-color="rgb(69, 29, 1)" stop-opacity="1.00"/><stop offset="0.333" stop-color="rgb(56, 23, 0)" stop-opacity="1.00"/><stop offset="0.417" stop-color="rgb(42, 18, 0)" stop-opacity="1.00"/><stop offset="0.500" stop-color="rgb(30, 12, 0)" stop-opacity="1.00"/><stop offset="0.583" stop-color="rgb(20, 8, 0)" stop-opacity="1.00"/><stop offset="0.667" stop-color="rgb(12, 5, 0)" stop-opacity="1.00"/><stop offset="0.750" stop-color="rgb(7, 3, 0)" stop-opacity="1.00"/><stop offset="0.833" stop-color="rgb(4, 2, 0)" stop-opacity="1.00"/><stop offset="0.917" stop-color="rgb(2, 1, 0)" stop-opacity="1.00"/><stop offset="1.000" stop-color="rgb(1, 0, 0)" stop-opacity="1.00"/></radialGradient>
<circle cx="465.8" cy="126.9" r="3.9" fill="url(#sg29)"/>
<circle cx="465.8" cy="135.4" r="3.9" fill="url(#sg29)"/>
<circle cx="465.8" cy="143.9" r="3.9" fill="url(#sg28)"/>
<circle cx="473.3" cy="114.2" r="3.9" fill="url(#sg16)"/>
<circle cx="473.3" cy="122.7" r="3.9" fill="url(#sg29)"/>
<circle cx="473.3" cy="139.7" r="3.9" fill="url(#sg29)"/>
<circle cx="473.3" cy="148.2" r="3.9" fill="url(#sg16)"/>
<circle cx="480.8" cy="118.4" r="3.9" fill="url(#sg28)"/>
<circle cx="480.8" cy="126.9" r="3.9" fill="url(#sg29)"/>
<circle cx="480.8" cy="135.4" r="3.9" fill="url(#sg29)"/>
<circle cx="480.8" cy="143.9" r="3.9" fill="url(#sg28)"/>
<circle cx="488.3" cy="122.7" r="3.9" fill="url(#sg16)"/>
<circle cx="488.3" cy="131.2" r="3.9" fill="url(#sg28)"/>
<circle cx="488.3" cy="139.7" r="3.9" fill="url(#sg16)"/>
</g></g>
<rect x="434.8" y="92.6" width="76.5" height="76.6" fill="none" stroke="#ddd" stroke-width="1"/>
<line x1="518.0999999999999" y1="84.5" x2="602.5" y2="84.5" stroke="#f0f0f0" stroke-width="3.0" stroke-dasharray="3,4.2" stroke-linecap="round"/>
<line x1="518.0999999999999" y1="84.5" x2="602.5" y2="84.5" stroke="#f03838" stroke-width="1.5" stroke-dasharray="2.8,4.4" stroke-dashoffset="-0.1" stroke-linecap="round"/>
<line x1="518.0999999999999" y1="84.5" x2="602.5" y2="133.0" stroke="#f0f0f0" stroke-width="3.0" stroke-dasharray="3,4.2" stroke-linecap="round"/>
<line x1="518.0999999999999" y1="84.5" x2="602.5" y2="133.0" stroke="#2838ff" stroke-width="1.5" stroke-dasharray="2.8,4.4" stroke-dashoffset="-0.1" stroke-linecap="round"/>
<text x="443.4" y="20.0" font-family='"Liberation Sans", sans-serif' font-size="17.5" font-weight="bold" fill="#fff">e</text>
<text x="539.6" y="12.2" font-family='"Liberation Sans", sans-serif' font-size="10.5" font-weight="bold" fill="#000" stroke="#fff" stroke-width="1.8" stroke-linejoin="round" paint-order="stroke" text-anchor="start" textLength="56.6" lengthAdjust="spacingAndGlyphs">50kV, 70nm</text>
<text x="441.7" y="103.3" font-family='"Liberation Sans", sans-serif' font-size="10.5" font-weight="bold" fill="#000" stroke="#fff" stroke-width="1.8" stroke-linejoin="round" paint-order="stroke" text-anchor="start" textLength="62.2" lengthAdjust="spacingAndGlyphs">50kV, 200nm</text>
<text x="545.9" y="53.6" font-family='"Liberation Sans", sans-serif' font-size="10" font-weight="bold" fill="#000" stroke="#fff" stroke-width="1.8" stroke-linejoin="round" paint-order="stroke" text-anchor="start" textLength="17.7" lengthAdjust="spacingAndGlyphs">010</text>
<text x="569.3" y="72.8" font-family='"Liberation Sans", sans-serif' font-size="10" font-weight="bold" fill="#000" stroke="#fff" stroke-width="1.8" stroke-linejoin="round" paint-order="stroke" text-anchor="start" textLength="18" lengthAdjust="spacingAndGlyphs">110</text>
<text x="541.5" y="119.9" font-family='"Liberation Sans", sans-serif' font-size="10" font-weight="bold" fill="#000" stroke="#fff" stroke-width="1.8" stroke-linejoin="round" paint-order="stroke" text-anchor="start" textLength="17.5" lengthAdjust="spacingAndGlyphs">100</text>
<line x1="544.6" y1="58.2" x2="540.1" y2="68.2" stroke="#fff" stroke-width="3.2" stroke-linecap="round"/>
<polygon points="538.2,72.3 537.7,67.1 542.4,69.3" fill="#000" stroke="#fff" stroke-width="1.2" stroke-linejoin="round"/>
<line x1="544.6" y1="58.2" x2="540.1" y2="68.2" stroke="#000" stroke-width="1.3"/>
<polygon points="538.2,72.3 537.7,67.1 542.4,69.3" fill="#000"/>
<line x1="565.4" y1="72.5" x2="558.5" y2="78.9" stroke="#fff" stroke-width="3.2" stroke-linecap="round"/>
<polygon points="555.2,81.9 556.7,76.9 560.3,80.8" fill="#000" stroke="#fff" stroke-width="1.2" stroke-linejoin="round"/>
<line x1="565.4" y1="72.5" x2="558.5" y2="78.9" stroke="#000" stroke-width="1.3"/>
<polygon points="555.2,81.9 556.7,76.9 560.3,80.8" fill="#000"/>
<line x1="540.7" y1="108.2" x2="538.6" y2="102.8" stroke="#fff" stroke-width="3.2" stroke-linecap="round"/>
<polygon points="536.9,98.6 541.0,101.8 536.1,103.7" fill="#000" stroke="#fff" stroke-width="1.2" stroke-linejoin="round"/>
<line x1="540.7" y1="108.2" x2="538.6" y2="102.8" stroke="#000" stroke-width="1.3"/>
<polygon points="536.9,98.6 541.0,101.8 536.1,103.7" fill="#000"/>
<clipPath id="clipf"><rect x="442.4" y="176.4" width="160.20000000000005" height="139.6"/></clipPath>
<g clip-path="url(#clipf)" fill="none" stroke-width="1.4" stroke-linejoin="round">
<path d="M442.4,304.6 L442.7,304.4 L443.1,304.3 L443.4,304.2 L443.7,304.0 L444.0,303.9 L444.4,303.8 L444.7,303.6 L445.0,303.5 L445.3,303.3 L445.7,303.2 L446.0,303.1 L446.3,302.9 L446.6,302.8 L447.0,302.7 L447.3,302.5 L447.6,302.4 L448.0,302.3 L448.3,302.1 L448.6,302.0 L448.9,301.9 L449.3,301.8 L449.6,301.6 L449.9,301.5 L450.2,301.4 L450.6,301.3 L450.9,301.1 L451.2,301.0 L451.5,300.9 L451.9,300.8 L452.2,300.7 L452.5,300.6 L452.9,300.4 L453.2,300.3 L453.5,300.2 L453.8,300.1 L454.2,300.0 L454.5,299.9 L454.8,299.8 L455.1,299.7 L455.5,299.6 L455.8,299.5 L456.1,299.4 L456.4,299.3 L456.8,299.2 L457.1,299.1 L457.4,299.0 L457.8,298.9 L458.1,298.8 L458.4,298.8 L458.7,298.7 L459.1,298.6 L459.4,298.5 L459.7,298.4 L460.0,298.4 L460.4,298.3 L460.7,298.2 L461.0,298.2 L461.3,298.1 L461.7,298.0 L462.0,298.0 L462.3,297.9 L462.7,297.9 L463.0,297.8 L463.3,297.8 L463.6,297.7 L464.0,297.7 L464.3,297.6 L464.6,297.6 L464.9,297.6 L465.3,297.5 L465.6,297.5 L465.9,297.5 L466.2,297.4 L466.6,297.4 L466.9,297.4 L467.2,297.4 L467.6,297.4 L467.9,297.4 L468.2,297.3 L468.5,297.3 L468.9,297.3 L469.2,297.3 L469.5,297.3 L469.8,297.2 L470.2,297.2 L470.5,297.2 L470.8,297.2 L471.1,297.2 L471.5,297.1 L471.8,297.1 L472.1,297.1 L472.5,297.0 L472.8,297.0 L473.1,297.0 L473.4,296.9 L473.8,296.9 L474.1,296.9 L474.4,296.8 L474.7,296.8 L475.1,296.7 L475.4,296.6 L475.7,296.6 L476.0,296.5 L476.4,296.4 L476.7,296.3 L477.0,296.1 L477.4,296.0 L477.7,295.8 L478.0,295.6 L478.3,295.3 L478.7,295.1 L479.0,294.7 L479.3,294.3 L479.6,293.9 L480.0,293.3 L480.3,292.7 L480.6,291.9 L480.9,291.0 L481.3,290.0 L481.6,288.7 L481.9,287.2 L482.3,285.3 L482.6,283.2 L482.9,280.6 L483.2,277.5 L483.6,273.9 L483.9,269.6 L484.2,264.5 L484.5,258.4 L484.8,253.3 L484.8,251.8 L484.9,251.3 L484.9,250.2 L485.0,248.6 L485.0,247.0 L485.1,245.3 L485.2,243.5 L485.2,243.0 L485.2,241.7 L485.3,239.8 L485.4,237.9 L485.4,235.9 L485.5,233.9 L485.5,233.4 L485.6,231.8 L485.6,229.7 L485.7,227.4 L485.8,225.1 L485.8,222.8 L485.8,222.2 L485.9,220.4 L486.0,217.9 L486.0,215.4 L486.1,212.7 L486.2,210.1 L486.2,209.4 L486.2,207.3 L486.3,204.5 L486.4,201.6 L486.4,198.6 L486.5,195.6 L486.5,194.9 L486.5,192.5 L486.6,189.3 L486.7,186.1 L486.7,182.7 L486.8,179.3 L486.8,178.6 L486.9,175.9 L486.9,172.3 L487.0,168.7 L487.1,165.1 L487.1,161.3 L487.2,160.6 L487.2,157.5 L487.3,153.6 L487.3,149.7 L487.4,145.7 L487.5,141.6 L487.5,140.9 L487.5,137.5 L487.6,133.3 L487.7,129.1 L487.7,124.8 L487.8,120.9 L487.8,120.9 L487.9,120.9 L487.9,120.9 L488.0,120.9 L488.1,120.9 L488.1,120.9 L488.1,120.9 L488.2,120.9 L488.3,120.9 L488.3,120.9 L488.4,120.9 L488.4,120.9 L488.5,120.9 L488.5,120.9 L488.6,120.9 L488.6,120.9 L488.7,120.9 L488.8,120.9 L488.8,120.9 L488.8,120.9 L488.9,120.9 L489.0,120.9 L489.0,120.9 L489.1,120.9 L489.1,120.9 L489.2,120.9 L489.2,120.9 L489.3,120.9 L489.4,120.9 L489.4,120.9 L489.4,120.9 L489.5,120.9 L489.6,120.9 L489.6,120.9 L489.7,120.9 L489.8,120.9 L489.8,120.9 L489.8,120.9 L489.9,120.9 L490.0,120.9 L490.0,120.9 L490.1,120.9 L490.1,120.9 L490.2,120.9 L490.2,120.9 L490.3,120.9 L490.3,120.9 L490.4,120.9 L490.4,120.9 L490.5,120.9 L490.5,120.9 L490.6,120.9 L490.7,120.9 L490.7,120.9 L490.7,120.9 L490.8,120.9 L490.9,120.9 L490.9,120.9 L491.0,120.9 L491.1,120.9 L491.1,120.9 L491.1,120.9 L491.2,120.9 L491.3,120.9 L491.3,120.9 L491.4,120.9 L491.4,120.9 L491.5,120.9 L491.5,120.9 L491.6,120.9 L491.7,120.9 L491.7,120.9 L491.7,120.9 L491.8,120.9 L491.9,120.9 L491.9,120.9 L492.0,120.9 L492.1,120.9 L492.1,120.9 L492.1,120.9 L492.2,120.9 L492.3,120.9 L492.3,120.9 L492.4,120.9 L492.4,120.9 L492.4,120.9 L492.5,120.9 L492.6,120.9 L492.6,120.9 L492.7,120.9 L492.7,120.9 L492.8,120.9 L492.8,120.9 L492.9,120.9 L493.0,120.9 L493.0,120.9 L493.0,120.9 L493.1,120.9 L493.2,120.9 L493.2,120.9 L493.3,120.9 L493.4,120.9 L493.4,120.9 L493.4,120.9 L493.5,120.9 L493.6,120.9 L493.6,120.9 L493.7,120.9 L493.7,120.9 L493.8,120.9 L493.8,120.9 L493.9,120.9 L494.0,120.9 L494.0,120.9 L494.0,120.9 L494.1,120.9 L494.2,120.9 L494.2,124.9 L494.3,129.2 L494.3,132.9 L494.3,133.5 L494.4,137.7 L494.5,141.8 L494.5,145.9 L494.6,149.9 L494.7,153.3 L494.7,153.9 L494.7,157.8 L494.8,161.6 L494.9,165.4 L494.9,169.1 L495.0,172.1 L495.0,172.7 L495.1,176.2 L495.1,179.7 L495.2,183.1 L495.3,186.5 L495.3,189.2 L495.3,189.8 L495.4,193.0 L495.5,196.1 L495.5,199.1 L495.6,202.1 L495.6,204.5 L495.7,205.0 L495.7,207.9 L495.8,210.7 L495.9,213.4 L495.9,216.0 L496.0,218.0 L496.0,218.6 L496.1,221.1 L496.1,223.5 L496.2,225.9 L496.2,228.2 L496.3,229.9 L496.3,230.4 L496.4,232.6 L496.4,234.8 L496.5,236.8 L496.6,238.8 L496.6,240.3 L496.6,240.8 L496.7,242.7 L496.8,244.5 L496.8,246.3 L496.9,248.0 L497.0,249.2 L497.0,249.7 L497.0,251.3 L497.1,252.9 L497.2,254.4 L497.2,255.9 L497.3,256.9 L497.3,257.3 L497.4,258.7 L497.4,260.1 L497.5,261.4 L497.6,262.6 L497.6,263.5 L497.6,263.9 L497.7,265.1 L497.8,266.2 L497.8,267.3 L497.9,269.1 L498.3,273.9 L498.6,277.9 L498.9,281.4 L499.2,284.3 L499.6,286.8 L499.9,288.9 L500.2,290.7 L500.5,292.2 L500.9,293.5 L501.2,294.6 L501.5,295.6 L501.9,296.5 L502.2,297.2 L502.5,297.9 L502.8,298.5 L503.2,299.0 L503.5,299.5 L503.8,300.0 L504.1,300.3 L504.5,300.7 L504.8,301.1 L505.1,301.4 L505.4,301.7 L505.8,302.0 L506.1,302.2 L506.4,302.5 L506.8,302.7 L507.1,303.0 L507.4,303.2 L507.7,303.4 L508.1,303.7 L508.4,303.9 L508.7,304.1 L509.0,304.3 L509.4,304.5 L509.7,304.6 L510.0,304.8 L510.3,305.0 L510.7,305.2 L511.0,305.3 L511.3,305.5 L511.7,305.6 L512.0,305.8 L512.3,305.9 L512.6,306.1 L513.0,306.2 L513.3,306.3 L513.6,306.4 L513.9,306.5 L514.3,306.7 L514.6,306.8 L514.9,306.8 L515.2,306.9 L515.6,307.0 L515.9,307.1 L516.2,307.1 L516.6,307.2 L516.9,307.3 L517.2,307.4 L517.5,307.4 L517.9,307.5 L518.2,307.6 L518.5,307.6 L518.8,307.7 L519.2,307.8 L519.5,307.8 L519.8,307.9 L520.1,307.9 L520.5,308.0 L520.8,308.1 L521.1,308.1 L521.5,308.2 L521.8,308.3 L522.1,308.3 L522.4,308.4 L522.8,308.4 L523.1,308.5 L523.4,308.6 L523.7,308.6 L524.1,308.7 L524.4,308.7 L524.7,308.8 L525.0,308.8 L525.4,308.9 L525.7,308.9 L526.0,309.0 L526.3,309.0 L526.7,309.1 L527.0,309.1 L527.3,309.2 L527.7,309.2 L528.0,309.3 L528.3,309.3 L528.6,309.3 L529.0,309.4 L529.3,309.4 L529.6,309.4 L529.9,309.5 L530.3,309.5 L530.6,309.5 L530.9,309.6 L531.2,309.6 L531.6,309.6 L531.9,309.6 L532.2,309.6 L532.6,309.6 L532.9,309.6 L533.2,309.6 L533.5,309.6 L533.9,309.5 L534.2,309.5 L534.5,309.3 L534.8,309.2 L535.2,308.9 L535.5,308.6 L535.8,308.1 L536.1,307.5 L536.5,306.7 L536.8,305.7 L537.1,304.6 L537.5,303.3 L537.8,301.8 L538.1,300.3 L538.4,298.7 L538.8,297.3 L539.1,296.1 L539.4,295.2 L539.7,294.8 L540.1,295.0 L540.4,295.7 L540.7,296.8 L541.0,298.2 L541.4,299.7 L541.7,301.3 L542.0,302.8 L542.4,304.2 L542.7,305.5 L543.0,306.6 L543.3,307.4 L543.7,308.2 L544.0,308.7 L544.3,309.1 L544.6,309.5 L545.0,309.7 L545.3,309.9 L545.6,310.0 L545.9,310.1 L546.3,310.2 L546.6,310.2 L546.9,310.3 L547.3,310.3 L547.6,310.4 L547.9,310.4 L548.2,310.4 L548.6,310.4 L548.9,310.5 L549.2,310.5 L549.5,310.5 L549.9,310.5 L550.2,310.5 L550.5,310.6 L550.8,310.6 L551.2,310.6 L551.5,310.6 L551.8,310.6 L552.2,310.6 L552.5,310.7 L552.8,310.7 L553.1,310.7 L553.5,310.7 L553.8,310.7 L554.1,310.7 L554.4,310.7 L554.8,310.7 L555.1,310.7 L555.4,310.7 L555.7,310.8 L556.1,310.8 L556.4,310.8 L556.7,310.8 L557.1,310.8 L557.4,310.8 L557.7,310.8 L558.0,310.8 L558.4,310.8 L558.7,310.8 L559.0,310.8 L559.3,310.8 L559.7,310.8 L560.0,310.8 L560.3,310.9 L560.6,310.9 L561.0,310.9 L561.3,310.9 L561.6,310.9 L562.0,310.9 L562.3,310.9 L562.6,310.9 L562.9,310.9 L563.3,310.9 L563.6,310.9 L563.9,310.9 L564.2,310.9 L564.6,310.9 L564.9,310.9 L565.2,310.9 L565.5,310.9 L565.9,310.9 L566.2,310.9 L566.5,310.9 L566.9,311.0 L567.2,311.0 L567.5,311.0 L567.8,311.0 L568.2,311.0 L568.5,311.0 L568.8,311.0 L569.1,311.0 L569.5,311.0 L569.8,311.0 L570.1,311.0 L570.4,311.0 L570.8,311.0 L571.1,311.0 L571.4,311.0 L571.8,311.0 L572.1,311.0 L572.4,311.0 L572.7,311.0 L573.1,311.0 L573.4,311.0 L573.7,311.0 L574.0,311.0 L574.4,311.0 L574.7,311.0 L575.0,311.0 L575.3,311.1 L575.7,311.1 L576.0,311.1 L576.3,311.1 L576.7,311.1 L577.0,311.1 L577.3,311.1 L577.6,311.1 L578.0,311.1 L578.3,311.1 L578.6,311.1 L578.9,311.1 L579.3,311.1 L579.6,311.1 L579.9,311.1 L580.2,311.1 L580.6,311.1 L580.9,311.1 L581.2,311.1 L581.6,311.1 L581.9,311.1 L582.2,311.1 L582.5,311.1 L582.9,311.1 L583.2,311.1 L583.5,311.1 L583.8,311.1 L584.2,311.1 L584.5,311.1 L584.8,311.1 L585.1,311.1 L585.5,311.1 L585.8,311.1 L586.1,311.1 L586.5,311.1 L586.8,311.1 L587.1,311.1 L587.4,311.1 L587.8,311.1 L588.1,311.1 L588.4,311.1 L588.7,311.1 L589.1,311.1 L589.4,311.1 L589.7,311.1 L590.0,311.2 L590.4,311.2 L590.7,311.2 L591.0,311.2 L591.4,311.2 L591.7,311.2 L592.0,311.2 L592.3,311.2 L592.7,311.2 L593.0,311.2 L593.3,311.2 L593.6,311.2 L594.0,311.2 L594.3,311.2 L594.6,311.2 L594.9,311.2 L595.3,311.2 L595.6,311.2 L595.9,311.2 L596.3,311.2 L596.6,311.2 L596.9,311.2 L597.2,311.2 L597.6,311.2 L597.9,311.2 L598.2,311.2 L598.5,311.2 L598.9,311.2 L599.2,311.2 L599.5,311.2 L599.8,311.2 L600.2,311.2 L600.5,311.2 L600.8,311.2 L601.2,311.2 L601.5,311.2 L601.8,311.2 L602.1,311.2 L602.5,311.2 L602.8,311.2 L603.1,311.2 L603.4,311.2 L603.8,311.2 L604.1,311.2 L604.4,311.2 L604.7,311.2 L605.1,311.2 L605.4,311.2" stroke="#ee2222"/>
<path d="M442.4,304.4 L442.7,304.3 L443.1,304.2 L443.4,304.2 L443.7,304.1 L444.0,304.0 L444.4,304.0 L444.7,303.9 L445.0,303.8 L445.3,303.8 L445.7,303.7 L446.0,303.6 L446.3,303.6 L446.6,303.5 L447.0,303.5 L447.3,303.4 L447.6,303.3 L448.0,303.3 L448.3,303.2 L448.6,303.2 L448.9,303.1 L449.3,303.0 L449.6,303.0 L449.9,302.9 L450.2,302.9 L450.6,302.8 L450.9,302.7 L451.2,302.7 L451.5,302.6 L451.9,302.6 L452.2,302.5 L452.5,302.4 L452.9,302.4 L453.2,302.3 L453.5,302.3 L453.8,302.2 L454.2,302.2 L454.5,302.1 L454.8,302.0 L455.1,302.0 L455.5,301.9 L455.8,301.9 L456.1,301.8 L456.4,301.8 L456.8,301.7 L457.1,301.7 L457.4,301.6 L457.8,301.5 L458.1,301.5 L458.4,301.4 L458.7,301.4 L459.1,301.3 L459.4,301.3 L459.7,301.2 L460.0,301.1 L460.4,301.1 L460.7,301.0 L461.0,300.9 L461.3,300.9 L461.7,300.8 L462.0,300.7 L462.3,300.6 L462.7,300.5 L463.0,300.4 L463.3,300.3 L463.6,300.1 L464.0,299.9 L464.3,299.7 L464.6,299.4 L464.9,299.0 L465.3,298.4 L465.6,297.6 L465.9,296.5 L466.2,295.1 L466.6,293.2 L466.9,290.9 L467.2,288.1 L467.6,284.8 L467.9,281.0 L468.2,276.7 L468.5,272.2 L468.9,267.6 L469.2,263.2 L469.5,259.3 L469.8,256.1 L470.2,253.9 L470.5,253.0 L470.8,253.4 L471.1,255.1 L471.5,257.9 L471.8,261.5 L472.1,265.8 L472.5,270.3 L472.8,274.8 L473.1,279.1 L473.4,283.0 L473.8,286.5 L474.1,289.4 L474.4,291.8 L474.7,293.8 L475.1,295.3 L475.4,296.4 L475.7,297.3 L476.0,297.9 L476.4,298.3 L476.7,298.7 L477.0,298.9 L477.4,299.0 L477.7,299.2 L478.0,299.3 L478.3,299.3 L478.7,299.4 L479.0,299.5 L479.3,299.5 L479.6,299.6 L480.0,299.6 L480.3,299.6 L480.6,299.7 L480.9,299.7 L481.3,299.8 L481.6,299.8 L481.9,299.8 L482.3,299.9 L482.6,299.9 L482.9,299.9 L483.2,300.0 L483.6,300.0 L483.9,300.0 L484.2,300.1 L484.5,300.1 L484.8,300.1 L484.8,300.1 L484.9,300.1 L484.9,300.1 L485.0,300.1 L485.0,300.1 L485.1,300.2 L485.2,300.2 L485.2,300.2 L485.2,300.2 L485.3,300.2 L485.4,300.2 L485.4,300.2 L485.5,300.2 L485.5,300.2 L485.6,300.2 L485.6,300.2 L485.7,300.2 L485.8,300.2 L485.8,300.2 L485.8,300.2 L485.9,300.2 L486.0,300.2 L486.0,300.2 L486.1,300.2 L486.2,300.2 L486.2,300.3 L486.2,300.3 L486.3,300.3 L486.4,300.3 L486.4,300.3 L486.5,300.3 L486.5,300.3 L486.5,300.3 L486.6,300.3 L486.7,300.3 L486.7,300.3 L486.8,300.3 L486.8,300.3 L486.9,300.3 L486.9,300.3 L487.0,300.3 L487.1,300.3 L487.1,300.3 L487.2,300.3 L487.2,300.3 L487.3,300.3 L487.3,300.3 L487.4,300.4 L487.5,300.4 L487.5,300.4 L487.5,300.4 L487.6,300.4 L487.7,300.4 L487.7,300.4 L487.8,300.4 L487.8,300.4 L487.9,300.4 L487.9,300.4 L488.0,300.4 L488.1,300.4 L488.1,300.4 L488.1,300.4 L488.2,300.4 L488.3,300.4 L488.3,300.4 L488.4,300.4 L488.4,300.4 L488.5,300.4 L488.5,300.4 L488.6,300.4 L488.6,300.4 L488.7,300.5 L488.8,300.5 L488.8,300.5 L488.8,300.5 L488.9,300.5 L489.0,300.5 L489.0,300.5 L489.1,300.5 L489.1,300.5 L489.2,300.5 L489.2,300.5 L489.3,300.5 L489.4,300.5 L489.4,300.5 L489.4,300.5 L489.5,300.5 L489.6,300.5 L489.6,300.5 L489.7,300.5 L489.8,300.5 L489.8,300.5 L489.8,300.5 L489.9,300.6 L490.0,300.6 L490.0,300.6 L490.1,300.6 L490.1,300.6 L490.2,300.6 L490.2,300.6 L490.3,300.6 L490.3,300.6 L490.4,300.6 L490.4,300.6 L490.5,300.6 L490.5,300.6 L490.6,300.6 L490.7,300.6 L490.7,300.6 L490.7,300.6 L490.8,300.6 L490.9,300.6 L490.9,300.6 L491.0,300.6 L491.1,300.6 L491.1,300.7 L491.1,300.7 L491.2,300.7 L491.3,300.7 L491.3,300.7 L491.4,300.7 L491.4,300.7 L491.5,300.7 L491.5,300.7 L491.6,300.7 L491.7,300.7 L491.7,300.7 L491.7,300.7 L491.8,300.7 L491.9,300.7 L491.9,300.7 L492.0,300.7 L492.1,300.7 L492.1,300.7 L492.1,300.7 L492.2,300.7 L492.3,300.7 L492.3,300.7 L492.4,300.6 L492.4,300.6 L492.4,300.6 L492.5,300.6 L492.6,300.6 L492.6,300.6 L492.7,300.6 L492.7,300.6 L492.8,300.6 L492.8,300.5 L492.9,300.5 L493.0,300.5 L493.0,300.5 L493.0,300.5 L493.1,300.5 L493.2,300.4 L493.2,300.4 L493.3,300.4 L493.4,300.3 L493.4,300.3 L493.4,300.3 L493.5,300.2 L493.6,300.2 L493.6,300.1 L493.7,300.1 L493.7,300.1 L493.8,300.0 L493.8,299.9 L493.9,299.9 L494.0,299.8 L494.0,299.7 L494.0,299.7 L494.1,299.6 L494.2,299.5 L494.2,299.4 L494.3,299.3 L494.3,299.3 L494.3,299.2 L494.4,299.1 L494.5,299.0 L494.5,298.9 L494.6,298.8 L494.7,298.7 L494.7,298.6 L494.7,298.5 L494.8,298.3 L494.9,298.2 L494.9,298.0 L495.0,297.9 L495.0,297.9 L495.1,297.7 L495.1,297.5 L495.2,297.4 L495.3,297.2 L495.3,297.0 L495.3,297.0 L495.4,296.8 L495.5,296.6 L495.5,296.4 L495.6,296.2 L495.6,296.1 L495.7,296.0 L495.7,295.8 L495.8,295.6 L495.9,295.4 L495.9,295.2 L496.0,295.0 L496.0,295.0 L496.1,294.7 L496.1,294.5 L496.2,294.3 L496.2,294.1 L496.3,293.9 L496.3,293.9 L496.4,293.7 L496.4,293.5 L496.5,293.3 L496.6,293.1 L496.6,292.9 L496.6,292.9 L496.7,292.7 L496.8,292.5 L496.8,292.4 L496.9,292.2 L497.0,292.1 L497.0,292.1 L497.0,292.0 L497.1,291.8 L497.2,291.7 L497.2,291.6 L497.3,291.6 L497.3,291.6 L497.4,291.5 L497.4,291.4 L497.5,291.4 L497.6,291.4 L497.6,291.4 L497.6,291.4 L497.7,291.4 L497.8,291.4 L497.8,291.5 L497.9,291.6 L498.3,292.2 L498.6,293.1 L498.9,294.2 L499.2,295.4 L499.6,296.7 L499.9,297.8 L500.2,298.9 L500.5,299.8 L500.9,300.6 L501.2,301.3 L501.5,301.8 L501.9,302.2 L502.2,302.6 L502.5,302.8 L502.8,303.1 L503.2,303.2 L503.5,303.4 L503.8,303.5 L504.1,303.6 L504.5,303.7 L504.8,303.8 L505.1,303.9 L505.4,304.0 L505.8,304.0 L506.1,304.1 L506.4,304.2 L506.8,304.3 L507.1,304.3 L507.4,304.4 L507.7,304.4 L508.1,304.5 L508.4,304.5 L508.7,304.6 L509.0,304.6 L509.4,304.7 L509.7,304.7 L510.0,304.8 L510.3,304.8 L510.7,304.9 L511.0,304.9 L511.3,304.9 L511.7,305.0 L512.0,305.0 L512.3,305.0 L512.6,305.1 L513.0,305.1 L513.3,305.1 L513.6,305.1 L513.9,305.2 L514.3,305.2 L514.6,305.2 L514.9,305.2 L515.2,305.2 L515.6,305.2 L515.9,305.2 L516.2,305.2 L516.6,305.2 L516.9,305.2 L517.2,305.2 L517.5,305.2 L517.9,305.2 L518.2,305.1 L518.5,305.1 L518.8,305.0 L519.2,305.0 L519.5,304.9 L519.8,304.7 L520.1,304.5 L520.5,304.3 L520.8,304.0 L521.1,303.6 L521.5,303.0 L521.8,302.2 L522.1,301.1 L522.4,299.8 L522.8,298.1 L523.1,296.0 L523.4,293.5 L523.7,290.5 L524.1,287.1 L524.4,283.3 L524.7,279.3 L525.0,275.3 L525.4,271.4 L525.7,268.0 L526.0,265.3 L526.3,263.7 L526.7,263.4 L527.0,264.4 L527.3,266.6 L527.7,269.7 L528.0,273.4 L528.3,277.5 L528.6,281.6 L529.0,285.6 L529.3,289.3 L529.6,292.6 L529.9,295.4 L530.3,297.9 L530.6,299.9 L530.9,301.5 L531.2,302.8 L531.6,303.8 L531.9,304.5 L532.2,305.1 L532.6,305.6 L532.9,306.0 L533.2,306.2 L533.5,306.5 L533.9,306.7 L534.2,306.8 L534.5,307.0 L534.8,307.1 L535.2,307.2 L535.5,307.3 L535.8,307.4 L536.1,307.5 L536.5,307.6 L536.8,307.7 L537.1,307.7 L537.5,307.8 L537.8,307.9 L538.1,307.9 L538.4,308.0 L538.8,308.1 L539.1,308.1 L539.4,308.2 L539.7,308.2 L540.1,308.2 L540.4,308.3 L540.7,308.3 L541.0,308.4 L541.4,308.4 L541.7,308.4 L542.0,308.5 L542.4,308.5 L542.7,308.5 L543.0,308.6 L543.3,308.6 L543.7,308.6 L544.0,308.7 L544.3,308.7 L544.6,308.7 L545.0,308.7 L545.3,308.8 L545.6,308.8 L545.9,308.8 L546.3,308.8 L546.6,308.9 L546.9,308.9 L547.3,308.9 L547.6,308.9 L547.9,308.9 L548.2,308.9 L548.6,309.0 L548.9,309.0 L549.2,309.0 L549.5,309.0 L549.9,309.0 L550.2,308.9 L550.5,308.9 L550.8,308.8 L551.2,308.7 L551.5,308.5 L551.8,308.3 L552.2,308.1 L552.5,307.7 L552.8,307.3 L553.1,306.9 L553.5,306.4 L553.8,306.0 L554.1,305.6 L554.4,305.3 L554.8,305.1 L555.1,305.2 L555.4,305.4 L555.7,305.8 L556.1,306.3 L556.4,306.8 L556.7,307.3 L557.1,307.7 L557.4,308.1 L557.7,308.5 L558.0,308.8 L558.4,309.0 L558.7,309.2 L559.0,309.3 L559.3,309.4 L559.7,309.5 L560.0,309.5 L560.3,309.6 L560.6,309.6 L561.0,309.6 L561.3,309.7 L561.6,309.7 L562.0,309.7 L562.3,309.7 L562.6,309.8 L562.9,309.8 L563.3,309.8 L563.6,309.8 L563.9,309.8 L564.2,309.8 L564.6,309.9 L564.9,309.9 L565.2,309.9 L565.5,309.9 L565.9,309.9 L566.2,309.9 L566.5,310.0 L566.9,310.0 L567.2,310.0 L567.5,310.0 L567.8,310.0 L568.2,310.0 L568.5,310.1 L568.8,310.1 L569.1,310.1 L569.5,310.1 L569.8,310.1 L570.1,310.1 L570.4,310.1 L570.8,310.2 L571.1,310.2 L571.4,310.2 L571.8,310.2 L572.1,310.2 L572.4,310.2 L572.7,310.2 L573.1,310.2 L573.4,310.3 L573.7,310.3 L574.0,310.3 L574.4,310.3 L574.7,310.3 L575.0,310.3 L575.3,310.3 L575.7,310.3 L576.0,310.4 L576.3,310.4 L576.7,310.4 L577.0,310.4 L577.3,310.4 L577.6,310.4 L578.0,310.4 L578.3,310.3 L578.6,310.3 L578.9,310.3 L579.3,310.2 L579.6,310.1 L579.9,310.0 L580.2,309.9 L580.6,309.7 L580.9,309.6 L581.2,309.4 L581.6,309.2 L581.9,309.0 L582.2,308.9 L582.5,308.8 L582.9,308.7 L583.2,308.8 L583.5,308.9 L583.8,309.0 L584.2,309.2 L584.5,309.4 L584.8,309.7 L585.1,309.9 L585.5,310.1 L585.8,310.2 L586.1,310.4 L586.5,310.5 L586.8,310.6 L587.1,310.6 L587.4,310.7 L587.8,310.7 L588.1,310.8 L588.4,310.8 L588.7,310.8 L589.1,310.9 L589.4,310.9 L589.7,310.9 L590.0,310.9 L590.4,310.9 L590.7,310.9 L591.0,311.0 L591.4,311.0 L591.7,311.0 L592.0,311.0 L592.3,311.0 L592.7,311.0 L593.0,311.0 L593.3,311.1 L593.6,311.1 L594.0,311.1 L594.3,311.1 L594.6,311.1 L594.9,311.1 L595.3,311.1 L595.6,311.1 L595.9,311.2 L596.3,311.2 L596.6,311.2 L596.9,311.2 L597.2,311.2 L597.6,311.2 L597.9,311.2 L598.2,311.2 L598.5,311.3 L598.9,311.3 L599.2,311.3 L599.5,311.3 L599.8,311.3 L600.2,311.3 L600.5,311.3 L600.8,311.3 L601.2,311.3 L601.5,311.4 L601.8,311.4 L602.1,311.4 L602.5,311.4 L602.8,311.4 L603.1,311.4 L603.4,311.4 L603.8,311.4 L604.1,311.4 L604.4,311.4 L604.7,311.5 L605.1,311.5 L605.4,311.5" stroke="#1414f0"/>
<path d="M442.4,301.8 L442.7,301.7 L443.1,301.5 L443.4,301.3 L443.7,301.2 L444.0,301.0 L444.4,300.8 L444.7,300.6 L445.0,300.5 L445.3,300.3 L445.7,300.1 L446.0,300.0 L446.3,299.8 L446.6,299.7 L447.0,299.5 L447.3,299.3 L447.6,299.2 L448.0,299.0 L448.3,298.9 L448.6,298.7 L448.9,298.6 L449.3,298.4 L449.6,298.3 L449.9,298.2 L450.2,298.0 L450.6,297.9 L450.9,297.7 L451.2,297.6 L451.5,297.5 L451.9,297.4 L452.2,297.2 L452.5,297.1 L452.9,297.0 L453.2,296.9 L453.5,296.8 L453.8,296.7 L454.2,296.6 L454.5,296.5 L454.8,296.4 L455.1,296.3 L455.5,296.2 L455.8,296.1 L456.1,296.0 L456.4,295.9 L456.8,295.8 L457.1,295.8 L457.4,295.7 L457.8,295.6 L458.1,295.6 L458.4,295.5 L458.7,295.5 L459.1,295.4 L459.4,295.4 L459.7,295.3 L460.0,295.3 L460.4,295.3 L460.7,295.3 L461.0,295.2 L461.3,295.2 L461.7,295.2 L462.0,295.2 L462.3,295.2 L462.7,295.2 L463.0,295.2 L463.3,295.2 L463.6,295.2 L464.0,295.2 L464.3,295.2 L464.6,295.2 L464.9,295.2 L465.3,295.2 L465.6,295.1 L465.9,295.1 L466.2,295.1 L466.6,295.1 L466.9,295.1 L467.2,295.1 L467.6,295.1 L467.9,295.1 L468.2,295.1 L468.5,295.1 L468.9,295.1 L469.2,295.1 L469.5,295.1 L469.8,295.0 L470.2,295.0 L470.5,295.0 L470.8,295.0 L471.1,295.0 L471.5,295.0 L471.8,295.0 L472.1,295.0 L472.5,294.9 L472.8,294.9 L473.1,294.9 L473.4,294.9 L473.8,294.9 L474.1,294.8 L474.4,294.8 L474.7,294.8 L475.1,294.8 L475.4,294.8 L475.7,294.7 L476.0,294.7 L476.4,294.7 L476.7,294.7 L477.0,294.7 L477.4,294.6 L477.7,294.6 L478.0,294.6 L478.3,294.6 L478.7,294.6 L479.0,294.5 L479.3,294.5 L479.6,294.5 L480.0,294.5 L480.3,294.4 L480.6,294.4 L480.9,294.3 L481.3,294.2 L481.6,294.2 L481.9,294.0 L482.3,293.9 L482.6,293.7 L482.9,293.5 L483.2,293.2 L483.6,292.8 L483.9,292.3 L484.2,291.7 L484.5,290.9 L484.8,290.3 L484.8,290.1 L484.9,290.0 L484.9,289.8 L485.0,289.6 L485.0,289.4 L485.1,289.2 L485.2,288.9 L485.2,288.9 L485.2,288.7 L485.3,288.4 L485.4,288.2 L485.4,287.9 L485.5,287.6 L485.5,287.5 L485.6,287.3 L485.6,287.0 L485.7,286.7 L485.8,286.4 L485.8,286.0 L485.8,285.9 L485.9,285.7 L486.0,285.3 L486.0,284.9 L486.1,284.6 L486.2,284.2 L486.2,284.1 L486.2,283.8 L486.3,283.4 L486.4,282.9 L486.4,282.5 L486.5,282.1 L486.5,282.0 L486.5,281.6 L486.6,281.2 L486.7,280.7 L486.7,280.2 L486.8,279.7 L486.8,279.6 L486.9,279.2 L486.9,278.7 L487.0,278.1 L487.1,277.6 L487.1,277.0 L487.2,276.9 L487.2,276.5 L487.3,275.9 L487.3,275.3 L487.4,274.7 L487.5,274.2 L487.5,274.0 L487.5,273.5 L487.6,272.9 L487.7,272.3 L487.7,271.7 L487.8,271.1 L487.8,271.0 L487.9,270.4 L487.9,269.8 L488.0,269.1 L488.1,268.5 L488.1,267.8 L488.1,267.7 L488.2,267.1 L488.3,266.5 L488.3,265.8 L488.4,265.1 L488.4,264.5 L488.5,264.4 L488.5,263.8 L488.6,263.1 L488.6,262.5 L488.7,261.8 L488.8,261.1 L488.8,261.0 L488.8,260.5 L488.9,259.8 L489.0,259.2 L489.0,258.5 L489.1,257.9 L489.1,257.8 L489.2,257.3 L489.2,256.6 L489.3,256.0 L489.4,255.4 L489.4,254.9 L489.4,254.8 L489.5,254.3 L489.6,253.7 L489.6,253.2 L489.7,252.7 L489.8,252.2 L489.8,252.1 L489.8,251.7 L489.9,251.2 L490.0,250.8 L490.0,250.4 L490.1,250.0 L490.1,250.0 L490.2,249.6 L490.2,249.3 L490.3,248.9 L490.3,248.7 L490.4,248.4 L490.4,248.4 L490.5,248.2 L490.5,248.0 L490.6,247.8 L490.7,247.6 L490.7,247.5 L490.7,247.5 L490.8,247.4 L490.9,247.4 L490.9,247.4 L491.0,247.4 L491.1,247.4 L491.1,247.4 L491.1,247.5 L491.2,247.6 L491.3,247.8 L491.3,247.9 L491.4,248.1 L491.4,248.1 L491.5,248.4 L491.5,248.6 L491.6,248.9 L491.7,249.2 L491.7,249.6 L491.7,249.6 L491.8,250.0 L491.9,250.4 L491.9,250.8 L492.0,251.2 L492.1,251.7 L492.1,251.7 L492.1,252.2 L492.2,252.7 L492.3,253.2 L492.3,253.8 L492.4,254.3 L492.4,254.4 L492.4,254.9 L492.5,255.5 L492.6,256.2 L492.6,256.8 L492.7,257.4 L492.7,257.4 L492.8,258.1 L492.8,258.7 L492.9,259.4 L493.0,260.1 L493.0,260.7 L493.0,260.8 L493.1,261.5 L493.2,262.2 L493.2,262.9 L493.3,263.6 L493.4,264.2 L493.4,264.3 L493.4,265.0 L493.5,265.7 L493.6,266.4 L493.6,267.1 L493.7,267.7 L493.7,267.8 L493.8,268.5 L493.8,269.2 L493.9,269.9 L494.0,270.6 L494.0,271.2 L494.0,271.3 L494.1,272.0 L494.2,272.7 L494.2,273.4 L494.3,274.0 L494.3,274.6 L494.3,274.7 L494.4,275.3 L494.5,276.0 L494.5,276.6 L494.6,277.2 L494.7,277.8 L494.7,277.9 L494.7,278.5 L494.8,279.1 L494.9,279.7 L494.9,280.3 L495.0,280.7 L495.0,280.8 L495.1,281.4 L495.1,281.9 L495.2,282.5 L495.3,283.0 L495.3,283.4 L495.3,283.5 L495.4,284.0 L495.5,284.5 L495.5,285.0 L495.6,285.5 L495.6,285.9 L495.7,286.0 L495.7,286.4 L495.8,286.9 L495.9,287.3 L495.9,287.7 L496.0,288.1 L496.0,288.1 L496.1,288.5 L496.1,288.9 L496.2,289.3 L496.2,289.7 L496.3,290.0 L496.3,290.0 L496.4,290.4 L496.4,290.7 L496.5,291.1 L496.6,291.4 L496.6,291.6 L496.6,291.7 L496.7,292.0 L496.8,292.3 L496.8,292.6 L496.9,292.9 L497.0,293.1 L497.0,293.1 L497.0,293.4 L497.1,293.7 L497.2,293.9 L497.2,294.1 L497.3,294.3 L497.3,294.4 L497.4,294.6 L497.4,294.8 L497.5,295.0 L497.6,295.2 L497.6,295.4 L497.6,295.4 L497.7,295.6 L497.8,295.8 L497.8,296.0 L497.9,296.3 L498.3,297.0 L498.6,297.7 L498.9,298.2 L499.2,298.7 L499.6,299.2 L499.9,299.5 L500.2,299.9 L500.5,300.2 L500.9,300.5 L501.2,300.8 L501.5,301.1 L501.9,301.3 L502.2,301.5 L502.5,301.8 L502.8,302.0 L503.2,302.2 L503.5,302.4 L503.8,302.6 L504.1,302.8 L504.5,303.0 L504.8,303.1 L505.1,303.3 L505.4,303.5 L505.8,303.6 L506.1,303.7 L506.4,303.9 L506.8,304.0 L507.1,304.1 L507.4,304.2 L507.7,304.3 L508.1,304.4 L508.4,304.5 L508.7,304.6 L509.0,304.6 L509.4,304.7 L509.7,304.8 L510.0,304.9 L510.3,305.0 L510.7,305.0 L511.0,305.1 L511.3,305.2 L511.7,305.2 L512.0,305.3 L512.3,305.4 L512.6,305.4 L513.0,305.5 L513.3,305.6 L513.6,305.6 L513.9,305.7 L514.3,305.7 L514.6,305.8 L514.9,305.8 L515.2,305.9 L515.6,305.9 L515.9,306.0 L516.2,306.1 L516.6,306.1 L516.9,306.1 L517.2,306.2 L517.5,306.2 L517.9,306.3 L518.2,306.3 L518.5,306.4 L518.8,306.4 L519.2,306.5 L519.5,306.5 L519.8,306.5 L520.1,306.6 L520.5,306.6 L520.8,306.7 L521.1,306.7 L521.5,306.7 L521.8,306.8 L522.1,306.8 L522.4,306.9 L522.8,306.9 L523.1,306.9 L523.4,307.0 L523.7,307.0 L524.1,307.0 L524.4,307.1 L524.7,307.1 L525.0,307.1 L525.4,307.2 L525.7,307.2 L526.0,307.2 L526.3,307.3 L526.7,307.3 L527.0,307.3 L527.3,307.4 L527.7,307.4 L528.0,307.4 L528.3,307.5 L528.6,307.5 L529.0,307.5 L529.3,307.6 L529.6,307.6 L529.9,307.6 L530.3,307.6 L530.6,307.7 L530.9,307.7 L531.2,307.7 L531.6,307.7 L531.9,307.8 L532.2,307.8 L532.6,307.8 L532.9,307.8 L533.2,307.9 L533.5,307.9 L533.9,307.9 L534.2,307.9 L534.5,307.9 L534.8,307.9 L535.2,307.8 L535.5,307.8 L535.8,307.7 L536.1,307.6 L536.5,307.5 L536.8,307.4 L537.1,307.2 L537.5,307.1 L537.8,306.9 L538.1,306.7 L538.4,306.5 L538.8,306.4 L539.1,306.2 L539.4,306.1 L539.7,306.1 L540.1,306.2 L540.4,306.3 L540.7,306.4 L541.0,306.6 L541.4,306.9 L541.7,307.1 L542.0,307.3 L542.4,307.6 L542.7,307.8 L543.0,308.0 L543.3,308.1 L543.7,308.3 L544.0,308.4 L544.3,308.5 L544.6,308.6 L545.0,308.6 L545.3,308.7 L545.6,308.8 L545.9,308.8 L546.3,308.8 L546.6,308.9 L546.9,308.9 L547.3,308.9 L547.6,309.0 L547.9,309.0 L548.2,309.0 L548.6,309.0 L548.9,309.1 L549.2,309.1 L549.5,309.1 L549.9,309.1 L550.2,309.1 L550.5,309.2 L550.8,309.2 L551.2,309.2 L551.5,309.2 L551.8,309.2 L552.2,309.3 L552.5,309.3 L552.8,309.3 L553.1,309.3 L553.5,309.3 L553.8,309.3 L554.1,309.4 L554.4,309.4 L554.8,309.4 L555.1,309.4 L555.4,309.4 L555.7,309.5 L556.1,309.5 L556.4,309.5 L556.7,309.5 L557.1,309.5 L557.4,309.5 L557.7,309.5 L558.0,309.6 L558.4,309.6 L558.7,309.6 L559.0,309.6 L559.3,309.6 L559.7,309.6 L560.0,309.7 L560.3,309.7 L560.6,309.7 L561.0,309.7 L561.3,309.7 L561.6,309.7 L562.0,309.7 L562.3,309.8 L562.6,309.8 L562.9,309.8 L563.3,309.8 L563.6,309.8 L563.9,309.8 L564.2,309.9 L564.6,309.9 L564.9,309.9 L565.2,309.9 L565.5,309.9 L565.9,309.9 L566.2,309.9 L566.5,310.0 L566.9,310.0 L567.2,310.0 L567.5,310.0 L567.8,310.0 L568.2,310.0 L568.5,310.0 L568.8,310.1 L569.1,310.1 L569.5,310.1 L569.8,310.1 L570.1,310.1 L570.4,310.1 L570.8,310.1 L571.1,310.2 L571.4,310.2 L571.8,310.2 L572.1,310.2 L572.4,310.2 L572.7,310.2 L573.1,310.2 L573.4,310.2 L573.7,310.3 L574.0,310.3 L574.4,310.3 L574.7,310.3 L575.0,310.3 L575.3,310.3 L575.7,310.3 L576.0,310.3 L576.3,310.4 L576.7,310.4 L577.0,310.4 L577.3,310.4 L577.6,310.4 L578.0,310.4 L578.3,310.4 L578.6,310.4 L578.9,310.5 L579.3,310.5 L579.6,310.5 L579.9,310.5 L580.2,310.5 L580.6,310.5 L580.9,310.5 L581.2,310.5 L581.6,310.6 L581.9,310.6 L582.2,310.6 L582.5,310.6 L582.9,310.6 L583.2,310.6 L583.5,310.6 L583.8,310.6 L584.2,310.6 L584.5,310.7 L584.8,310.7 L585.1,310.7 L585.5,310.7 L585.8,310.7 L586.1,310.7 L586.5,310.7 L586.8,310.7 L587.1,310.7 L587.4,310.7 L587.8,310.8 L588.1,310.8 L588.4,310.8 L588.7,310.8 L589.1,310.8 L589.4,310.8 L589.7,310.8 L590.0,310.8 L590.4,310.8 L590.7,310.8 L591.0,310.8 L591.4,310.9 L591.7,310.9 L592.0,310.9 L592.3,310.9 L592.7,310.9 L593.0,310.9 L593.3,310.9 L593.6,310.9 L594.0,310.9 L594.3,310.9 L594.6,310.9 L594.9,310.9 L595.3,310.9 L595.6,311.0 L595.9,311.0 L596.3,311.0 L596.6,311.0 L596.9,311.0 L597.2,311.0 L597.6,311.0 L597.9,311.0 L598.2,311.0 L598.5,311.0 L598.9,311.0 L599.2,311.0 L599.5,311.0 L599.8,311.0 L600.2,311.0 L600.5,311.0 L600.8,311.0 L601.2,311.1 L601.5,311.1 L601.8,311.1 L602.1,311.1 L602.5,311.1 L602.8,311.1 L603.1,311.1 L603.4,311.1 L603.8,311.1 L604.1,311.1 L604.4,311.1 L604.7,311.1 L605.1,311.1 L605.4,311.1" stroke="#ee2222" stroke-dasharray="3.5,2.3"/>
<path d="M442.4,301.0 L442.7,300.9 L443.1,300.8 L443.4,300.7 L443.7,300.6 L444.0,300.5 L444.4,300.5 L444.7,300.4 L445.0,300.3 L445.3,300.2 L445.7,300.1 L446.0,300.0 L446.3,300.0 L446.6,299.9 L447.0,299.8 L447.3,299.7 L447.6,299.6 L448.0,299.6 L448.3,299.5 L448.6,299.4 L448.9,299.3 L449.3,299.2 L449.6,299.1 L449.9,299.1 L450.2,299.0 L450.6,298.9 L450.9,298.8 L451.2,298.7 L451.5,298.6 L451.9,298.5 L452.2,298.4 L452.5,298.3 L452.9,298.2 L453.2,298.1 L453.5,298.0 L453.8,297.8 L454.2,297.7 L454.5,297.6 L454.8,297.4 L455.1,297.3 L455.5,297.2 L455.8,297.0 L456.1,296.8 L456.4,296.7 L456.8,296.5 L457.1,296.3 L457.4,296.0 L457.8,295.8 L458.1,295.6 L458.4,295.3 L458.7,295.0 L459.1,294.6 L459.4,294.3 L459.7,293.9 L460.0,293.4 L460.4,292.9 L460.7,292.3 L461.0,291.7 L461.3,290.9 L461.7,290.0 L462.0,289.0 L462.3,287.8 L462.7,286.4 L463.0,284.8 L463.3,282.9 L463.6,280.8 L464.0,278.4 L464.3,275.6 L464.6,272.5 L464.9,269.0 L465.3,265.1 L465.6,260.9 L465.9,256.2 L466.2,251.2 L466.6,245.8 L466.9,240.1 L467.2,234.2 L467.6,228.0 L467.9,221.8 L468.2,215.6 L468.5,209.7 L468.9,204.1 L469.2,199.0 L469.5,194.7 L469.8,191.5 L470.2,189.3 L470.5,188.5 L470.8,189.0 L471.1,190.8 L471.5,193.8 L471.8,197.9 L472.1,202.8 L472.5,208.3 L472.8,214.3 L473.1,220.6 L473.4,226.9 L473.8,233.2 L474.1,239.3 L474.4,245.2 L474.7,250.8 L475.1,256.1 L475.4,261.0 L475.7,265.5 L476.0,269.6 L476.4,273.3 L476.7,276.7 L477.0,279.6 L477.4,282.3 L477.7,284.6 L478.0,286.6 L478.3,288.4 L478.7,289.9 L479.0,291.3 L479.3,292.4 L479.6,293.4 L480.0,294.3 L480.3,295.1 L480.6,295.7 L480.9,296.3 L481.3,296.8 L481.6,297.3 L481.9,297.7 L482.3,298.0 L482.6,298.3 L482.9,298.6 L483.2,298.8 L483.6,299.1 L483.9,299.3 L484.2,299.4 L484.5,299.6 L484.8,299.7 L484.8,299.7 L484.9,299.7 L484.9,299.7 L485.0,299.7 L485.0,299.7 L485.1,299.8 L485.2,299.8 L485.2,299.8 L485.2,299.8 L485.3,299.8 L485.4,299.8 L485.4,299.9 L485.5,299.9 L485.5,299.9 L485.6,299.9 L485.6,299.9 L485.7,299.9 L485.8,299.9 L485.8,299.9 L485.8,299.9 L485.9,299.9 L486.0,300.0 L486.0,300.0 L486.1,300.0 L486.2,300.0 L486.2,300.0 L486.2,300.0 L486.3,300.0 L486.4,300.0 L486.4,300.0 L486.5,300.0 L486.5,300.0 L486.5,300.0 L486.6,300.0 L486.7,300.1 L486.7,300.1 L486.8,300.1 L486.8,300.1 L486.9,300.1 L486.9,300.1 L487.0,300.1 L487.1,300.1 L487.1,300.1 L487.2,300.1 L487.2,300.1 L487.3,300.1 L487.3,300.1 L487.4,300.1 L487.5,300.1 L487.5,300.1 L487.5,300.1 L487.6,300.1 L487.7,300.1 L487.7,300.1 L487.8,300.1 L487.8,300.1 L487.9,300.1 L487.9,300.1 L488.0,300.1 L488.1,300.1 L488.1,300.1 L488.1,300.1 L488.2,300.1 L488.3,300.1 L488.3,300.1 L488.4,300.1 L488.4,300.1 L488.5,300.1 L488.5,300.1 L488.6,300.1 L488.6,300.1 L488.7,300.1 L488.8,300.1 L488.8,300.1 L488.8,300.1 L488.9,300.1 L489.0,300.0 L489.0,300.0 L489.1,300.0 L489.1,300.0 L489.2,300.0 L489.2,300.0 L489.3,300.0 L489.4,300.0 L489.4,300.0 L489.4,300.0 L489.5,300.0 L489.6,300.0 L489.6,300.0 L489.7,299.9 L489.8,299.9 L489.8,299.9 L489.8,299.9 L489.9,299.9 L490.0,299.9 L490.0,299.9 L490.1,299.8 L490.1,299.8 L490.2,299.8 L490.2,299.8 L490.3,299.8 L490.3,299.8 L490.4,299.7 L490.4,299.7 L490.5,299.7 L490.5,299.7 L490.6,299.7 L490.7,299.6 L490.7,299.6 L490.7,299.6 L490.8,299.6 L490.9,299.5 L490.9,299.5 L491.0,299.5 L491.1,299.4 L491.1,299.4 L491.1,299.4 L491.2,299.3 L491.3,299.3 L491.3,299.2 L491.4,299.2 L491.4,299.2 L491.5,299.1 L491.5,299.1 L491.6,299.0 L491.7,299.0 L491.7,298.9 L491.7,298.9 L491.8,298.8 L491.9,298.8 L491.9,298.7 L492.0,298.6 L492.1,298.5 L492.1,298.5 L492.1,298.5 L492.2,298.4 L492.3,298.3 L492.3,298.2 L492.4,298.1 L492.4,298.1 L492.4,298.0 L492.5,297.9 L492.6,297.8 L492.6,297.6 L492.7,297.5 L492.7,297.5 L492.8,297.4 L492.8,297.3 L492.9,297.2 L493.0,297.0 L493.0,296.9 L493.0,296.9 L493.1,296.7 L493.2,296.6 L493.2,296.4 L493.3,296.3 L493.4,296.1 L493.4,296.1 L493.4,296.0 L493.5,295.8 L493.6,295.6 L493.6,295.4 L493.7,295.3 L493.7,295.3 L493.8,295.1 L493.8,294.9 L493.9,294.7 L494.0,294.5 L494.0,294.3 L494.0,294.3 L494.1,294.1 L494.2,293.9 L494.2,293.7 L494.3,293.5 L494.3,293.3 L494.3,293.3 L494.4,293.1 L494.5,292.9 L494.5,292.6 L494.6,292.4 L494.7,292.2 L494.7,292.2 L494.7,292.0 L494.8,291.8 L494.9,291.5 L494.9,291.3 L495.0,291.1 L495.0,291.1 L495.1,290.9 L495.1,290.6 L495.2,290.4 L495.3,290.2 L495.3,290.0 L495.3,290.0 L495.4,289.8 L495.5,289.6 L495.5,289.4 L495.6,289.2 L495.6,289.0 L495.7,289.0 L495.7,288.8 L495.8,288.6 L495.9,288.4 L495.9,288.2 L496.0,288.1 L496.0,288.0 L496.1,287.9 L496.1,287.7 L496.2,287.6 L496.2,287.4 L496.3,287.3 L496.3,287.3 L496.4,287.2 L496.4,287.0 L496.5,286.9 L496.6,286.8 L496.6,286.8 L496.6,286.8 L496.7,286.7 L496.8,286.6 L496.8,286.6 L496.9,286.5 L497.0,286.5 L497.0,286.5 L497.0,286.5 L497.1,286.5 L497.2,286.5 L497.2,286.5 L497.3,286.5 L497.3,286.6 L497.4,286.6 L497.4,286.7 L497.5,286.7 L497.6,286.8 L497.6,286.9 L497.6,286.9 L497.7,287.0 L497.8,287.1 L497.8,287.3 L497.9,287.5 L498.3,288.4 L498.6,289.4 L498.9,290.6 L499.2,291.8 L499.6,293.1 L499.9,294.3 L500.2,295.5 L500.5,296.7 L500.9,297.7 L501.2,298.7 L501.5,299.5 L501.9,300.2 L502.2,300.9 L502.5,301.4 L502.8,301.8 L503.2,302.2 L503.5,302.5 L503.8,302.8 L504.1,303.0 L504.5,303.2 L504.8,303.4 L505.1,303.5 L505.4,303.7 L505.8,303.8 L506.1,303.9 L506.4,304.0 L506.8,304.1 L507.1,304.1 L507.4,304.2 L507.7,304.3 L508.1,304.3 L508.4,304.4 L508.7,304.4 L509.0,304.5 L509.4,304.5 L509.7,304.6 L510.0,304.6 L510.3,304.7 L510.7,304.7 L511.0,304.8 L511.3,304.8 L511.7,304.9 L512.0,304.9 L512.3,304.9 L512.6,305.0 L513.0,305.0 L513.3,305.1 L513.6,305.1 L513.9,305.1 L514.3,305.2 L514.6,305.2 L514.9,305.2 L515.2,305.3 L515.6,305.3 L515.9,305.3 L516.2,305.4 L516.6,305.4 L516.9,305.4 L517.2,305.5 L517.5,305.5 L517.9,305.5 L518.2,305.5 L518.5,305.6 L518.8,305.6 L519.2,305.6 L519.5,305.7 L519.8,305.7 L520.1,305.7 L520.5,305.7 L520.8,305.8 L521.1,305.8 L521.5,305.8 L521.8,305.9 L522.1,305.9 L522.4,305.9 L522.8,305.9 L523.1,306.0 L523.4,306.0 L523.7,306.0 L524.1,306.0 L524.4,306.1 L524.7,306.1 L525.0,306.1 L525.4,306.2 L525.7,306.2 L526.0,306.2 L526.3,306.2 L526.7,306.3 L527.0,306.3 L527.3,306.3 L527.7,306.4 L528.0,306.4 L528.3,306.4 L528.6,306.4 L529.0,306.5 L529.3,306.5 L529.6,306.5 L529.9,306.6 L530.3,306.6 L530.6,306.6 L530.9,306.6 L531.2,306.7 L531.6,306.7 L531.9,306.7 L532.2,306.7 L532.6,306.8 L532.9,306.8 L533.2,306.8 L533.5,306.9 L533.9,306.9 L534.2,306.9 L534.5,306.9 L534.8,307.0 L535.2,307.0 L535.5,307.0 L535.8,307.0 L536.1,307.1 L536.5,307.1 L536.8,307.1 L537.1,307.2 L537.5,307.2 L537.8,307.2 L538.1,307.2 L538.4,307.3 L538.8,307.3 L539.1,307.3 L539.4,307.3 L539.7,307.4 L540.1,307.4 L540.4,307.4 L540.7,307.4 L541.0,307.5 L541.4,307.5 L541.7,307.5 L542.0,307.6 L542.4,307.6 L542.7,307.6 L543.0,307.6 L543.3,307.7 L543.7,307.7 L544.0,307.7 L544.3,307.7 L544.6,307.8 L545.0,307.8 L545.3,307.8 L545.6,307.8 L545.9,307.9 L546.3,307.9 L546.6,307.9 L546.9,307.9 L547.3,308.0 L547.6,308.0 L547.9,308.0 L548.2,308.0 L548.6,308.1 L548.9,308.1 L549.2,308.1 L549.5,308.1 L549.9,308.2 L550.2,308.2 L550.5,308.2 L550.8,308.2 L551.2,308.2 L551.5,308.3 L551.8,308.3 L552.2,308.3 L552.5,308.3 L552.8,308.4 L553.1,308.4 L553.5,308.4 L553.8,308.4 L554.1,308.5 L554.4,308.5 L554.8,308.5 L555.1,308.5 L555.4,308.6 L555.7,308.6 L556.1,308.6 L556.4,308.6 L556.7,308.6 L557.1,308.7 L557.4,308.7 L557.7,308.7 L558.0,308.7 L558.4,308.8 L558.7,308.8 L559.0,308.8 L559.3,308.8 L559.7,308.8 L560.0,308.9 L560.3,308.9 L560.6,308.9 L561.0,308.9 L561.3,308.9 L561.6,309.0 L562.0,309.0 L562.3,309.0 L562.6,309.0 L562.9,309.1 L563.3,309.1 L563.6,309.1 L563.9,309.1 L564.2,309.1 L564.6,309.2 L564.9,309.2 L565.2,309.2 L565.5,309.2 L565.9,309.2 L566.2,309.3 L566.5,309.3 L566.9,309.3 L567.2,309.3 L567.5,309.4 L567.8,309.4 L568.2,309.4 L568.5,309.4 L568.8,309.4 L569.1,309.5 L569.5,309.5 L569.8,309.5 L570.1,309.5 L570.4,309.5 L570.8,309.6 L571.1,309.6 L571.4,309.6 L571.8,309.6 L572.1,309.6 L572.4,309.7 L572.7,309.7 L573.1,309.7 L573.4,309.7 L573.7,309.7 L574.0,309.8 L574.4,309.8 L574.7,309.8 L575.0,309.8 L575.3,309.8 L575.7,309.9 L576.0,309.9 L576.3,309.9 L576.7,309.9 L577.0,309.9 L577.3,310.0 L577.6,310.0 L578.0,310.0 L578.3,310.0 L578.6,310.0 L578.9,310.1 L579.3,310.1 L579.6,310.1 L579.9,310.1 L580.2,310.1 L580.6,310.2 L580.9,310.2 L581.2,310.2 L581.6,310.2 L581.9,310.2 L582.2,310.3 L582.5,310.3 L582.9,310.3 L583.2,310.3 L583.5,310.3 L583.8,310.4 L584.2,310.4 L584.5,310.4 L584.8,310.4 L585.1,310.4 L585.5,310.5 L585.8,310.5 L586.1,310.5 L586.5,310.5 L586.8,310.5 L587.1,310.5 L587.4,310.6 L587.8,310.6 L588.1,310.6 L588.4,310.6 L588.7,310.6 L589.1,310.7 L589.4,310.7 L589.7,310.7 L590.0,310.7 L590.4,310.7 L590.7,310.8 L591.0,310.8 L591.4,310.8 L591.7,310.8 L592.0,310.8 L592.3,310.8 L592.7,310.9 L593.0,310.9 L593.3,310.9 L593.6,310.9 L594.0,310.9 L594.3,311.0 L594.6,311.0 L594.9,311.0 L595.3,311.0 L595.6,311.0 L595.9,311.0 L596.3,311.1 L596.6,311.1 L596.9,311.1 L597.2,311.1 L597.6,311.1 L597.9,311.1 L598.2,311.2 L598.5,311.2 L598.9,311.2 L599.2,311.2 L599.5,311.2 L599.8,311.2 L600.2,311.3 L600.5,311.3 L600.8,311.3 L601.2,311.3 L601.5,311.3 L601.8,311.3 L602.1,311.4 L602.5,311.4 L602.8,311.4 L603.1,311.4 L603.4,311.4 L603.8,311.5 L604.1,311.5 L604.4,311.5 L604.7,311.5 L605.1,311.5 L605.4,311.5" stroke="#1414f0" stroke-dasharray="3.5,2.3"/>
</g>
<g stroke="#22b060" stroke-width="1.4">
<line x1="470.4" y1="255" x2="470.4" y2="316"/>
<line x1="491.3" y1="176.4" x2="491.3" y2="316"/>
<line x1="498.7" y1="276" x2="498.7" y2="316"/>
<line x1="526.6" y1="263" x2="526.6" y2="316"/>
<line x1="540.4" y1="286.3" x2="540.4" y2="316"/>
<line x1="556.3" y1="299" x2="556.3" y2="303"/>
<line x1="583.5" y1="301.5" x2="583.5" y2="304"/>
</g>
<rect x="489.5" y="246.4" width="2.4" height="2.4" fill="#d84030"/>
<g font-family='"Liberation Sans", sans-serif' font-size="10" fill="#111">
<text transform="translate(474.0,244.6) rotate(-90)" textLength="16.6" lengthAdjust="spacingAndGlyphs">100</text>
<text transform="translate(494.8,222.9) rotate(-90)" textLength="16.1" lengthAdjust="spacingAndGlyphs">110</text>
<text transform="translate(510.4,270.0) rotate(-90)" textLength="16.2" lengthAdjust="spacingAndGlyphs">200</text>
<text transform="translate(530.6,258.3) rotate(-90)" textLength="15.7" lengthAdjust="spacingAndGlyphs">300</text>
<text transform="translate(544.6,282.0) rotate(-90)" textLength="16.2" lengthAdjust="spacingAndGlyphs">220</text>
<text transform="translate(560.3,295.9) rotate(-90)" textLength="16.2" lengthAdjust="spacingAndGlyphs">400</text>
<text transform="translate(587.1,299.8) rotate(-90)" textLength="16.8" lengthAdjust="spacingAndGlyphs">500</text>
</g>
<line x1="503.6" y1="273.2" x2="499.5" y2="283.3" stroke="#000" stroke-width="1.1"/><path d="M497.7,287.6 L497.4,281.9 L501.6,283.6 Z" fill="#000"/>
<rect x="442.4" y="176.4" width="160.20000000000005" height="139.6" fill="none" stroke="#c8c8c8" stroke-width="1"/>
<g stroke="#c0c0c0" stroke-width="1">
<line x1="458.70" y1="316.0" x2="458.70" y2="313.0"/>
<line x1="475.00" y1="316.0" x2="475.00" y2="313.0"/>
<line x1="491.30" y1="316.0" x2="491.30" y2="313.0"/>
<line x1="507.60" y1="316.0" x2="507.60" y2="313.0"/>
<line x1="523.90" y1="316.0" x2="523.90" y2="313.0"/>
<line x1="540.20" y1="316.0" x2="540.20" y2="313.0"/>
<line x1="556.50" y1="316.0" x2="556.50" y2="313.0"/>
<line x1="572.80" y1="316.0" x2="572.80" y2="313.0"/>
<line x1="589.10" y1="316.0" x2="589.10" y2="313.0"/>
<line x1="442.4" y1="278.10" x2="445.4" y2="278.10"/>
<line x1="442.4" y1="238.80" x2="445.4" y2="238.80"/>
<line x1="442.4" y1="199.50" x2="445.4" y2="199.50"/>
</g>
<g font-family='"Liberation Sans", sans-serif' font-size="9" fill="#333">
<text x="439.4" y="281.30" text-anchor="end">0.5</text>
<text x="439.4" y="242.00" text-anchor="end">1.0</text>
<text x="439.4" y="202.70" text-anchor="end">1.5</text>
<text x="443.20" y="326.0" text-anchor="middle">0</text>
<text x="475.80" y="326.0" text-anchor="middle">0.2</text>
<text x="508.40" y="326.0" text-anchor="middle">0.4</text>
<text x="541.00" y="326.0" text-anchor="middle">0.6</text>
<text x="573.60" y="326.0" text-anchor="middle">0.8</text>
</g>
<rect x="523.9" y="180.2" width="71.4" height="46.8" fill="#fff" stroke="#a0a0a0" stroke-width="0.8"/>
<line x1="526.9" y1="187.7" x2="546.4" y2="187.7" stroke="#2020ee" stroke-width="1.3" stroke-dasharray="3.5,2.2"/>
<text x="549.9" y="190.5" font-family='"Liberation Sans", sans-serif' font-size="8" fill="#222" textLength="40.2" lengthAdjust="spacingAndGlyphs">h00, 50KeV</text>
<line x1="526.9" y1="199.3" x2="546.4" y2="199.3" stroke="#ee2020" stroke-width="1.3" stroke-dasharray="3.5,2.2"/>
<text x="549.9" y="202.10000000000002" font-family='"Liberation Sans", sans-serif' font-size="8" fill="#222" textLength="38.5" lengthAdjust="spacingAndGlyphs">hh0, 50KeV</text>
<line x1="526.9" y1="210.9" x2="546.4" y2="210.9" stroke="#1010ee" stroke-width="1.3" />
<text x="549.9" y="213.70000000000002" font-family='"Liberation Sans", sans-serif' font-size="8" fill="#222" textLength="41.2" lengthAdjust="spacingAndGlyphs">h00, 2.8MeV</text>
<line x1="526.9" y1="221.4" x2="546.4" y2="221.4" stroke="#ee2020" stroke-width="1.3" />
<text x="549.9" y="224.20000000000002" font-family='"Liberation Sans", sans-serif' font-size="8" fill="#222" textLength="41" lengthAdjust="spacingAndGlyphs">hh0, 2.8MeV</text>
<text transform="translate(424.2,188.9) scale(1.12,1)" font-family='"Liberation Sans", sans-serif' font-size="17.5" font-weight="bold" fill="#000">f</text>
<text transform="translate(422.6,284) rotate(-90)" font-family='"Liberation Sans", sans-serif' font-size="10" fill="#222" textLength="73.5" lengthAdjust="spacingAndGlyphs">Intensity (×10<tspan font-size="6.5" dy="-3.5">-3</tspan><tspan dy="3.5">)</tspan></text>
<text x="463.1" y="340.4" font-family='"Liberation Sans", sans-serif' font-size="10" fill="#222" textLength="102" lengthAdjust="spacingAndGlyphs">Scattering vector sinθ/λ</text>
<text x="568.6" y="340.4" font-family='"Liberation Sans", sans-serif' font-size="9.3" fill="#222" textLength="20.4" lengthAdjust="spacingAndGlyphs">(1/Å)</text>
</svg>
</body></html>
